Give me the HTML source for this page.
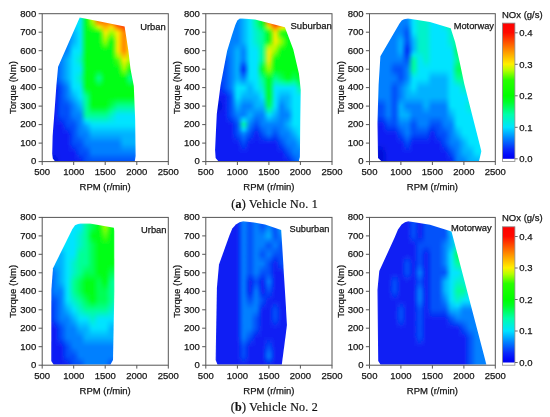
<!DOCTYPE html>
<html><head><meta charset="utf-8"><style>
html,body{margin:0;padding:0;background:#fff;}
svg{display:block}
.t{font-family:"Liberation Sans",Arial,sans-serif;font-size:9.5px;fill:#151515;stroke:#151515;stroke-width:0.25px;}
.cap{font-family:"Liberation Serif","Times New Roman",serif;font-size:12px;letter-spacing:0.25px;fill:#111;stroke:#111;stroke-width:0.2px;}
</style></head><body>
<svg width="550" height="417" viewBox="0 0 550 417">
<defs>
<filter id="bl" x="-5%" y="-5%" width="110%" height="110%"><feGaussianBlur stdDeviation="1.0"/></filter>
<clipPath id="c0"><polygon points="79.7,17.5 100.0,21.4 124.6,26.6 128.4,50.8 130.5,69.0 133.8,86.0 135.2,120.0 135.7,156.0 134.8,161.2 55.0,161.2 52.8,158.5 52.1,153.7 52.6,136.0 54.6,110.6 56.4,85.3 58.1,66.7"/></clipPath>
<clipPath id="c1"><polygon points="242.4,18.5 255.0,19.5 284.9,27.3 293.3,49.4 298.9,73.6 300.8,90.0 300.3,120.0 299.9,157.0 298.8,161.2 218.4,161.2 215.6,158.0 215.0,150.0 216.8,114.0 220.6,85.0 227.1,51.0 232.0,35.0 235.3,25.0 237.3,20.6 239.8,18.6"/></clipPath>
<clipPath id="c2"><polygon points="408.0,18.6 430.0,22.0 450.7,28.3 455.1,42.0 459.6,61.7 464.3,84.0 481.4,151.2 479.0,161.2 381.5,161.2 378.0,158.0 377.4,123.0 378.6,85.0 380.4,56.3 399.5,23.5 401.7,20.6 404.0,19.2"/></clipPath>
<clipPath id="c3"><polygon points="80.5,223.6 90.0,223.6 113.9,227.8 114.3,231.0 114.4,290.0 113.0,360.0 110.5,364.6 53.6,364.6 51.2,361.0 51.3,290.0 53.0,268.2 72.3,229.2 75.0,225.3 78.0,224.0"/></clipPath>
<clipPath id="c4"><polygon points="243.2,221.3 254.1,222.6 265.0,224.4 281.2,229.9 285.0,292.0 287.0,325.0 281.8,364.6 217.5,364.6 215.6,360.0 216.9,288.0 219.0,264.6 229.4,235.4 232.3,228.5 235.9,224.5 239.5,222.2"/></clipPath>
<clipPath id="c5"><polygon points="408.2,221.2 419.1,223.0 430.0,224.8 451.5,231.4 486.4,364.6 380.5,364.6 378.2,361.0 377.4,290.0 379.3,271.0 394.3,238.3 398.0,229.5 401.6,224.5 405.0,222.2"/></clipPath>
<linearGradient id="g0_0" gradientUnits="userSpaceOnUse" x1="42.2" x2="143.1" y1="0" y2="0"><stop offset="0.000" stop-color="#00e4ff"/><stop offset="0.062" stop-color="#00e4ff"/><stop offset="0.125" stop-color="#00e4ff"/><stop offset="0.188" stop-color="#00e4ff"/><stop offset="0.250" stop-color="#00e4ff"/><stop offset="0.312" stop-color="#00e4ff"/><stop offset="0.375" stop-color="#00e4ff"/><stop offset="0.438" stop-color="#00ff14"/><stop offset="0.500" stop-color="#d3f400"/><stop offset="0.562" stop-color="#ff4700"/><stop offset="0.625" stop-color="#ff4700"/><stop offset="0.688" stop-color="#ff4700"/><stop offset="0.750" stop-color="#ff1400"/><stop offset="0.812" stop-color="#ff1400"/><stop offset="0.875" stop-color="#ff1400"/><stop offset="0.938" stop-color="#ff1400"/><stop offset="1.000" stop-color="#ff1400"/></linearGradient>
<linearGradient id="g0_1" gradientUnits="userSpaceOnUse" x1="42.2" x2="143.1" y1="0" y2="0"><stop offset="0.000" stop-color="#00e4ff"/><stop offset="0.062" stop-color="#00e4ff"/><stop offset="0.125" stop-color="#00e4ff"/><stop offset="0.188" stop-color="#00e4ff"/><stop offset="0.250" stop-color="#00e4ff"/><stop offset="0.312" stop-color="#00e4ff"/><stop offset="0.375" stop-color="#00e4ff"/><stop offset="0.438" stop-color="#00ff14"/><stop offset="0.500" stop-color="#b4fb00"/><stop offset="0.562" stop-color="#ff6b00"/><stop offset="0.625" stop-color="#ff6b00"/><stop offset="0.688" stop-color="#ff6b00"/><stop offset="0.750" stop-color="#ff1400"/><stop offset="0.812" stop-color="#ff1400"/><stop offset="0.875" stop-color="#ff1400"/><stop offset="0.938" stop-color="#ff1400"/><stop offset="1.000" stop-color="#ff1400"/></linearGradient>
<linearGradient id="g0_2" gradientUnits="userSpaceOnUse" x1="42.2" x2="143.1" y1="0" y2="0"><stop offset="0.000" stop-color="#00d9ff"/><stop offset="0.062" stop-color="#00d9ff"/><stop offset="0.125" stop-color="#00d9ff"/><stop offset="0.188" stop-color="#00d9ff"/><stop offset="0.250" stop-color="#00d9ff"/><stop offset="0.312" stop-color="#00deff"/><stop offset="0.375" stop-color="#00e4ff"/><stop offset="0.438" stop-color="#00ff14"/><stop offset="0.500" stop-color="#8eff02"/><stop offset="0.562" stop-color="#ffa600"/><stop offset="0.625" stop-color="#ff8e00"/><stop offset="0.688" stop-color="#ff9a00"/><stop offset="0.750" stop-color="#ff2d00"/><stop offset="0.812" stop-color="#ff2100"/><stop offset="0.875" stop-color="#ff2100"/><stop offset="0.938" stop-color="#ff2100"/><stop offset="1.000" stop-color="#ff2100"/></linearGradient>
<linearGradient id="g0_3" gradientUnits="userSpaceOnUse" x1="42.2" x2="143.1" y1="0" y2="0"><stop offset="0.000" stop-color="#00b8ff"/><stop offset="0.062" stop-color="#00b8ff"/><stop offset="0.125" stop-color="#00b8ff"/><stop offset="0.188" stop-color="#00b8ff"/><stop offset="0.250" stop-color="#00b8ff"/><stop offset="0.312" stop-color="#00ceff"/><stop offset="0.375" stop-color="#00e4ff"/><stop offset="0.438" stop-color="#00ff14"/><stop offset="0.500" stop-color="#5aff09"/><stop offset="0.562" stop-color="#e1f100"/><stop offset="0.625" stop-color="#ffb000"/><stop offset="0.688" stop-color="#ffde00"/><stop offset="0.750" stop-color="#ff7500"/><stop offset="0.812" stop-color="#ff4400"/><stop offset="0.875" stop-color="#ff4400"/><stop offset="0.938" stop-color="#ff4400"/><stop offset="1.000" stop-color="#ff4400"/></linearGradient>
<linearGradient id="g0_4" gradientUnits="userSpaceOnUse" x1="42.2" x2="143.1" y1="0" y2="0"><stop offset="0.000" stop-color="#0098ff"/><stop offset="0.062" stop-color="#0098ff"/><stop offset="0.125" stop-color="#0098ff"/><stop offset="0.188" stop-color="#0098ff"/><stop offset="0.250" stop-color="#0098ff"/><stop offset="0.312" stop-color="#00beff"/><stop offset="0.375" stop-color="#00e4ff"/><stop offset="0.438" stop-color="#00ff14"/><stop offset="0.500" stop-color="#26ff0f"/><stop offset="0.562" stop-color="#72ff06"/><stop offset="0.625" stop-color="#ffd200"/><stop offset="0.688" stop-color="#cdf600"/><stop offset="0.750" stop-color="#ffb900"/><stop offset="0.812" stop-color="#ff6800"/><stop offset="0.875" stop-color="#ff6800"/><stop offset="0.938" stop-color="#ff6800"/><stop offset="1.000" stop-color="#ff6800"/></linearGradient>
<linearGradient id="g0_5" gradientUnits="userSpaceOnUse" x1="42.2" x2="143.1" y1="0" y2="0"><stop offset="0.000" stop-color="#0080ff"/><stop offset="0.062" stop-color="#0080ff"/><stop offset="0.125" stop-color="#0080ff"/><stop offset="0.188" stop-color="#0080ff"/><stop offset="0.250" stop-color="#0080ff"/><stop offset="0.312" stop-color="#00b2ff"/><stop offset="0.375" stop-color="#00e4ff"/><stop offset="0.438" stop-color="#00ff14"/><stop offset="0.500" stop-color="#00ff14"/><stop offset="0.562" stop-color="#00ff14"/><stop offset="0.625" stop-color="#f7ed00"/><stop offset="0.688" stop-color="#92ff02"/><stop offset="0.750" stop-color="#ffeb00"/><stop offset="0.812" stop-color="#ff8200"/><stop offset="0.875" stop-color="#ff8b00"/><stop offset="0.938" stop-color="#ff8b00"/><stop offset="1.000" stop-color="#ff8b00"/></linearGradient>
<linearGradient id="g0_6" gradientUnits="userSpaceOnUse" x1="42.2" x2="143.1" y1="0" y2="0"><stop offset="0.000" stop-color="#0080ff"/><stop offset="0.062" stop-color="#0080ff"/><stop offset="0.125" stop-color="#0080ff"/><stop offset="0.188" stop-color="#0080ff"/><stop offset="0.250" stop-color="#0080ff"/><stop offset="0.312" stop-color="#00b2ff"/><stop offset="0.375" stop-color="#00e4ff"/><stop offset="0.438" stop-color="#00ff14"/><stop offset="0.500" stop-color="#00ff14"/><stop offset="0.562" stop-color="#00ff14"/><stop offset="0.625" stop-color="#d8f300"/><stop offset="0.688" stop-color="#5eff08"/><stop offset="0.750" stop-color="#ffeb00"/><stop offset="0.812" stop-color="#ff8200"/><stop offset="0.875" stop-color="#ffad00"/><stop offset="0.938" stop-color="#ffad00"/><stop offset="1.000" stop-color="#ffad00"/></linearGradient>
<linearGradient id="g0_7" gradientUnits="userSpaceOnUse" x1="42.2" x2="143.1" y1="0" y2="0"><stop offset="0.000" stop-color="#0080ff"/><stop offset="0.062" stop-color="#0080ff"/><stop offset="0.125" stop-color="#0080ff"/><stop offset="0.188" stop-color="#0080ff"/><stop offset="0.250" stop-color="#0080ff"/><stop offset="0.312" stop-color="#00b2ff"/><stop offset="0.375" stop-color="#00e4ff"/><stop offset="0.438" stop-color="#00ff14"/><stop offset="0.500" stop-color="#00ff14"/><stop offset="0.562" stop-color="#00ff14"/><stop offset="0.625" stop-color="#b9fa00"/><stop offset="0.688" stop-color="#2aff0f"/><stop offset="0.750" stop-color="#ffeb00"/><stop offset="0.812" stop-color="#ff8200"/><stop offset="0.875" stop-color="#ffcf00"/><stop offset="0.938" stop-color="#ffcf00"/><stop offset="1.000" stop-color="#ffcf00"/></linearGradient>
<linearGradient id="g0_8" gradientUnits="userSpaceOnUse" x1="42.2" x2="143.1" y1="0" y2="0"><stop offset="0.000" stop-color="#0080ff"/><stop offset="0.062" stop-color="#0080ff"/><stop offset="0.125" stop-color="#0080ff"/><stop offset="0.188" stop-color="#0080ff"/><stop offset="0.250" stop-color="#0080ff"/><stop offset="0.312" stop-color="#00b5ff"/><stop offset="0.375" stop-color="#00e4ff"/><stop offset="0.438" stop-color="#00ff14"/><stop offset="0.500" stop-color="#00ff14"/><stop offset="0.562" stop-color="#00ff14"/><stop offset="0.625" stop-color="#96ff01"/><stop offset="0.688" stop-color="#00ff14"/><stop offset="0.750" stop-color="#ffeb00"/><stop offset="0.812" stop-color="#ff8200"/><stop offset="0.875" stop-color="#ffeb00"/><stop offset="0.938" stop-color="#ffeb00"/><stop offset="1.000" stop-color="#ffeb00"/></linearGradient>
<linearGradient id="g0_9" gradientUnits="userSpaceOnUse" x1="42.2" x2="143.1" y1="0" y2="0"><stop offset="0.000" stop-color="#0080ff"/><stop offset="0.062" stop-color="#0080ff"/><stop offset="0.125" stop-color="#0080ff"/><stop offset="0.188" stop-color="#0080ff"/><stop offset="0.250" stop-color="#0080ff"/><stop offset="0.312" stop-color="#00c5ff"/><stop offset="0.375" stop-color="#00e4ff"/><stop offset="0.438" stop-color="#00ff14"/><stop offset="0.500" stop-color="#00ff14"/><stop offset="0.562" stop-color="#00ff14"/><stop offset="0.625" stop-color="#62ff08"/><stop offset="0.688" stop-color="#00ff14"/><stop offset="0.750" stop-color="#ffeb00"/><stop offset="0.812" stop-color="#ff8200"/><stop offset="0.875" stop-color="#ffeb00"/><stop offset="0.938" stop-color="#ffeb00"/><stop offset="1.000" stop-color="#ffeb00"/></linearGradient>
<linearGradient id="g0_10" gradientUnits="userSpaceOnUse" x1="42.2" x2="143.1" y1="0" y2="0"><stop offset="0.000" stop-color="#0080ff"/><stop offset="0.062" stop-color="#0080ff"/><stop offset="0.125" stop-color="#0080ff"/><stop offset="0.188" stop-color="#0080ff"/><stop offset="0.250" stop-color="#0080ff"/><stop offset="0.312" stop-color="#00d6ff"/><stop offset="0.375" stop-color="#00e4ff"/><stop offset="0.438" stop-color="#00ff14"/><stop offset="0.500" stop-color="#00ff14"/><stop offset="0.562" stop-color="#00ff14"/><stop offset="0.625" stop-color="#2eff0e"/><stop offset="0.688" stop-color="#00ff14"/><stop offset="0.750" stop-color="#ffeb00"/><stop offset="0.812" stop-color="#ff8200"/><stop offset="0.875" stop-color="#ffeb00"/><stop offset="0.938" stop-color="#ffeb00"/><stop offset="1.000" stop-color="#ffeb00"/></linearGradient>
<linearGradient id="g0_11" gradientUnits="userSpaceOnUse" x1="42.2" x2="143.1" y1="0" y2="0"><stop offset="0.000" stop-color="#0080ff"/><stop offset="0.062" stop-color="#0080ff"/><stop offset="0.125" stop-color="#0080ff"/><stop offset="0.188" stop-color="#0080ff"/><stop offset="0.250" stop-color="#0082ff"/><stop offset="0.312" stop-color="#00e4ff"/><stop offset="0.375" stop-color="#00e4fd"/><stop offset="0.438" stop-color="#00ff14"/><stop offset="0.500" stop-color="#00ff14"/><stop offset="0.562" stop-color="#00ff14"/><stop offset="0.625" stop-color="#00ff14"/><stop offset="0.688" stop-color="#00ff14"/><stop offset="0.750" stop-color="#faec00"/><stop offset="0.812" stop-color="#ff8600"/><stop offset="0.875" stop-color="#fcec00"/><stop offset="0.938" stop-color="#fcec00"/><stop offset="1.000" stop-color="#fcec00"/></linearGradient>
<linearGradient id="g0_12" gradientUnits="userSpaceOnUse" x1="42.2" x2="143.1" y1="0" y2="0"><stop offset="0.000" stop-color="#0080ff"/><stop offset="0.062" stop-color="#0080ff"/><stop offset="0.125" stop-color="#0080ff"/><stop offset="0.188" stop-color="#0080ff"/><stop offset="0.250" stop-color="#0092ff"/><stop offset="0.312" stop-color="#00e4ff"/><stop offset="0.375" stop-color="#00e9ec"/><stop offset="0.438" stop-color="#00ff14"/><stop offset="0.500" stop-color="#00ff14"/><stop offset="0.562" stop-color="#00ff14"/><stop offset="0.625" stop-color="#00ff14"/><stop offset="0.688" stop-color="#00ff14"/><stop offset="0.750" stop-color="#ccf600"/><stop offset="0.812" stop-color="#ffa800"/><stop offset="0.875" stop-color="#ddf200"/><stop offset="0.938" stop-color="#ddf200"/><stop offset="1.000" stop-color="#ddf200"/></linearGradient>
<linearGradient id="g0_13" gradientUnits="userSpaceOnUse" x1="42.2" x2="143.1" y1="0" y2="0"><stop offset="0.000" stop-color="#0080ff"/><stop offset="0.062" stop-color="#0080ff"/><stop offset="0.125" stop-color="#0080ff"/><stop offset="0.188" stop-color="#0080ff"/><stop offset="0.250" stop-color="#00a2ff"/><stop offset="0.312" stop-color="#00e4ff"/><stop offset="0.375" stop-color="#00eddb"/><stop offset="0.438" stop-color="#00ff14"/><stop offset="0.500" stop-color="#00ff14"/><stop offset="0.562" stop-color="#00ff14"/><stop offset="0.625" stop-color="#00ff14"/><stop offset="0.688" stop-color="#00ff14"/><stop offset="0.750" stop-color="#9cff01"/><stop offset="0.812" stop-color="#ffca00"/><stop offset="0.875" stop-color="#bef900"/><stop offset="0.938" stop-color="#bef900"/><stop offset="1.000" stop-color="#bef900"/></linearGradient>
<linearGradient id="g0_14" gradientUnits="userSpaceOnUse" x1="42.2" x2="143.1" y1="0" y2="0"><stop offset="0.000" stop-color="#0080ff"/><stop offset="0.062" stop-color="#0080ff"/><stop offset="0.125" stop-color="#0080ff"/><stop offset="0.188" stop-color="#0080ff"/><stop offset="0.250" stop-color="#00b2ff"/><stop offset="0.312" stop-color="#00e4ff"/><stop offset="0.375" stop-color="#00f1cb"/><stop offset="0.438" stop-color="#00ff14"/><stop offset="0.500" stop-color="#00ff14"/><stop offset="0.562" stop-color="#00ff14"/><stop offset="0.625" stop-color="#00ff14"/><stop offset="0.688" stop-color="#00ff14"/><stop offset="0.750" stop-color="#4fff0a"/><stop offset="0.812" stop-color="#feeb00"/><stop offset="0.875" stop-color="#9fff00"/><stop offset="0.938" stop-color="#9fff00"/><stop offset="1.000" stop-color="#9fff00"/></linearGradient>
<linearGradient id="g0_15" gradientUnits="userSpaceOnUse" x1="42.2" x2="143.1" y1="0" y2="0"><stop offset="0.000" stop-color="#0170fd"/><stop offset="0.062" stop-color="#0170fd"/><stop offset="0.125" stop-color="#0170fd"/><stop offset="0.188" stop-color="#0080ff"/><stop offset="0.250" stop-color="#00b2ff"/><stop offset="0.312" stop-color="#00e4ff"/><stop offset="0.375" stop-color="#00eddc"/><stop offset="0.438" stop-color="#00ff14"/><stop offset="0.500" stop-color="#00ff14"/><stop offset="0.562" stop-color="#00ff14"/><stop offset="0.625" stop-color="#00ff14"/><stop offset="0.688" stop-color="#00ff14"/><stop offset="0.750" stop-color="#35ff0d"/><stop offset="0.812" stop-color="#dff200"/><stop offset="0.875" stop-color="#6bff07"/><stop offset="0.938" stop-color="#6bff07"/><stop offset="1.000" stop-color="#6bff07"/></linearGradient>
<linearGradient id="g0_16" gradientUnits="userSpaceOnUse" x1="42.2" x2="143.1" y1="0" y2="0"><stop offset="0.000" stop-color="#0360fb"/><stop offset="0.062" stop-color="#0360fb"/><stop offset="0.125" stop-color="#0360fb"/><stop offset="0.188" stop-color="#0080ff"/><stop offset="0.250" stop-color="#00b2ff"/><stop offset="0.312" stop-color="#00e4ff"/><stop offset="0.375" stop-color="#00e9ed"/><stop offset="0.438" stop-color="#00ff14"/><stop offset="0.500" stop-color="#00ff14"/><stop offset="0.562" stop-color="#00ff14"/><stop offset="0.625" stop-color="#00ff14"/><stop offset="0.688" stop-color="#00ff14"/><stop offset="0.750" stop-color="#1bff11"/><stop offset="0.812" stop-color="#c1f800"/><stop offset="0.875" stop-color="#37ff0d"/><stop offset="0.938" stop-color="#37ff0d"/><stop offset="1.000" stop-color="#37ff0d"/></linearGradient>
<linearGradient id="g0_17" gradientUnits="userSpaceOnUse" x1="42.2" x2="143.1" y1="0" y2="0"><stop offset="0.000" stop-color="#0450fa"/><stop offset="0.062" stop-color="#0450fa"/><stop offset="0.125" stop-color="#0450fa"/><stop offset="0.188" stop-color="#0080ff"/><stop offset="0.250" stop-color="#00b2ff"/><stop offset="0.312" stop-color="#00e4ff"/><stop offset="0.375" stop-color="#00e4fe"/><stop offset="0.438" stop-color="#00ff14"/><stop offset="0.500" stop-color="#00ff14"/><stop offset="0.562" stop-color="#00ff14"/><stop offset="0.625" stop-color="#00ff14"/><stop offset="0.688" stop-color="#00ff14"/><stop offset="0.750" stop-color="#01ff14"/><stop offset="0.812" stop-color="#a2ff00"/><stop offset="0.875" stop-color="#03ff14"/><stop offset="0.938" stop-color="#03ff14"/><stop offset="1.000" stop-color="#03ff14"/></linearGradient>
<linearGradient id="g0_18" gradientUnits="userSpaceOnUse" x1="42.2" x2="143.1" y1="0" y2="0"><stop offset="0.000" stop-color="#044ffa"/><stop offset="0.062" stop-color="#044ffa"/><stop offset="0.125" stop-color="#044ffa"/><stop offset="0.188" stop-color="#0080ff"/><stop offset="0.250" stop-color="#00b2ff"/><stop offset="0.312" stop-color="#00e4ff"/><stop offset="0.375" stop-color="#00e8ef"/><stop offset="0.438" stop-color="#00ff14"/><stop offset="0.500" stop-color="#00ff14"/><stop offset="0.562" stop-color="#00ff3c"/><stop offset="0.625" stop-color="#00ff14"/><stop offset="0.688" stop-color="#00ff14"/><stop offset="0.750" stop-color="#00ff14"/><stop offset="0.812" stop-color="#6fff06"/><stop offset="0.875" stop-color="#00ff3c"/><stop offset="0.938" stop-color="#00ff14"/><stop offset="1.000" stop-color="#00ff14"/></linearGradient>
<linearGradient id="g0_19" gradientUnits="userSpaceOnUse" x1="42.2" x2="143.1" y1="0" y2="0"><stop offset="0.000" stop-color="#044ffa"/><stop offset="0.062" stop-color="#044ffa"/><stop offset="0.125" stop-color="#044ffa"/><stop offset="0.188" stop-color="#0080ff"/><stop offset="0.250" stop-color="#00b2ff"/><stop offset="0.312" stop-color="#00e4ff"/><stop offset="0.375" stop-color="#00edde"/><stop offset="0.438" stop-color="#00ff14"/><stop offset="0.500" stop-color="#00ff14"/><stop offset="0.562" stop-color="#00ff66"/><stop offset="0.625" stop-color="#00ff14"/><stop offset="0.688" stop-color="#00ff14"/><stop offset="0.750" stop-color="#00ff14"/><stop offset="0.812" stop-color="#3bff0d"/><stop offset="0.875" stop-color="#00ff66"/><stop offset="0.938" stop-color="#00ff14"/><stop offset="1.000" stop-color="#00ff14"/></linearGradient>
<linearGradient id="g0_20" gradientUnits="userSpaceOnUse" x1="42.2" x2="143.1" y1="0" y2="0"><stop offset="0.000" stop-color="#044ffa"/><stop offset="0.062" stop-color="#044ffa"/><stop offset="0.125" stop-color="#044ffa"/><stop offset="0.188" stop-color="#0080ff"/><stop offset="0.250" stop-color="#00b2ff"/><stop offset="0.312" stop-color="#00e4ff"/><stop offset="0.375" stop-color="#00f1cd"/><stop offset="0.438" stop-color="#00ff14"/><stop offset="0.500" stop-color="#00ff14"/><stop offset="0.562" stop-color="#00ff90"/><stop offset="0.625" stop-color="#00ff14"/><stop offset="0.688" stop-color="#00ff14"/><stop offset="0.750" stop-color="#00ff14"/><stop offset="0.812" stop-color="#07ff13"/><stop offset="0.875" stop-color="#00ff90"/><stop offset="0.938" stop-color="#00ff14"/><stop offset="1.000" stop-color="#00ff14"/></linearGradient>
<linearGradient id="g0_21" gradientUnits="userSpaceOnUse" x1="42.2" x2="143.1" y1="0" y2="0"><stop offset="0.000" stop-color="#0541f8"/><stop offset="0.062" stop-color="#0541f8"/><stop offset="0.125" stop-color="#0541f8"/><stop offset="0.188" stop-color="#0172fd"/><stop offset="0.250" stop-color="#00a4ff"/><stop offset="0.312" stop-color="#00e4ff"/><stop offset="0.375" stop-color="#00eed9"/><stop offset="0.438" stop-color="#00ff14"/><stop offset="0.500" stop-color="#00ff14"/><stop offset="0.562" stop-color="#00ff72"/><stop offset="0.625" stop-color="#00ff14"/><stop offset="0.688" stop-color="#00ff14"/><stop offset="0.750" stop-color="#00ff14"/><stop offset="0.812" stop-color="#00ff14"/><stop offset="0.875" stop-color="#00ff72"/><stop offset="0.938" stop-color="#00ff14"/><stop offset="1.000" stop-color="#00ff14"/></linearGradient>
<linearGradient id="g0_22" gradientUnits="userSpaceOnUse" x1="42.2" x2="143.1" y1="0" y2="0"><stop offset="0.000" stop-color="#0631f6"/><stop offset="0.062" stop-color="#0631f6"/><stop offset="0.125" stop-color="#0631f6"/><stop offset="0.188" stop-color="#0262fc"/><stop offset="0.250" stop-color="#0094ff"/><stop offset="0.312" stop-color="#00e4ff"/><stop offset="0.375" stop-color="#00e9ea"/><stop offset="0.438" stop-color="#00ff14"/><stop offset="0.500" stop-color="#00ff14"/><stop offset="0.562" stop-color="#00ff47"/><stop offset="0.625" stop-color="#00ff14"/><stop offset="0.688" stop-color="#00ff14"/><stop offset="0.750" stop-color="#00ff14"/><stop offset="0.812" stop-color="#00ff14"/><stop offset="0.875" stop-color="#00ff47"/><stop offset="0.938" stop-color="#00ff14"/><stop offset="1.000" stop-color="#00ff14"/></linearGradient>
<linearGradient id="g0_23" gradientUnits="userSpaceOnUse" x1="42.2" x2="143.1" y1="0" y2="0"><stop offset="0.000" stop-color="#0821f4"/><stop offset="0.062" stop-color="#0821f4"/><stop offset="0.125" stop-color="#0821f4"/><stop offset="0.188" stop-color="#0452fa"/><stop offset="0.250" stop-color="#0084ff"/><stop offset="0.312" stop-color="#00e4ff"/><stop offset="0.375" stop-color="#00e5fb"/><stop offset="0.438" stop-color="#00ff14"/><stop offset="0.500" stop-color="#00ff14"/><stop offset="0.562" stop-color="#00ff1d"/><stop offset="0.625" stop-color="#00ff14"/><stop offset="0.688" stop-color="#00ff14"/><stop offset="0.750" stop-color="#00ff14"/><stop offset="0.812" stop-color="#00ff14"/><stop offset="0.875" stop-color="#00ff1d"/><stop offset="0.938" stop-color="#00ff14"/><stop offset="1.000" stop-color="#00ff14"/></linearGradient>
<linearGradient id="g0_24" gradientUnits="userSpaceOnUse" x1="42.2" x2="143.1" y1="0" y2="0"><stop offset="0.000" stop-color="#081ef4"/><stop offset="0.062" stop-color="#081ef4"/><stop offset="0.125" stop-color="#081ef4"/><stop offset="0.188" stop-color="#044ffa"/><stop offset="0.250" stop-color="#0080ff"/><stop offset="0.312" stop-color="#00d7ff"/><stop offset="0.375" stop-color="#00e4ff"/><stop offset="0.438" stop-color="#00ff35"/><stop offset="0.500" stop-color="#00ff14"/><stop offset="0.562" stop-color="#00ff14"/><stop offset="0.625" stop-color="#00ff14"/><stop offset="0.688" stop-color="#00ff14"/><stop offset="0.750" stop-color="#00ff14"/><stop offset="0.812" stop-color="#00ff14"/><stop offset="0.875" stop-color="#00ff14"/><stop offset="0.938" stop-color="#00ff14"/><stop offset="1.000" stop-color="#00ff14"/></linearGradient>
<linearGradient id="g0_25" gradientUnits="userSpaceOnUse" x1="42.2" x2="143.1" y1="0" y2="0"><stop offset="0.000" stop-color="#081ef4"/><stop offset="0.062" stop-color="#081ef4"/><stop offset="0.125" stop-color="#081ef4"/><stop offset="0.188" stop-color="#044ffa"/><stop offset="0.250" stop-color="#0080ff"/><stop offset="0.312" stop-color="#00c7ff"/><stop offset="0.375" stop-color="#00e4ff"/><stop offset="0.438" stop-color="#00ff5f"/><stop offset="0.500" stop-color="#00ff14"/><stop offset="0.562" stop-color="#00ff14"/><stop offset="0.625" stop-color="#00ff14"/><stop offset="0.688" stop-color="#00ff14"/><stop offset="0.750" stop-color="#00ff14"/><stop offset="0.812" stop-color="#00ff14"/><stop offset="0.875" stop-color="#00ff14"/><stop offset="0.938" stop-color="#00ff14"/><stop offset="1.000" stop-color="#00ff14"/></linearGradient>
<linearGradient id="g0_26" gradientUnits="userSpaceOnUse" x1="42.2" x2="143.1" y1="0" y2="0"><stop offset="0.000" stop-color="#081ef4"/><stop offset="0.062" stop-color="#081ef4"/><stop offset="0.125" stop-color="#081ef4"/><stop offset="0.188" stop-color="#044ffa"/><stop offset="0.250" stop-color="#0080ff"/><stop offset="0.312" stop-color="#00b7ff"/><stop offset="0.375" stop-color="#00e4ff"/><stop offset="0.438" stop-color="#00ff89"/><stop offset="0.500" stop-color="#00ff14"/><stop offset="0.562" stop-color="#00ff14"/><stop offset="0.625" stop-color="#00ff14"/><stop offset="0.688" stop-color="#00ff14"/><stop offset="0.750" stop-color="#00ff14"/><stop offset="0.812" stop-color="#00ff14"/><stop offset="0.875" stop-color="#00ff14"/><stop offset="0.938" stop-color="#00ff14"/><stop offset="1.000" stop-color="#00ff14"/></linearGradient>
<linearGradient id="g0_27" gradientUnits="userSpaceOnUse" x1="42.2" x2="143.1" y1="0" y2="0"><stop offset="0.000" stop-color="#081ef4"/><stop offset="0.062" stop-color="#081ef4"/><stop offset="0.125" stop-color="#081ef4"/><stop offset="0.188" stop-color="#044ffa"/><stop offset="0.250" stop-color="#0175fe"/><stop offset="0.312" stop-color="#00a7ff"/><stop offset="0.375" stop-color="#00d9ff"/><stop offset="0.438" stop-color="#00ff96"/><stop offset="0.500" stop-color="#00ff14"/><stop offset="0.562" stop-color="#00ff14"/><stop offset="0.625" stop-color="#00ff14"/><stop offset="0.688" stop-color="#00ff23"/><stop offset="0.750" stop-color="#00ff32"/><stop offset="0.812" stop-color="#00ff32"/><stop offset="0.875" stop-color="#00ff32"/><stop offset="0.938" stop-color="#00ff32"/><stop offset="1.000" stop-color="#00ff32"/></linearGradient>
<linearGradient id="g0_28" gradientUnits="userSpaceOnUse" x1="42.2" x2="143.1" y1="0" y2="0"><stop offset="0.000" stop-color="#081ef4"/><stop offset="0.062" stop-color="#081ef4"/><stop offset="0.125" stop-color="#081ef4"/><stop offset="0.188" stop-color="#044ffa"/><stop offset="0.250" stop-color="#0265fc"/><stop offset="0.312" stop-color="#0096ff"/><stop offset="0.375" stop-color="#00c8ff"/><stop offset="0.438" stop-color="#00ff96"/><stop offset="0.500" stop-color="#00ff14"/><stop offset="0.562" stop-color="#00ff14"/><stop offset="0.625" stop-color="#00ff14"/><stop offset="0.688" stop-color="#00ff38"/><stop offset="0.750" stop-color="#00ff5c"/><stop offset="0.812" stop-color="#00ff5c"/><stop offset="0.875" stop-color="#00ff5c"/><stop offset="0.938" stop-color="#00ff5c"/><stop offset="1.000" stop-color="#00ff5c"/></linearGradient>
<linearGradient id="g0_29" gradientUnits="userSpaceOnUse" x1="42.2" x2="143.1" y1="0" y2="0"><stop offset="0.000" stop-color="#081ef4"/><stop offset="0.062" stop-color="#081ef4"/><stop offset="0.125" stop-color="#081ef4"/><stop offset="0.188" stop-color="#044ffa"/><stop offset="0.250" stop-color="#0455fa"/><stop offset="0.312" stop-color="#0086ff"/><stop offset="0.375" stop-color="#00b8ff"/><stop offset="0.438" stop-color="#00ff96"/><stop offset="0.500" stop-color="#00ff14"/><stop offset="0.562" stop-color="#00ff14"/><stop offset="0.625" stop-color="#00ff14"/><stop offset="0.688" stop-color="#00ff4d"/><stop offset="0.750" stop-color="#00ff86"/><stop offset="0.812" stop-color="#00ff86"/><stop offset="0.875" stop-color="#00ff86"/><stop offset="0.938" stop-color="#00ff86"/><stop offset="1.000" stop-color="#00ff86"/></linearGradient>
<linearGradient id="g0_30" gradientUnits="userSpaceOnUse" x1="42.2" x2="143.1" y1="0" y2="0"><stop offset="0.000" stop-color="#081ef4"/><stop offset="0.062" stop-color="#081ef4"/><stop offset="0.125" stop-color="#081ef4"/><stop offset="0.188" stop-color="#044ffa"/><stop offset="0.250" stop-color="#044ffa"/><stop offset="0.312" stop-color="#0080ff"/><stop offset="0.375" stop-color="#00a8ff"/><stop offset="0.438" stop-color="#00ff96"/><stop offset="0.500" stop-color="#00ff2e"/><stop offset="0.562" stop-color="#00ff2e"/><stop offset="0.625" stop-color="#00ff2e"/><stop offset="0.688" stop-color="#00ff6f"/><stop offset="0.750" stop-color="#00faab"/><stop offset="0.812" stop-color="#00faab"/><stop offset="0.875" stop-color="#00faab"/><stop offset="0.938" stop-color="#00faab"/><stop offset="1.000" stop-color="#00faab"/></linearGradient>
<linearGradient id="g0_31" gradientUnits="userSpaceOnUse" x1="42.2" x2="143.1" y1="0" y2="0"><stop offset="0.000" stop-color="#081ef4"/><stop offset="0.062" stop-color="#081ef4"/><stop offset="0.125" stop-color="#081ef4"/><stop offset="0.188" stop-color="#044ffa"/><stop offset="0.250" stop-color="#044ffa"/><stop offset="0.312" stop-color="#0080ff"/><stop offset="0.375" stop-color="#0098ff"/><stop offset="0.438" stop-color="#00ff96"/><stop offset="0.500" stop-color="#00ff58"/><stop offset="0.562" stop-color="#00ff58"/><stop offset="0.625" stop-color="#00ff58"/><stop offset="0.688" stop-color="#00fe99"/><stop offset="0.750" stop-color="#00f1cd"/><stop offset="0.812" stop-color="#00f1cd"/><stop offset="0.875" stop-color="#00f1cd"/><stop offset="0.938" stop-color="#00f1cd"/><stop offset="1.000" stop-color="#00f1cd"/></linearGradient>
<linearGradient id="g0_32" gradientUnits="userSpaceOnUse" x1="42.2" x2="143.1" y1="0" y2="0"><stop offset="0.000" stop-color="#081ef4"/><stop offset="0.062" stop-color="#081ef4"/><stop offset="0.125" stop-color="#081ef4"/><stop offset="0.188" stop-color="#044ffa"/><stop offset="0.250" stop-color="#044ffa"/><stop offset="0.312" stop-color="#0080ff"/><stop offset="0.375" stop-color="#0087ff"/><stop offset="0.438" stop-color="#00ff96"/><stop offset="0.500" stop-color="#00ff83"/><stop offset="0.562" stop-color="#00ff83"/><stop offset="0.625" stop-color="#00ff83"/><stop offset="0.688" stop-color="#00f6bb"/><stop offset="0.750" stop-color="#00e8ef"/><stop offset="0.812" stop-color="#00e8ef"/><stop offset="0.875" stop-color="#00e8ef"/><stop offset="0.938" stop-color="#00e8ef"/><stop offset="1.000" stop-color="#00e8ef"/></linearGradient>
<linearGradient id="g0_33" gradientUnits="userSpaceOnUse" x1="42.2" x2="143.1" y1="0" y2="0"><stop offset="0.000" stop-color="#081ef4"/><stop offset="0.062" stop-color="#081ef4"/><stop offset="0.125" stop-color="#081ef4"/><stop offset="0.188" stop-color="#0546f9"/><stop offset="0.250" stop-color="#044ffa"/><stop offset="0.312" stop-color="#0177fe"/><stop offset="0.375" stop-color="#0080ff"/><stop offset="0.438" stop-color="#00f8b2"/><stop offset="0.500" stop-color="#00faa8"/><stop offset="0.562" stop-color="#00faa8"/><stop offset="0.625" stop-color="#00faa8"/><stop offset="0.688" stop-color="#00efd4"/><stop offset="0.750" stop-color="#00e4ff"/><stop offset="0.812" stop-color="#00e4ff"/><stop offset="0.875" stop-color="#00e4ff"/><stop offset="0.938" stop-color="#00e4ff"/><stop offset="1.000" stop-color="#00e4ff"/></linearGradient>
<linearGradient id="g0_34" gradientUnits="userSpaceOnUse" x1="42.2" x2="143.1" y1="0" y2="0"><stop offset="0.000" stop-color="#081ef4"/><stop offset="0.062" stop-color="#081ef4"/><stop offset="0.125" stop-color="#081ef4"/><stop offset="0.188" stop-color="#0637f7"/><stop offset="0.250" stop-color="#044ffa"/><stop offset="0.312" stop-color="#0268fc"/><stop offset="0.375" stop-color="#0080ff"/><stop offset="0.438" stop-color="#00ebe5"/><stop offset="0.500" stop-color="#00f2ca"/><stop offset="0.562" stop-color="#00f2ca"/><stop offset="0.625" stop-color="#00f2ca"/><stop offset="0.688" stop-color="#00ebe5"/><stop offset="0.750" stop-color="#00e4ff"/><stop offset="0.812" stop-color="#00e4ff"/><stop offset="0.875" stop-color="#00e4ff"/><stop offset="0.938" stop-color="#00e4ff"/><stop offset="1.000" stop-color="#00e4ff"/></linearGradient>
<linearGradient id="g0_35" gradientUnits="userSpaceOnUse" x1="42.2" x2="143.1" y1="0" y2="0"><stop offset="0.000" stop-color="#081ef4"/><stop offset="0.062" stop-color="#081ef4"/><stop offset="0.125" stop-color="#081ef4"/><stop offset="0.188" stop-color="#0727f5"/><stop offset="0.250" stop-color="#044ffa"/><stop offset="0.312" stop-color="#0358fa"/><stop offset="0.375" stop-color="#0080ff"/><stop offset="0.438" stop-color="#00ccff"/><stop offset="0.500" stop-color="#00e9ed"/><stop offset="0.562" stop-color="#00e9ed"/><stop offset="0.625" stop-color="#00e9ed"/><stop offset="0.688" stop-color="#00e6f6"/><stop offset="0.750" stop-color="#00e4ff"/><stop offset="0.812" stop-color="#00e4ff"/><stop offset="0.875" stop-color="#00e4ff"/><stop offset="0.938" stop-color="#00e4ff"/><stop offset="1.000" stop-color="#00e4ff"/></linearGradient>
<linearGradient id="g0_36" gradientUnits="userSpaceOnUse" x1="42.2" x2="143.1" y1="0" y2="0"><stop offset="0.000" stop-color="#081ef4"/><stop offset="0.062" stop-color="#081ef4"/><stop offset="0.125" stop-color="#081ef4"/><stop offset="0.188" stop-color="#081ef4"/><stop offset="0.250" stop-color="#0548f9"/><stop offset="0.312" stop-color="#044ffa"/><stop offset="0.375" stop-color="#0080ff"/><stop offset="0.438" stop-color="#00abff"/><stop offset="0.500" stop-color="#00ddff"/><stop offset="0.562" stop-color="#00ddff"/><stop offset="0.625" stop-color="#00ddff"/><stop offset="0.688" stop-color="#00ddff"/><stop offset="0.750" stop-color="#00ddff"/><stop offset="0.812" stop-color="#00ddff"/><stop offset="0.875" stop-color="#00ddff"/><stop offset="0.938" stop-color="#00ddff"/><stop offset="1.000" stop-color="#00ddff"/></linearGradient>
<linearGradient id="g0_37" gradientUnits="userSpaceOnUse" x1="42.2" x2="143.1" y1="0" y2="0"><stop offset="0.000" stop-color="#081ef4"/><stop offset="0.062" stop-color="#081ef4"/><stop offset="0.125" stop-color="#081ef4"/><stop offset="0.188" stop-color="#081ef4"/><stop offset="0.250" stop-color="#0638f7"/><stop offset="0.312" stop-color="#044ffa"/><stop offset="0.375" stop-color="#0080ff"/><stop offset="0.438" stop-color="#009aff"/><stop offset="0.500" stop-color="#00ccff"/><stop offset="0.562" stop-color="#00ccff"/><stop offset="0.625" stop-color="#00ccff"/><stop offset="0.688" stop-color="#00ccff"/><stop offset="0.750" stop-color="#00ccff"/><stop offset="0.812" stop-color="#00ccff"/><stop offset="0.875" stop-color="#00ccff"/><stop offset="0.938" stop-color="#00ccff"/><stop offset="1.000" stop-color="#00ccff"/></linearGradient>
<linearGradient id="g0_38" gradientUnits="userSpaceOnUse" x1="42.2" x2="143.1" y1="0" y2="0"><stop offset="0.000" stop-color="#081ef4"/><stop offset="0.062" stop-color="#081ef4"/><stop offset="0.125" stop-color="#081ef4"/><stop offset="0.188" stop-color="#081ef4"/><stop offset="0.250" stop-color="#0728f5"/><stop offset="0.312" stop-color="#044ffa"/><stop offset="0.375" stop-color="#0080ff"/><stop offset="0.438" stop-color="#008aff"/><stop offset="0.500" stop-color="#00bcff"/><stop offset="0.562" stop-color="#00bcff"/><stop offset="0.625" stop-color="#00bcff"/><stop offset="0.688" stop-color="#00bcff"/><stop offset="0.750" stop-color="#00bcff"/><stop offset="0.812" stop-color="#00bcff"/><stop offset="0.875" stop-color="#00bcff"/><stop offset="0.938" stop-color="#00bcff"/><stop offset="1.000" stop-color="#00bcff"/></linearGradient>
<linearGradient id="g0_39" gradientUnits="userSpaceOnUse" x1="42.2" x2="143.1" y1="0" y2="0"><stop offset="0.000" stop-color="#081ef4"/><stop offset="0.062" stop-color="#081ef4"/><stop offset="0.125" stop-color="#081ef4"/><stop offset="0.188" stop-color="#081ef4"/><stop offset="0.250" stop-color="#081ef4"/><stop offset="0.312" stop-color="#044ffa"/><stop offset="0.375" stop-color="#007afe"/><stop offset="0.438" stop-color="#0080ff"/><stop offset="0.500" stop-color="#00acff"/><stop offset="0.562" stop-color="#00acff"/><stop offset="0.625" stop-color="#00acff"/><stop offset="0.688" stop-color="#00acff"/><stop offset="0.750" stop-color="#00acff"/><stop offset="0.812" stop-color="#00b2ff"/><stop offset="0.875" stop-color="#00b2ff"/><stop offset="0.938" stop-color="#00b2ff"/><stop offset="1.000" stop-color="#00b2ff"/></linearGradient>
<linearGradient id="g0_40" gradientUnits="userSpaceOnUse" x1="42.2" x2="143.1" y1="0" y2="0"><stop offset="0.000" stop-color="#081ef4"/><stop offset="0.062" stop-color="#081ef4"/><stop offset="0.125" stop-color="#081ef4"/><stop offset="0.188" stop-color="#081ef4"/><stop offset="0.250" stop-color="#081ef4"/><stop offset="0.312" stop-color="#044ffa"/><stop offset="0.375" stop-color="#026afd"/><stop offset="0.438" stop-color="#0080ff"/><stop offset="0.500" stop-color="#009cff"/><stop offset="0.562" stop-color="#009cff"/><stop offset="0.625" stop-color="#009cff"/><stop offset="0.688" stop-color="#009cff"/><stop offset="0.750" stop-color="#009cff"/><stop offset="0.812" stop-color="#00b2ff"/><stop offset="0.875" stop-color="#00b2ff"/><stop offset="0.938" stop-color="#00b2ff"/><stop offset="1.000" stop-color="#00b2ff"/></linearGradient>
<linearGradient id="g0_41" gradientUnits="userSpaceOnUse" x1="42.2" x2="143.1" y1="0" y2="0"><stop offset="0.000" stop-color="#081ef4"/><stop offset="0.062" stop-color="#081ef4"/><stop offset="0.125" stop-color="#081ef4"/><stop offset="0.188" stop-color="#081ef4"/><stop offset="0.250" stop-color="#081ef4"/><stop offset="0.312" stop-color="#044ffa"/><stop offset="0.375" stop-color="#035afb"/><stop offset="0.438" stop-color="#0080ff"/><stop offset="0.500" stop-color="#008bff"/><stop offset="0.562" stop-color="#008bff"/><stop offset="0.625" stop-color="#008bff"/><stop offset="0.688" stop-color="#008bff"/><stop offset="0.750" stop-color="#008bff"/><stop offset="0.812" stop-color="#00b2ff"/><stop offset="0.875" stop-color="#00b2ff"/><stop offset="0.938" stop-color="#00b2ff"/><stop offset="1.000" stop-color="#00b2ff"/></linearGradient>
<linearGradient id="g0_42" gradientUnits="userSpaceOnUse" x1="42.2" x2="143.1" y1="0" y2="0"><stop offset="0.000" stop-color="#081ef4"/><stop offset="0.062" stop-color="#081ef4"/><stop offset="0.125" stop-color="#081ef4"/><stop offset="0.188" stop-color="#081ef4"/><stop offset="0.250" stop-color="#081ef4"/><stop offset="0.312" stop-color="#044af9"/><stop offset="0.375" stop-color="#044ffa"/><stop offset="0.438" stop-color="#007bfe"/><stop offset="0.500" stop-color="#0080ff"/><stop offset="0.562" stop-color="#0080ff"/><stop offset="0.625" stop-color="#0080ff"/><stop offset="0.688" stop-color="#0080ff"/><stop offset="0.750" stop-color="#0080ff"/><stop offset="0.812" stop-color="#00adff"/><stop offset="0.875" stop-color="#00adff"/><stop offset="0.938" stop-color="#00adff"/><stop offset="1.000" stop-color="#00adff"/></linearGradient>
<linearGradient id="g0_43" gradientUnits="userSpaceOnUse" x1="42.2" x2="143.1" y1="0" y2="0"><stop offset="0.000" stop-color="#081ef4"/><stop offset="0.062" stop-color="#081ef4"/><stop offset="0.125" stop-color="#081ef4"/><stop offset="0.188" stop-color="#081ef4"/><stop offset="0.250" stop-color="#081ef4"/><stop offset="0.312" stop-color="#063af7"/><stop offset="0.375" stop-color="#044ffa"/><stop offset="0.438" stop-color="#026bfd"/><stop offset="0.500" stop-color="#0080ff"/><stop offset="0.562" stop-color="#0080ff"/><stop offset="0.625" stop-color="#0080ff"/><stop offset="0.688" stop-color="#0080ff"/><stop offset="0.750" stop-color="#0080ff"/><stop offset="0.812" stop-color="#009dff"/><stop offset="0.875" stop-color="#009dff"/><stop offset="0.938" stop-color="#009dff"/><stop offset="1.000" stop-color="#009dff"/></linearGradient>
<linearGradient id="g0_44" gradientUnits="userSpaceOnUse" x1="42.2" x2="143.1" y1="0" y2="0"><stop offset="0.000" stop-color="#081ef4"/><stop offset="0.062" stop-color="#081ef4"/><stop offset="0.125" stop-color="#081ef4"/><stop offset="0.188" stop-color="#081ef4"/><stop offset="0.250" stop-color="#081ef4"/><stop offset="0.312" stop-color="#072af5"/><stop offset="0.375" stop-color="#044ffa"/><stop offset="0.438" stop-color="#035bfb"/><stop offset="0.500" stop-color="#0080ff"/><stop offset="0.562" stop-color="#0080ff"/><stop offset="0.625" stop-color="#0080ff"/><stop offset="0.688" stop-color="#0080ff"/><stop offset="0.750" stop-color="#0080ff"/><stop offset="0.812" stop-color="#008dff"/><stop offset="0.875" stop-color="#008dff"/><stop offset="0.938" stop-color="#008dff"/><stop offset="1.000" stop-color="#008dff"/></linearGradient>
<linearGradient id="g0_45" gradientUnits="userSpaceOnUse" x1="42.2" x2="143.1" y1="0" y2="0"><stop offset="0.000" stop-color="#081df2"/><stop offset="0.062" stop-color="#081df2"/><stop offset="0.125" stop-color="#081df2"/><stop offset="0.188" stop-color="#081ef4"/><stop offset="0.250" stop-color="#081ef4"/><stop offset="0.312" stop-color="#081ef4"/><stop offset="0.375" stop-color="#044cf9"/><stop offset="0.438" stop-color="#044ffa"/><stop offset="0.500" stop-color="#007dff"/><stop offset="0.562" stop-color="#007dff"/><stop offset="0.625" stop-color="#007dff"/><stop offset="0.688" stop-color="#007dff"/><stop offset="0.750" stop-color="#007dff"/><stop offset="0.812" stop-color="#007dff"/><stop offset="0.875" stop-color="#007dff"/><stop offset="0.938" stop-color="#007dff"/><stop offset="1.000" stop-color="#007dff"/></linearGradient>
<linearGradient id="g0_46" gradientUnits="userSpaceOnUse" x1="42.2" x2="143.1" y1="0" y2="0"><stop offset="0.000" stop-color="#0618e9"/><stop offset="0.062" stop-color="#0618e9"/><stop offset="0.125" stop-color="#0618e9"/><stop offset="0.188" stop-color="#081ef4"/><stop offset="0.250" stop-color="#081ef4"/><stop offset="0.312" stop-color="#081ef4"/><stop offset="0.375" stop-color="#063cf7"/><stop offset="0.438" stop-color="#044ffa"/><stop offset="0.500" stop-color="#026dfd"/><stop offset="0.562" stop-color="#026dfd"/><stop offset="0.625" stop-color="#026dfd"/><stop offset="0.688" stop-color="#026dfd"/><stop offset="0.750" stop-color="#026dfd"/><stop offset="0.812" stop-color="#026dfd"/><stop offset="0.875" stop-color="#026dfd"/><stop offset="0.938" stop-color="#026dfd"/><stop offset="1.000" stop-color="#026dfd"/></linearGradient>
<linearGradient id="g0_47" gradientUnits="userSpaceOnUse" x1="42.2" x2="143.1" y1="0" y2="0"><stop offset="0.000" stop-color="#0513e1"/><stop offset="0.062" stop-color="#0513e1"/><stop offset="0.125" stop-color="#0513e1"/><stop offset="0.188" stop-color="#081ef4"/><stop offset="0.250" stop-color="#081ef4"/><stop offset="0.312" stop-color="#081ef4"/><stop offset="0.375" stop-color="#072cf6"/><stop offset="0.438" stop-color="#044ffa"/><stop offset="0.500" stop-color="#035dfb"/><stop offset="0.562" stop-color="#035dfb"/><stop offset="0.625" stop-color="#035dfb"/><stop offset="0.688" stop-color="#035dfb"/><stop offset="0.750" stop-color="#035dfb"/><stop offset="0.812" stop-color="#035dfb"/><stop offset="0.875" stop-color="#035dfb"/><stop offset="0.938" stop-color="#035dfb"/><stop offset="1.000" stop-color="#035dfb"/></linearGradient>
<linearGradient id="g0_48" gradientUnits="userSpaceOnUse" x1="42.2" x2="143.1" y1="0" y2="0"><stop offset="0.000" stop-color="#040fd9"/><stop offset="0.062" stop-color="#040fd9"/><stop offset="0.125" stop-color="#040fd9"/><stop offset="0.188" stop-color="#081ef4"/><stop offset="0.250" stop-color="#081ef4"/><stop offset="0.312" stop-color="#081ef4"/><stop offset="0.375" stop-color="#081ef4"/><stop offset="0.438" stop-color="#044ffa"/><stop offset="0.500" stop-color="#044ffa"/><stop offset="0.562" stop-color="#044ffa"/><stop offset="0.625" stop-color="#044ffa"/><stop offset="0.688" stop-color="#044ffa"/><stop offset="0.750" stop-color="#044ffa"/><stop offset="0.812" stop-color="#044ffa"/><stop offset="0.875" stop-color="#044ffa"/><stop offset="0.938" stop-color="#044ffa"/><stop offset="1.000" stop-color="#044ffa"/></linearGradient>
<linearGradient id="g1_0" gradientUnits="userSpaceOnUse" x1="205.8" x2="313.1" y1="0" y2="0"><stop offset="0.000" stop-color="#0080ff"/><stop offset="0.059" stop-color="#0080ff"/><stop offset="0.118" stop-color="#0080ff"/><stop offset="0.176" stop-color="#0080ff"/><stop offset="0.235" stop-color="#0080ff"/><stop offset="0.294" stop-color="#0080ff"/><stop offset="0.353" stop-color="#00b2ff"/><stop offset="0.412" stop-color="#00e4ff"/><stop offset="0.471" stop-color="#00ff96"/><stop offset="0.529" stop-color="#00ff14"/><stop offset="0.588" stop-color="#ff5300"/><stop offset="0.647" stop-color="#ff1400"/><stop offset="0.706" stop-color="#ff1400"/><stop offset="0.765" stop-color="#ff5300"/><stop offset="0.824" stop-color="#ff5300"/><stop offset="0.882" stop-color="#ff5300"/><stop offset="0.941" stop-color="#ff5300"/><stop offset="1.000" stop-color="#ff5300"/></linearGradient>
<linearGradient id="g1_1" gradientUnits="userSpaceOnUse" x1="205.8" x2="313.1" y1="0" y2="0"><stop offset="0.000" stop-color="#0080ff"/><stop offset="0.059" stop-color="#0080ff"/><stop offset="0.118" stop-color="#0080ff"/><stop offset="0.176" stop-color="#0080ff"/><stop offset="0.235" stop-color="#0080ff"/><stop offset="0.294" stop-color="#0080ff"/><stop offset="0.353" stop-color="#00b2ff"/><stop offset="0.412" stop-color="#00e4ff"/><stop offset="0.471" stop-color="#00ff96"/><stop offset="0.529" stop-color="#00ff14"/><stop offset="0.588" stop-color="#ff7700"/><stop offset="0.647" stop-color="#ff1400"/><stop offset="0.706" stop-color="#ff1400"/><stop offset="0.765" stop-color="#ff7700"/><stop offset="0.824" stop-color="#ff7700"/><stop offset="0.882" stop-color="#ff7700"/><stop offset="0.941" stop-color="#ff7700"/><stop offset="1.000" stop-color="#ff7700"/></linearGradient>
<linearGradient id="g1_2" gradientUnits="userSpaceOnUse" x1="205.8" x2="313.1" y1="0" y2="0"><stop offset="0.000" stop-color="#0080ff"/><stop offset="0.059" stop-color="#0080ff"/><stop offset="0.118" stop-color="#0080ff"/><stop offset="0.176" stop-color="#0080ff"/><stop offset="0.235" stop-color="#0080ff"/><stop offset="0.294" stop-color="#0080ff"/><stop offset="0.353" stop-color="#00b2ff"/><stop offset="0.412" stop-color="#00e4ff"/><stop offset="0.471" stop-color="#00fca2"/><stop offset="0.529" stop-color="#00ff31"/><stop offset="0.588" stop-color="#ffc800"/><stop offset="0.647" stop-color="#ff4500"/><stop offset="0.706" stop-color="#ff7600"/><stop offset="0.765" stop-color="#ffc800"/><stop offset="0.824" stop-color="#ffc800"/><stop offset="0.882" stop-color="#ffc800"/><stop offset="0.941" stop-color="#ffc800"/><stop offset="1.000" stop-color="#ffc800"/></linearGradient>
<linearGradient id="g1_3" gradientUnits="userSpaceOnUse" x1="205.8" x2="313.1" y1="0" y2="0"><stop offset="0.000" stop-color="#0080ff"/><stop offset="0.059" stop-color="#0080ff"/><stop offset="0.118" stop-color="#0080ff"/><stop offset="0.176" stop-color="#0080ff"/><stop offset="0.235" stop-color="#0080ff"/><stop offset="0.294" stop-color="#0080ff"/><stop offset="0.353" stop-color="#00b2ff"/><stop offset="0.412" stop-color="#00e4ff"/><stop offset="0.471" stop-color="#00f8b3"/><stop offset="0.529" stop-color="#00ff5b"/><stop offset="0.588" stop-color="#c2f800"/><stop offset="0.647" stop-color="#ff8c00"/><stop offset="0.706" stop-color="#edef00"/><stop offset="0.765" stop-color="#c2f800"/><stop offset="0.824" stop-color="#c2f800"/><stop offset="0.882" stop-color="#c2f800"/><stop offset="0.941" stop-color="#c2f800"/><stop offset="1.000" stop-color="#c2f800"/></linearGradient>
<linearGradient id="g1_4" gradientUnits="userSpaceOnUse" x1="205.8" x2="313.1" y1="0" y2="0"><stop offset="0.000" stop-color="#0080ff"/><stop offset="0.059" stop-color="#0080ff"/><stop offset="0.118" stop-color="#0080ff"/><stop offset="0.176" stop-color="#0080ff"/><stop offset="0.235" stop-color="#0080ff"/><stop offset="0.294" stop-color="#0080ff"/><stop offset="0.353" stop-color="#00b2ff"/><stop offset="0.412" stop-color="#00e4ff"/><stop offset="0.471" stop-color="#00f3c4"/><stop offset="0.529" stop-color="#00ff85"/><stop offset="0.588" stop-color="#3eff0c"/><stop offset="0.647" stop-color="#ffd000"/><stop offset="0.706" stop-color="#52ff0a"/><stop offset="0.765" stop-color="#3eff0c"/><stop offset="0.824" stop-color="#3eff0c"/><stop offset="0.882" stop-color="#3eff0c"/><stop offset="0.941" stop-color="#3eff0c"/><stop offset="1.000" stop-color="#3eff0c"/></linearGradient>
<linearGradient id="g1_5" gradientUnits="userSpaceOnUse" x1="205.8" x2="313.1" y1="0" y2="0"><stop offset="0.000" stop-color="#0080ff"/><stop offset="0.059" stop-color="#0080ff"/><stop offset="0.118" stop-color="#0080ff"/><stop offset="0.176" stop-color="#0080ff"/><stop offset="0.235" stop-color="#0080ff"/><stop offset="0.294" stop-color="#0080ff"/><stop offset="0.353" stop-color="#00b2ff"/><stop offset="0.412" stop-color="#00e4ff"/><stop offset="0.471" stop-color="#00f2ca"/><stop offset="0.529" stop-color="#00ff96"/><stop offset="0.588" stop-color="#00ff14"/><stop offset="0.647" stop-color="#ffeb00"/><stop offset="0.706" stop-color="#1fff10"/><stop offset="0.765" stop-color="#00ff14"/><stop offset="0.824" stop-color="#00ff14"/><stop offset="0.882" stop-color="#00ff14"/><stop offset="0.941" stop-color="#00ff14"/><stop offset="1.000" stop-color="#00ff14"/></linearGradient>
<linearGradient id="g1_6" gradientUnits="userSpaceOnUse" x1="205.8" x2="313.1" y1="0" y2="0"><stop offset="0.000" stop-color="#0080ff"/><stop offset="0.059" stop-color="#0080ff"/><stop offset="0.118" stop-color="#0080ff"/><stop offset="0.176" stop-color="#0080ff"/><stop offset="0.235" stop-color="#0080ff"/><stop offset="0.294" stop-color="#0080ff"/><stop offset="0.353" stop-color="#00b2ff"/><stop offset="0.412" stop-color="#00e4ff"/><stop offset="0.471" stop-color="#00f2ca"/><stop offset="0.529" stop-color="#00ff96"/><stop offset="0.588" stop-color="#00ff14"/><stop offset="0.647" stop-color="#ffeb00"/><stop offset="0.706" stop-color="#53ff0a"/><stop offset="0.765" stop-color="#00ff14"/><stop offset="0.824" stop-color="#00ff14"/><stop offset="0.882" stop-color="#00ff14"/><stop offset="0.941" stop-color="#00ff14"/><stop offset="1.000" stop-color="#00ff14"/></linearGradient>
<linearGradient id="g1_7" gradientUnits="userSpaceOnUse" x1="205.8" x2="313.1" y1="0" y2="0"><stop offset="0.000" stop-color="#0080ff"/><stop offset="0.059" stop-color="#0080ff"/><stop offset="0.118" stop-color="#0080ff"/><stop offset="0.176" stop-color="#0080ff"/><stop offset="0.235" stop-color="#0080ff"/><stop offset="0.294" stop-color="#0080ff"/><stop offset="0.353" stop-color="#00b2ff"/><stop offset="0.412" stop-color="#00e4ff"/><stop offset="0.471" stop-color="#00f2ca"/><stop offset="0.529" stop-color="#00ff96"/><stop offset="0.588" stop-color="#00ff14"/><stop offset="0.647" stop-color="#ffeb00"/><stop offset="0.706" stop-color="#87ff03"/><stop offset="0.765" stop-color="#00ff14"/><stop offset="0.824" stop-color="#00ff14"/><stop offset="0.882" stop-color="#00ff14"/><stop offset="0.941" stop-color="#00ff14"/><stop offset="1.000" stop-color="#00ff14"/></linearGradient>
<linearGradient id="g1_8" gradientUnits="userSpaceOnUse" x1="205.8" x2="313.1" y1="0" y2="0"><stop offset="0.000" stop-color="#0080ff"/><stop offset="0.059" stop-color="#0080ff"/><stop offset="0.118" stop-color="#0080ff"/><stop offset="0.176" stop-color="#0080ff"/><stop offset="0.235" stop-color="#0080ff"/><stop offset="0.294" stop-color="#0088ff"/><stop offset="0.353" stop-color="#00aaff"/><stop offset="0.412" stop-color="#00e4ff"/><stop offset="0.471" stop-color="#00efd3"/><stop offset="0.529" stop-color="#00ff96"/><stop offset="0.588" stop-color="#36ff0d"/><stop offset="0.647" stop-color="#efee00"/><stop offset="0.706" stop-color="#85ff03"/><stop offset="0.765" stop-color="#00ff14"/><stop offset="0.824" stop-color="#00ff14"/><stop offset="0.882" stop-color="#00ff14"/><stop offset="0.941" stop-color="#00ff14"/><stop offset="1.000" stop-color="#00ff14"/></linearGradient>
<linearGradient id="g1_9" gradientUnits="userSpaceOnUse" x1="205.8" x2="313.1" y1="0" y2="0"><stop offset="0.000" stop-color="#0080ff"/><stop offset="0.059" stop-color="#0080ff"/><stop offset="0.118" stop-color="#0080ff"/><stop offset="0.176" stop-color="#0080ff"/><stop offset="0.235" stop-color="#0080ff"/><stop offset="0.294" stop-color="#0099ff"/><stop offset="0.353" stop-color="#0099ff"/><stop offset="0.412" stop-color="#00e4ff"/><stop offset="0.471" stop-color="#00ebe4"/><stop offset="0.529" stop-color="#00ff96"/><stop offset="0.588" stop-color="#9eff00"/><stop offset="0.647" stop-color="#d0f500"/><stop offset="0.706" stop-color="#51ff0a"/><stop offset="0.765" stop-color="#00ff14"/><stop offset="0.824" stop-color="#00ff14"/><stop offset="0.882" stop-color="#00ff14"/><stop offset="0.941" stop-color="#00ff14"/><stop offset="1.000" stop-color="#00ff14"/></linearGradient>
<linearGradient id="g1_10" gradientUnits="userSpaceOnUse" x1="205.8" x2="313.1" y1="0" y2="0"><stop offset="0.000" stop-color="#0080ff"/><stop offset="0.059" stop-color="#0080ff"/><stop offset="0.118" stop-color="#0080ff"/><stop offset="0.176" stop-color="#0080ff"/><stop offset="0.235" stop-color="#0080ff"/><stop offset="0.294" stop-color="#00a9ff"/><stop offset="0.353" stop-color="#0089ff"/><stop offset="0.412" stop-color="#00e4ff"/><stop offset="0.471" stop-color="#00e6f5"/><stop offset="0.529" stop-color="#00ff96"/><stop offset="0.588" stop-color="#ddf200"/><stop offset="0.647" stop-color="#b1fb00"/><stop offset="0.706" stop-color="#1dff10"/><stop offset="0.765" stop-color="#00ff14"/><stop offset="0.824" stop-color="#00ff14"/><stop offset="0.882" stop-color="#00ff14"/><stop offset="0.941" stop-color="#00ff14"/><stop offset="1.000" stop-color="#00ff14"/></linearGradient>
<linearGradient id="g1_11" gradientUnits="userSpaceOnUse" x1="205.8" x2="313.1" y1="0" y2="0"><stop offset="0.000" stop-color="#0179fe"/><stop offset="0.059" stop-color="#0179fe"/><stop offset="0.118" stop-color="#0179fe"/><stop offset="0.176" stop-color="#0179fe"/><stop offset="0.235" stop-color="#0080ff"/><stop offset="0.294" stop-color="#00b2ff"/><stop offset="0.353" stop-color="#0080ff"/><stop offset="0.412" stop-color="#00e4ff"/><stop offset="0.471" stop-color="#00e4ff"/><stop offset="0.529" stop-color="#00ff96"/><stop offset="0.588" stop-color="#ffeb00"/><stop offset="0.647" stop-color="#89ff03"/><stop offset="0.706" stop-color="#00ff14"/><stop offset="0.765" stop-color="#00ff14"/><stop offset="0.824" stop-color="#00ff14"/><stop offset="0.882" stop-color="#00ff14"/><stop offset="0.941" stop-color="#00ff14"/><stop offset="1.000" stop-color="#00ff14"/></linearGradient>
<linearGradient id="g1_12" gradientUnits="userSpaceOnUse" x1="205.8" x2="313.1" y1="0" y2="0"><stop offset="0.000" stop-color="#0269fc"/><stop offset="0.059" stop-color="#0269fc"/><stop offset="0.118" stop-color="#0269fc"/><stop offset="0.176" stop-color="#0269fc"/><stop offset="0.235" stop-color="#0080ff"/><stop offset="0.294" stop-color="#00b2ff"/><stop offset="0.353" stop-color="#0080ff"/><stop offset="0.412" stop-color="#00e4ff"/><stop offset="0.471" stop-color="#00e4ff"/><stop offset="0.529" stop-color="#00ff96"/><stop offset="0.588" stop-color="#ffeb00"/><stop offset="0.647" stop-color="#55ff09"/><stop offset="0.706" stop-color="#00ff14"/><stop offset="0.765" stop-color="#00ff14"/><stop offset="0.824" stop-color="#00ff14"/><stop offset="0.882" stop-color="#00ff14"/><stop offset="0.941" stop-color="#00ff14"/><stop offset="1.000" stop-color="#00ff14"/></linearGradient>
<linearGradient id="g1_13" gradientUnits="userSpaceOnUse" x1="205.8" x2="313.1" y1="0" y2="0"><stop offset="0.000" stop-color="#0359fb"/><stop offset="0.059" stop-color="#0359fb"/><stop offset="0.118" stop-color="#0359fb"/><stop offset="0.176" stop-color="#0359fb"/><stop offset="0.235" stop-color="#0080ff"/><stop offset="0.294" stop-color="#00b2ff"/><stop offset="0.353" stop-color="#0080ff"/><stop offset="0.412" stop-color="#00e4ff"/><stop offset="0.471" stop-color="#00e4ff"/><stop offset="0.529" stop-color="#00ff96"/><stop offset="0.588" stop-color="#ffeb00"/><stop offset="0.647" stop-color="#21ff10"/><stop offset="0.706" stop-color="#00ff14"/><stop offset="0.765" stop-color="#00ff14"/><stop offset="0.824" stop-color="#00ff14"/><stop offset="0.882" stop-color="#00ff14"/><stop offset="0.941" stop-color="#00ff14"/><stop offset="1.000" stop-color="#00ff14"/></linearGradient>
<linearGradient id="g1_14" gradientUnits="userSpaceOnUse" x1="205.8" x2="313.1" y1="0" y2="0"><stop offset="0.000" stop-color="#044ffa"/><stop offset="0.059" stop-color="#044ffa"/><stop offset="0.118" stop-color="#044ffa"/><stop offset="0.176" stop-color="#044ffa"/><stop offset="0.235" stop-color="#0080ff"/><stop offset="0.294" stop-color="#00b2ff"/><stop offset="0.353" stop-color="#0175fe"/><stop offset="0.412" stop-color="#00e4ff"/><stop offset="0.471" stop-color="#00e4ff"/><stop offset="0.529" stop-color="#00ff87"/><stop offset="0.588" stop-color="#f4ed00"/><stop offset="0.647" stop-color="#00ff14"/><stop offset="0.706" stop-color="#00ff14"/><stop offset="0.765" stop-color="#00ff14"/><stop offset="0.824" stop-color="#00ff14"/><stop offset="0.882" stop-color="#00ff14"/><stop offset="0.941" stop-color="#00ff14"/><stop offset="1.000" stop-color="#00ff14"/></linearGradient>
<linearGradient id="g1_15" gradientUnits="userSpaceOnUse" x1="205.8" x2="313.1" y1="0" y2="0"><stop offset="0.000" stop-color="#044ffa"/><stop offset="0.059" stop-color="#044ffa"/><stop offset="0.118" stop-color="#044ffa"/><stop offset="0.176" stop-color="#044ffa"/><stop offset="0.235" stop-color="#0080ff"/><stop offset="0.294" stop-color="#00b2ff"/><stop offset="0.353" stop-color="#0455fa"/><stop offset="0.412" stop-color="#00e4ff"/><stop offset="0.471" stop-color="#00e4ff"/><stop offset="0.529" stop-color="#00ff5d"/><stop offset="0.588" stop-color="#d5f400"/><stop offset="0.647" stop-color="#00ff14"/><stop offset="0.706" stop-color="#00ff14"/><stop offset="0.765" stop-color="#00ff14"/><stop offset="0.824" stop-color="#00ff14"/><stop offset="0.882" stop-color="#00ff14"/><stop offset="0.941" stop-color="#00ff14"/><stop offset="1.000" stop-color="#00ff14"/></linearGradient>
<linearGradient id="g1_16" gradientUnits="userSpaceOnUse" x1="205.8" x2="313.1" y1="0" y2="0"><stop offset="0.000" stop-color="#044ffa"/><stop offset="0.059" stop-color="#044ffa"/><stop offset="0.118" stop-color="#044ffa"/><stop offset="0.176" stop-color="#044ffa"/><stop offset="0.235" stop-color="#0080ff"/><stop offset="0.294" stop-color="#00b2ff"/><stop offset="0.353" stop-color="#0635f7"/><stop offset="0.412" stop-color="#00e4ff"/><stop offset="0.471" stop-color="#00e4ff"/><stop offset="0.529" stop-color="#00ff32"/><stop offset="0.588" stop-color="#b6fa00"/><stop offset="0.647" stop-color="#00ff14"/><stop offset="0.706" stop-color="#00ff14"/><stop offset="0.765" stop-color="#00ff14"/><stop offset="0.824" stop-color="#00ff14"/><stop offset="0.882" stop-color="#00ff14"/><stop offset="0.941" stop-color="#00ff14"/><stop offset="1.000" stop-color="#00ff14"/></linearGradient>
<linearGradient id="g1_17" gradientUnits="userSpaceOnUse" x1="205.8" x2="313.1" y1="0" y2="0"><stop offset="0.000" stop-color="#044ffa"/><stop offset="0.059" stop-color="#044ffa"/><stop offset="0.118" stop-color="#044ffa"/><stop offset="0.176" stop-color="#044ffa"/><stop offset="0.235" stop-color="#0080ff"/><stop offset="0.294" stop-color="#00b2ff"/><stop offset="0.353" stop-color="#0727f5"/><stop offset="0.412" stop-color="#00e4ff"/><stop offset="0.471" stop-color="#00e4ff"/><stop offset="0.529" stop-color="#00ff20"/><stop offset="0.588" stop-color="#92ff02"/><stop offset="0.647" stop-color="#00ff20"/><stop offset="0.706" stop-color="#00ff1a"/><stop offset="0.765" stop-color="#00ff14"/><stop offset="0.824" stop-color="#00ff1a"/><stop offset="0.882" stop-color="#00ff14"/><stop offset="0.941" stop-color="#00ff14"/><stop offset="1.000" stop-color="#00ff14"/></linearGradient>
<linearGradient id="g1_18" gradientUnits="userSpaceOnUse" x1="205.8" x2="313.1" y1="0" y2="0"><stop offset="0.000" stop-color="#044ffa"/><stop offset="0.059" stop-color="#044ffa"/><stop offset="0.118" stop-color="#044ffa"/><stop offset="0.176" stop-color="#044ffa"/><stop offset="0.235" stop-color="#0080ff"/><stop offset="0.294" stop-color="#00b2ff"/><stop offset="0.353" stop-color="#0547f9"/><stop offset="0.412" stop-color="#00e4ff"/><stop offset="0.471" stop-color="#00e4ff"/><stop offset="0.529" stop-color="#00ff4a"/><stop offset="0.588" stop-color="#5eff08"/><stop offset="0.647" stop-color="#00ff4a"/><stop offset="0.706" stop-color="#00ff2f"/><stop offset="0.765" stop-color="#00ff14"/><stop offset="0.824" stop-color="#00ff2f"/><stop offset="0.882" stop-color="#00ff14"/><stop offset="0.941" stop-color="#00ff14"/><stop offset="1.000" stop-color="#00ff14"/></linearGradient>
<linearGradient id="g1_19" gradientUnits="userSpaceOnUse" x1="205.8" x2="313.1" y1="0" y2="0"><stop offset="0.000" stop-color="#044ffa"/><stop offset="0.059" stop-color="#044ffa"/><stop offset="0.118" stop-color="#044ffa"/><stop offset="0.176" stop-color="#044ffa"/><stop offset="0.235" stop-color="#0080ff"/><stop offset="0.294" stop-color="#00b2ff"/><stop offset="0.353" stop-color="#0266fc"/><stop offset="0.412" stop-color="#00e4ff"/><stop offset="0.471" stop-color="#00e4ff"/><stop offset="0.529" stop-color="#00ff74"/><stop offset="0.588" stop-color="#2aff0f"/><stop offset="0.647" stop-color="#00ff74"/><stop offset="0.706" stop-color="#00ff44"/><stop offset="0.765" stop-color="#00ff14"/><stop offset="0.824" stop-color="#00ff44"/><stop offset="0.882" stop-color="#00ff14"/><stop offset="0.941" stop-color="#00ff14"/><stop offset="1.000" stop-color="#00ff14"/></linearGradient>
<linearGradient id="g1_20" gradientUnits="userSpaceOnUse" x1="205.8" x2="313.1" y1="0" y2="0"><stop offset="0.000" stop-color="#044cf9"/><stop offset="0.059" stop-color="#044cf9"/><stop offset="0.118" stop-color="#044cf9"/><stop offset="0.176" stop-color="#044ffa"/><stop offset="0.235" stop-color="#0080ff"/><stop offset="0.294" stop-color="#00b5ff"/><stop offset="0.353" stop-color="#0086ff"/><stop offset="0.412" stop-color="#00e1ff"/><stop offset="0.471" stop-color="#00e4ff"/><stop offset="0.529" stop-color="#00fe99"/><stop offset="0.588" stop-color="#00ff14"/><stop offset="0.647" stop-color="#00fd9d"/><stop offset="0.706" stop-color="#00ff62"/><stop offset="0.765" stop-color="#00ff25"/><stop offset="0.824" stop-color="#00ff62"/><stop offset="0.882" stop-color="#00ff1c"/><stop offset="0.941" stop-color="#00ff1c"/><stop offset="1.000" stop-color="#00ff1c"/></linearGradient>
<linearGradient id="g1_21" gradientUnits="userSpaceOnUse" x1="205.8" x2="313.1" y1="0" y2="0"><stop offset="0.000" stop-color="#063cf7"/><stop offset="0.059" stop-color="#063cf7"/><stop offset="0.118" stop-color="#063cf7"/><stop offset="0.176" stop-color="#044ffa"/><stop offset="0.235" stop-color="#0080ff"/><stop offset="0.294" stop-color="#00c5ff"/><stop offset="0.353" stop-color="#00a7ff"/><stop offset="0.412" stop-color="#00d1ff"/><stop offset="0.471" stop-color="#00e4ff"/><stop offset="0.529" stop-color="#00faaa"/><stop offset="0.588" stop-color="#00ff14"/><stop offset="0.647" stop-color="#00f5bf"/><stop offset="0.706" stop-color="#00fd9f"/><stop offset="0.765" stop-color="#00ff79"/><stop offset="0.824" stop-color="#00fd9f"/><stop offset="0.882" stop-color="#00ff47"/><stop offset="0.941" stop-color="#00ff47"/><stop offset="1.000" stop-color="#00ff47"/></linearGradient>
<linearGradient id="g1_22" gradientUnits="userSpaceOnUse" x1="205.8" x2="313.1" y1="0" y2="0"><stop offset="0.000" stop-color="#072cf6"/><stop offset="0.059" stop-color="#072cf6"/><stop offset="0.118" stop-color="#072cf6"/><stop offset="0.176" stop-color="#044ffa"/><stop offset="0.235" stop-color="#0080ff"/><stop offset="0.294" stop-color="#00d6ff"/><stop offset="0.353" stop-color="#00c7ff"/><stop offset="0.412" stop-color="#00c0ff"/><stop offset="0.471" stop-color="#00e4ff"/><stop offset="0.529" stop-color="#00f5bb"/><stop offset="0.588" stop-color="#00ff14"/><stop offset="0.647" stop-color="#00ece1"/><stop offset="0.706" stop-color="#00f0d2"/><stop offset="0.765" stop-color="#00f3c3"/><stop offset="0.824" stop-color="#00f0d2"/><stop offset="0.882" stop-color="#00ff71"/><stop offset="0.941" stop-color="#00ff71"/><stop offset="1.000" stop-color="#00ff71"/></linearGradient>
<linearGradient id="g1_23" gradientUnits="userSpaceOnUse" x1="205.8" x2="313.1" y1="0" y2="0"><stop offset="0.000" stop-color="#081ef4"/><stop offset="0.059" stop-color="#081ef4"/><stop offset="0.118" stop-color="#081ef4"/><stop offset="0.176" stop-color="#044df9"/><stop offset="0.235" stop-color="#007eff"/><stop offset="0.294" stop-color="#00e4ff"/><stop offset="0.353" stop-color="#00e2ff"/><stop offset="0.412" stop-color="#00b2ff"/><stop offset="0.471" stop-color="#00e2ff"/><stop offset="0.529" stop-color="#00f1cc"/><stop offset="0.588" stop-color="#00ff14"/><stop offset="0.647" stop-color="#00e4ff"/><stop offset="0.706" stop-color="#00e2ff"/><stop offset="0.765" stop-color="#00e2ff"/><stop offset="0.824" stop-color="#00e4ff"/><stop offset="0.882" stop-color="#00fe9a"/><stop offset="0.941" stop-color="#00fe9a"/><stop offset="1.000" stop-color="#00fe9a"/></linearGradient>
<linearGradient id="g1_24" gradientUnits="userSpaceOnUse" x1="205.8" x2="313.1" y1="0" y2="0"><stop offset="0.000" stop-color="#081ef4"/><stop offset="0.059" stop-color="#081ef4"/><stop offset="0.118" stop-color="#081ef4"/><stop offset="0.176" stop-color="#053df8"/><stop offset="0.235" stop-color="#016efd"/><stop offset="0.294" stop-color="#00e4ff"/><stop offset="0.353" stop-color="#00d2ff"/><stop offset="0.412" stop-color="#00b2ff"/><stop offset="0.471" stop-color="#00d2ff"/><stop offset="0.529" stop-color="#00edde"/><stop offset="0.588" stop-color="#00ff14"/><stop offset="0.647" stop-color="#00e4ff"/><stop offset="0.706" stop-color="#00d2ff"/><stop offset="0.765" stop-color="#00d2ff"/><stop offset="0.824" stop-color="#00e4ff"/><stop offset="0.882" stop-color="#00f5bc"/><stop offset="0.941" stop-color="#00f5bc"/><stop offset="1.000" stop-color="#00f5bc"/></linearGradient>
<linearGradient id="g1_25" gradientUnits="userSpaceOnUse" x1="205.8" x2="313.1" y1="0" y2="0"><stop offset="0.000" stop-color="#081ef4"/><stop offset="0.059" stop-color="#081ef4"/><stop offset="0.118" stop-color="#081ef4"/><stop offset="0.176" stop-color="#072df6"/><stop offset="0.235" stop-color="#035efb"/><stop offset="0.294" stop-color="#00e4ff"/><stop offset="0.353" stop-color="#00c2ff"/><stop offset="0.412" stop-color="#00b2ff"/><stop offset="0.471" stop-color="#00c2ff"/><stop offset="0.529" stop-color="#00e8ef"/><stop offset="0.588" stop-color="#00ff14"/><stop offset="0.647" stop-color="#00e4ff"/><stop offset="0.706" stop-color="#00c2ff"/><stop offset="0.765" stop-color="#00c2ff"/><stop offset="0.824" stop-color="#00e4ff"/><stop offset="0.882" stop-color="#00ecde"/><stop offset="0.941" stop-color="#00ecde"/><stop offset="1.000" stop-color="#00ecde"/></linearGradient>
<linearGradient id="g1_26" gradientUnits="userSpaceOnUse" x1="205.8" x2="313.1" y1="0" y2="0"><stop offset="0.000" stop-color="#081ef4"/><stop offset="0.059" stop-color="#081ef4"/><stop offset="0.118" stop-color="#081ef4"/><stop offset="0.176" stop-color="#081ef4"/><stop offset="0.235" stop-color="#044ffa"/><stop offset="0.294" stop-color="#00e3ff"/><stop offset="0.353" stop-color="#00b1ff"/><stop offset="0.412" stop-color="#00b1ff"/><stop offset="0.471" stop-color="#00b2ff"/><stop offset="0.529" stop-color="#00e3ff"/><stop offset="0.588" stop-color="#00ff15"/><stop offset="0.647" stop-color="#00e4ff"/><stop offset="0.706" stop-color="#00b1ff"/><stop offset="0.765" stop-color="#00b2ff"/><stop offset="0.824" stop-color="#00e4ff"/><stop offset="0.882" stop-color="#00e4ff"/><stop offset="0.941" stop-color="#00e4ff"/><stop offset="1.000" stop-color="#00e4ff"/></linearGradient>
<linearGradient id="g1_27" gradientUnits="userSpaceOnUse" x1="205.8" x2="313.1" y1="0" y2="0"><stop offset="0.000" stop-color="#0719eb"/><stop offset="0.059" stop-color="#0719eb"/><stop offset="0.118" stop-color="#0719eb"/><stop offset="0.176" stop-color="#081ef4"/><stop offset="0.235" stop-color="#044ffa"/><stop offset="0.294" stop-color="#00d3ff"/><stop offset="0.353" stop-color="#00a1ff"/><stop offset="0.412" stop-color="#00a1ff"/><stop offset="0.471" stop-color="#00b2ff"/><stop offset="0.529" stop-color="#00d3ff"/><stop offset="0.588" stop-color="#00ff2a"/><stop offset="0.647" stop-color="#00e4ff"/><stop offset="0.706" stop-color="#00a1ff"/><stop offset="0.765" stop-color="#00b2ff"/><stop offset="0.824" stop-color="#00e4ff"/><stop offset="0.882" stop-color="#00e4ff"/><stop offset="0.941" stop-color="#00e4ff"/><stop offset="1.000" stop-color="#00e4ff"/></linearGradient>
<linearGradient id="g1_28" gradientUnits="userSpaceOnUse" x1="205.8" x2="313.1" y1="0" y2="0"><stop offset="0.000" stop-color="#0514e2"/><stop offset="0.059" stop-color="#0514e2"/><stop offset="0.118" stop-color="#0514e2"/><stop offset="0.176" stop-color="#081ef4"/><stop offset="0.235" stop-color="#044ffa"/><stop offset="0.294" stop-color="#00c3ff"/><stop offset="0.353" stop-color="#0091ff"/><stop offset="0.412" stop-color="#0091ff"/><stop offset="0.471" stop-color="#00b2ff"/><stop offset="0.529" stop-color="#00c3ff"/><stop offset="0.588" stop-color="#00ff3f"/><stop offset="0.647" stop-color="#00e4ff"/><stop offset="0.706" stop-color="#0091ff"/><stop offset="0.765" stop-color="#00b2ff"/><stop offset="0.824" stop-color="#00e4ff"/><stop offset="0.882" stop-color="#00e4ff"/><stop offset="0.941" stop-color="#00e4ff"/><stop offset="1.000" stop-color="#00e4ff"/></linearGradient>
<linearGradient id="g1_29" gradientUnits="userSpaceOnUse" x1="205.8" x2="313.1" y1="0" y2="0"><stop offset="0.000" stop-color="#040fd9"/><stop offset="0.059" stop-color="#040fd9"/><stop offset="0.118" stop-color="#040fd9"/><stop offset="0.176" stop-color="#081ef4"/><stop offset="0.235" stop-color="#044ffa"/><stop offset="0.294" stop-color="#00b3ff"/><stop offset="0.353" stop-color="#0081ff"/><stop offset="0.412" stop-color="#0081ff"/><stop offset="0.471" stop-color="#00b2ff"/><stop offset="0.529" stop-color="#00b3ff"/><stop offset="0.588" stop-color="#00ff54"/><stop offset="0.647" stop-color="#00e4ff"/><stop offset="0.706" stop-color="#0081ff"/><stop offset="0.765" stop-color="#00b2ff"/><stop offset="0.824" stop-color="#00e4ff"/><stop offset="0.882" stop-color="#00e4ff"/><stop offset="0.941" stop-color="#00e4ff"/><stop offset="1.000" stop-color="#00e4ff"/></linearGradient>
<linearGradient id="g1_30" gradientUnits="userSpaceOnUse" x1="205.8" x2="313.1" y1="0" y2="0"><stop offset="0.000" stop-color="#0514e1"/><stop offset="0.059" stop-color="#0514e1"/><stop offset="0.118" stop-color="#0514e1"/><stop offset="0.176" stop-color="#081ef4"/><stop offset="0.235" stop-color="#044ffa"/><stop offset="0.294" stop-color="#00a3ff"/><stop offset="0.353" stop-color="#0080ff"/><stop offset="0.412" stop-color="#008fff"/><stop offset="0.471" stop-color="#00a3ff"/><stop offset="0.529" stop-color="#00a3ff"/><stop offset="0.588" stop-color="#00ff91"/><stop offset="0.647" stop-color="#00d5ff"/><stop offset="0.706" stop-color="#0080ff"/><stop offset="0.765" stop-color="#00a3ff"/><stop offset="0.824" stop-color="#00e4ff"/><stop offset="0.882" stop-color="#00e4ff"/><stop offset="0.941" stop-color="#00e4ff"/><stop offset="1.000" stop-color="#00e4ff"/></linearGradient>
<linearGradient id="g1_31" gradientUnits="userSpaceOnUse" x1="205.8" x2="313.1" y1="0" y2="0"><stop offset="0.000" stop-color="#0719ea"/><stop offset="0.059" stop-color="#0719ea"/><stop offset="0.118" stop-color="#0719ea"/><stop offset="0.176" stop-color="#081ef4"/><stop offset="0.235" stop-color="#044ffa"/><stop offset="0.294" stop-color="#0092ff"/><stop offset="0.353" stop-color="#0080ff"/><stop offset="0.412" stop-color="#00a0ff"/><stop offset="0.471" stop-color="#0092ff"/><stop offset="0.529" stop-color="#0092ff"/><stop offset="0.588" stop-color="#00f3c5"/><stop offset="0.647" stop-color="#00c4ff"/><stop offset="0.706" stop-color="#0080ff"/><stop offset="0.765" stop-color="#0092ff"/><stop offset="0.824" stop-color="#00e4ff"/><stop offset="0.882" stop-color="#00e4ff"/><stop offset="0.941" stop-color="#00e4ff"/><stop offset="1.000" stop-color="#00e4ff"/></linearGradient>
<linearGradient id="g1_32" gradientUnits="userSpaceOnUse" x1="205.8" x2="313.1" y1="0" y2="0"><stop offset="0.000" stop-color="#081df3"/><stop offset="0.059" stop-color="#081df3"/><stop offset="0.118" stop-color="#081df3"/><stop offset="0.176" stop-color="#081ef4"/><stop offset="0.235" stop-color="#044ffa"/><stop offset="0.294" stop-color="#0082ff"/><stop offset="0.353" stop-color="#0080ff"/><stop offset="0.412" stop-color="#00b0ff"/><stop offset="0.471" stop-color="#0082ff"/><stop offset="0.529" stop-color="#0082ff"/><stop offset="0.588" stop-color="#00e6f9"/><stop offset="0.647" stop-color="#00b4ff"/><stop offset="0.706" stop-color="#0080ff"/><stop offset="0.765" stop-color="#0082ff"/><stop offset="0.824" stop-color="#00e4ff"/><stop offset="0.882" stop-color="#00e4ff"/><stop offset="0.941" stop-color="#00e4ff"/><stop offset="1.000" stop-color="#00e4ff"/></linearGradient>
<linearGradient id="g1_33" gradientUnits="userSpaceOnUse" x1="205.8" x2="313.1" y1="0" y2="0"><stop offset="0.000" stop-color="#081ef4"/><stop offset="0.059" stop-color="#081ef4"/><stop offset="0.118" stop-color="#081ef4"/><stop offset="0.176" stop-color="#081ef4"/><stop offset="0.235" stop-color="#0541f8"/><stop offset="0.294" stop-color="#0172fd"/><stop offset="0.353" stop-color="#00b9ff"/><stop offset="0.412" stop-color="#00a4ff"/><stop offset="0.471" stop-color="#0172fd"/><stop offset="0.529" stop-color="#0080ff"/><stop offset="0.588" stop-color="#00c8ff"/><stop offset="0.647" stop-color="#00a4ff"/><stop offset="0.706" stop-color="#0080ff"/><stop offset="0.765" stop-color="#008eff"/><stop offset="0.824" stop-color="#00e4ff"/><stop offset="0.882" stop-color="#00e4ff"/><stop offset="0.941" stop-color="#00e4ff"/><stop offset="1.000" stop-color="#00e4ff"/></linearGradient>
<linearGradient id="g1_34" gradientUnits="userSpaceOnUse" x1="205.8" x2="313.1" y1="0" y2="0"><stop offset="0.000" stop-color="#081ef4"/><stop offset="0.059" stop-color="#081ef4"/><stop offset="0.118" stop-color="#081ef4"/><stop offset="0.176" stop-color="#081ef4"/><stop offset="0.235" stop-color="#0631f6"/><stop offset="0.294" stop-color="#0262fc"/><stop offset="0.353" stop-color="#00eae8"/><stop offset="0.412" stop-color="#0094ff"/><stop offset="0.471" stop-color="#0262fc"/><stop offset="0.529" stop-color="#0080ff"/><stop offset="0.588" stop-color="#00a7ff"/><stop offset="0.647" stop-color="#0094ff"/><stop offset="0.706" stop-color="#0080ff"/><stop offset="0.765" stop-color="#009eff"/><stop offset="0.824" stop-color="#00e4ff"/><stop offset="0.882" stop-color="#00e4ff"/><stop offset="0.941" stop-color="#00e4ff"/><stop offset="1.000" stop-color="#00e4ff"/></linearGradient>
<linearGradient id="g1_35" gradientUnits="userSpaceOnUse" x1="205.8" x2="313.1" y1="0" y2="0"><stop offset="0.000" stop-color="#081ef4"/><stop offset="0.059" stop-color="#081ef4"/><stop offset="0.118" stop-color="#081ef4"/><stop offset="0.176" stop-color="#081ef4"/><stop offset="0.235" stop-color="#0821f4"/><stop offset="0.294" stop-color="#0452fa"/><stop offset="0.353" stop-color="#00fba4"/><stop offset="0.412" stop-color="#0083ff"/><stop offset="0.471" stop-color="#0452fa"/><stop offset="0.529" stop-color="#0080ff"/><stop offset="0.588" stop-color="#0087ff"/><stop offset="0.647" stop-color="#0083ff"/><stop offset="0.706" stop-color="#0080ff"/><stop offset="0.765" stop-color="#00afff"/><stop offset="0.824" stop-color="#00e4ff"/><stop offset="0.882" stop-color="#00e4ff"/><stop offset="0.941" stop-color="#00e4ff"/><stop offset="1.000" stop-color="#00e4ff"/></linearGradient>
<linearGradient id="g1_36" gradientUnits="userSpaceOnUse" x1="205.8" x2="313.1" y1="0" y2="0"><stop offset="0.000" stop-color="#081ef4"/><stop offset="0.059" stop-color="#081ef4"/><stop offset="0.118" stop-color="#081ef4"/><stop offset="0.176" stop-color="#081ef4"/><stop offset="0.235" stop-color="#081ef4"/><stop offset="0.294" stop-color="#044ffa"/><stop offset="0.353" stop-color="#00f1cc"/><stop offset="0.412" stop-color="#0173fe"/><stop offset="0.471" stop-color="#0542f8"/><stop offset="0.529" stop-color="#0173fe"/><stop offset="0.588" stop-color="#0080ff"/><stop offset="0.647" stop-color="#0173fe"/><stop offset="0.706" stop-color="#0080ff"/><stop offset="0.765" stop-color="#00a5ff"/><stop offset="0.824" stop-color="#00d7ff"/><stop offset="0.882" stop-color="#00e4ff"/><stop offset="0.941" stop-color="#00e4ff"/><stop offset="1.000" stop-color="#00e4ff"/></linearGradient>
<linearGradient id="g1_37" gradientUnits="userSpaceOnUse" x1="205.8" x2="313.1" y1="0" y2="0"><stop offset="0.000" stop-color="#081ef4"/><stop offset="0.059" stop-color="#081ef4"/><stop offset="0.118" stop-color="#081ef4"/><stop offset="0.176" stop-color="#081ef4"/><stop offset="0.235" stop-color="#081ef4"/><stop offset="0.294" stop-color="#044ffa"/><stop offset="0.353" stop-color="#00d4ff"/><stop offset="0.412" stop-color="#0264fc"/><stop offset="0.471" stop-color="#0633f6"/><stop offset="0.529" stop-color="#0264fc"/><stop offset="0.588" stop-color="#0080ff"/><stop offset="0.647" stop-color="#0264fc"/><stop offset="0.706" stop-color="#0080ff"/><stop offset="0.765" stop-color="#0095ff"/><stop offset="0.824" stop-color="#00c7ff"/><stop offset="0.882" stop-color="#00e4ff"/><stop offset="0.941" stop-color="#00e4ff"/><stop offset="1.000" stop-color="#00e4ff"/></linearGradient>
<linearGradient id="g1_38" gradientUnits="userSpaceOnUse" x1="205.8" x2="313.1" y1="0" y2="0"><stop offset="0.000" stop-color="#081ef4"/><stop offset="0.059" stop-color="#081ef4"/><stop offset="0.118" stop-color="#081ef4"/><stop offset="0.176" stop-color="#081ef4"/><stop offset="0.235" stop-color="#081ef4"/><stop offset="0.294" stop-color="#044ffa"/><stop offset="0.353" stop-color="#0093ff"/><stop offset="0.412" stop-color="#0454fa"/><stop offset="0.471" stop-color="#0823f5"/><stop offset="0.529" stop-color="#0454fa"/><stop offset="0.588" stop-color="#0080ff"/><stop offset="0.647" stop-color="#0454fa"/><stop offset="0.706" stop-color="#0080ff"/><stop offset="0.765" stop-color="#0085ff"/><stop offset="0.824" stop-color="#00b7ff"/><stop offset="0.882" stop-color="#00e4ff"/><stop offset="0.941" stop-color="#00e4ff"/><stop offset="1.000" stop-color="#00e4ff"/></linearGradient>
<linearGradient id="g1_39" gradientUnits="userSpaceOnUse" x1="205.8" x2="313.1" y1="0" y2="0"><stop offset="0.000" stop-color="#081ef4"/><stop offset="0.059" stop-color="#081ef4"/><stop offset="0.118" stop-color="#081ef4"/><stop offset="0.176" stop-color="#081ef4"/><stop offset="0.235" stop-color="#081ef4"/><stop offset="0.294" stop-color="#0544f8"/><stop offset="0.353" stop-color="#0175fe"/><stop offset="0.412" stop-color="#0544f8"/><stop offset="0.471" stop-color="#081ef4"/><stop offset="0.529" stop-color="#0544f8"/><stop offset="0.588" stop-color="#0269fc"/><stop offset="0.647" stop-color="#0544f8"/><stop offset="0.706" stop-color="#0175fe"/><stop offset="0.765" stop-color="#0080ff"/><stop offset="0.824" stop-color="#00a6ff"/><stop offset="0.882" stop-color="#00d8ff"/><stop offset="0.941" stop-color="#00d8ff"/><stop offset="1.000" stop-color="#00d8ff"/></linearGradient>
<linearGradient id="g1_40" gradientUnits="userSpaceOnUse" x1="205.8" x2="313.1" y1="0" y2="0"><stop offset="0.000" stop-color="#081ef4"/><stop offset="0.059" stop-color="#081ef4"/><stop offset="0.118" stop-color="#081ef4"/><stop offset="0.176" stop-color="#081ef4"/><stop offset="0.235" stop-color="#081ef4"/><stop offset="0.294" stop-color="#0634f6"/><stop offset="0.353" stop-color="#0265fc"/><stop offset="0.412" stop-color="#0634f6"/><stop offset="0.471" stop-color="#081ef4"/><stop offset="0.529" stop-color="#0634f6"/><stop offset="0.588" stop-color="#044af9"/><stop offset="0.647" stop-color="#0634f6"/><stop offset="0.706" stop-color="#0265fc"/><stop offset="0.765" stop-color="#0080ff"/><stop offset="0.824" stop-color="#0096ff"/><stop offset="0.882" stop-color="#00c8ff"/><stop offset="0.941" stop-color="#00c8ff"/><stop offset="1.000" stop-color="#00c8ff"/></linearGradient>
<linearGradient id="g1_41" gradientUnits="userSpaceOnUse" x1="205.8" x2="313.1" y1="0" y2="0"><stop offset="0.000" stop-color="#081ef4"/><stop offset="0.059" stop-color="#081ef4"/><stop offset="0.118" stop-color="#081ef4"/><stop offset="0.176" stop-color="#081ef4"/><stop offset="0.235" stop-color="#081ef4"/><stop offset="0.294" stop-color="#0824f5"/><stop offset="0.353" stop-color="#0455fa"/><stop offset="0.412" stop-color="#0824f5"/><stop offset="0.471" stop-color="#081ef4"/><stop offset="0.529" stop-color="#0824f5"/><stop offset="0.588" stop-color="#072af5"/><stop offset="0.647" stop-color="#0824f5"/><stop offset="0.706" stop-color="#0455fa"/><stop offset="0.765" stop-color="#0080ff"/><stop offset="0.824" stop-color="#0086ff"/><stop offset="0.882" stop-color="#00b8ff"/><stop offset="0.941" stop-color="#00b8ff"/><stop offset="1.000" stop-color="#00b8ff"/></linearGradient>
<linearGradient id="g1_42" gradientUnits="userSpaceOnUse" x1="205.8" x2="313.1" y1="0" y2="0"><stop offset="0.000" stop-color="#081ef4"/><stop offset="0.059" stop-color="#081ef4"/><stop offset="0.118" stop-color="#081ef4"/><stop offset="0.176" stop-color="#081ef4"/><stop offset="0.235" stop-color="#081ef4"/><stop offset="0.294" stop-color="#081ef4"/><stop offset="0.353" stop-color="#0545f8"/><stop offset="0.412" stop-color="#081ef4"/><stop offset="0.471" stop-color="#081ef4"/><stop offset="0.529" stop-color="#081ef4"/><stop offset="0.588" stop-color="#081ef4"/><stop offset="0.647" stop-color="#081ef4"/><stop offset="0.706" stop-color="#0545f8"/><stop offset="0.765" stop-color="#0176fe"/><stop offset="0.824" stop-color="#0080ff"/><stop offset="0.882" stop-color="#00a8ff"/><stop offset="0.941" stop-color="#00a8ff"/><stop offset="1.000" stop-color="#00a8ff"/></linearGradient>
<linearGradient id="g1_43" gradientUnits="userSpaceOnUse" x1="205.8" x2="313.1" y1="0" y2="0"><stop offset="0.000" stop-color="#081ef4"/><stop offset="0.059" stop-color="#081ef4"/><stop offset="0.118" stop-color="#081ef4"/><stop offset="0.176" stop-color="#081ef4"/><stop offset="0.235" stop-color="#081ef4"/><stop offset="0.294" stop-color="#081ef4"/><stop offset="0.353" stop-color="#0635f7"/><stop offset="0.412" stop-color="#081ef4"/><stop offset="0.471" stop-color="#081ef4"/><stop offset="0.529" stop-color="#081ef4"/><stop offset="0.588" stop-color="#081ef4"/><stop offset="0.647" stop-color="#081ef4"/><stop offset="0.706" stop-color="#0635f7"/><stop offset="0.765" stop-color="#0266fc"/><stop offset="0.824" stop-color="#0080ff"/><stop offset="0.882" stop-color="#0098ff"/><stop offset="0.941" stop-color="#0098ff"/><stop offset="1.000" stop-color="#0098ff"/></linearGradient>
<linearGradient id="g1_44" gradientUnits="userSpaceOnUse" x1="205.8" x2="313.1" y1="0" y2="0"><stop offset="0.000" stop-color="#081ef4"/><stop offset="0.059" stop-color="#081ef4"/><stop offset="0.118" stop-color="#081ef4"/><stop offset="0.176" stop-color="#081ef4"/><stop offset="0.235" stop-color="#081ef4"/><stop offset="0.294" stop-color="#081ef4"/><stop offset="0.353" stop-color="#0725f5"/><stop offset="0.412" stop-color="#081ef4"/><stop offset="0.471" stop-color="#081ef4"/><stop offset="0.529" stop-color="#081ef4"/><stop offset="0.588" stop-color="#081ef4"/><stop offset="0.647" stop-color="#081ef4"/><stop offset="0.706" stop-color="#0725f5"/><stop offset="0.765" stop-color="#0356fa"/><stop offset="0.824" stop-color="#0080ff"/><stop offset="0.882" stop-color="#0087ff"/><stop offset="0.941" stop-color="#0087ff"/><stop offset="1.000" stop-color="#0087ff"/></linearGradient>
<linearGradient id="g1_45" gradientUnits="userSpaceOnUse" x1="205.8" x2="313.1" y1="0" y2="0"><stop offset="0.000" stop-color="#081ef4"/><stop offset="0.059" stop-color="#081ef4"/><stop offset="0.118" stop-color="#081ef4"/><stop offset="0.176" stop-color="#081ef4"/><stop offset="0.235" stop-color="#081ef4"/><stop offset="0.294" stop-color="#081ef4"/><stop offset="0.353" stop-color="#081ef4"/><stop offset="0.412" stop-color="#081ef4"/><stop offset="0.471" stop-color="#081ef4"/><stop offset="0.529" stop-color="#081ef4"/><stop offset="0.588" stop-color="#081ef4"/><stop offset="0.647" stop-color="#081ef4"/><stop offset="0.706" stop-color="#081ef4"/><stop offset="0.765" stop-color="#0546f9"/><stop offset="0.824" stop-color="#0177fe"/><stop offset="0.882" stop-color="#0080ff"/><stop offset="0.941" stop-color="#0080ff"/><stop offset="1.000" stop-color="#0080ff"/></linearGradient>
<linearGradient id="g1_46" gradientUnits="userSpaceOnUse" x1="205.8" x2="313.1" y1="0" y2="0"><stop offset="0.000" stop-color="#081ef4"/><stop offset="0.059" stop-color="#081ef4"/><stop offset="0.118" stop-color="#081ef4"/><stop offset="0.176" stop-color="#081ef4"/><stop offset="0.235" stop-color="#081ef4"/><stop offset="0.294" stop-color="#081ef4"/><stop offset="0.353" stop-color="#081ef4"/><stop offset="0.412" stop-color="#081ef4"/><stop offset="0.471" stop-color="#081ef4"/><stop offset="0.529" stop-color="#081ef4"/><stop offset="0.588" stop-color="#081ef4"/><stop offset="0.647" stop-color="#081ef4"/><stop offset="0.706" stop-color="#081ef4"/><stop offset="0.765" stop-color="#0636f7"/><stop offset="0.824" stop-color="#0267fc"/><stop offset="0.882" stop-color="#0080ff"/><stop offset="0.941" stop-color="#0080ff"/><stop offset="1.000" stop-color="#0080ff"/></linearGradient>
<linearGradient id="g1_47" gradientUnits="userSpaceOnUse" x1="205.8" x2="313.1" y1="0" y2="0"><stop offset="0.000" stop-color="#081ef4"/><stop offset="0.059" stop-color="#081ef4"/><stop offset="0.118" stop-color="#081ef4"/><stop offset="0.176" stop-color="#081ef4"/><stop offset="0.235" stop-color="#081ef4"/><stop offset="0.294" stop-color="#081ef4"/><stop offset="0.353" stop-color="#081ef4"/><stop offset="0.412" stop-color="#081ef4"/><stop offset="0.471" stop-color="#081ef4"/><stop offset="0.529" stop-color="#081ef4"/><stop offset="0.588" stop-color="#081ef4"/><stop offset="0.647" stop-color="#081ef4"/><stop offset="0.706" stop-color="#081ef4"/><stop offset="0.765" stop-color="#0726f5"/><stop offset="0.824" stop-color="#0357fa"/><stop offset="0.882" stop-color="#0080ff"/><stop offset="0.941" stop-color="#0080ff"/><stop offset="1.000" stop-color="#0080ff"/></linearGradient>
<linearGradient id="g1_48" gradientUnits="userSpaceOnUse" x1="205.8" x2="313.1" y1="0" y2="0"><stop offset="0.000" stop-color="#081ef4"/><stop offset="0.059" stop-color="#081ef4"/><stop offset="0.118" stop-color="#081ef4"/><stop offset="0.176" stop-color="#081ef4"/><stop offset="0.235" stop-color="#081ef4"/><stop offset="0.294" stop-color="#081ef4"/><stop offset="0.353" stop-color="#081ef4"/><stop offset="0.412" stop-color="#081ef4"/><stop offset="0.471" stop-color="#081ef4"/><stop offset="0.529" stop-color="#081ef4"/><stop offset="0.588" stop-color="#081ef4"/><stop offset="0.647" stop-color="#081ef4"/><stop offset="0.706" stop-color="#081ef4"/><stop offset="0.765" stop-color="#081ef4"/><stop offset="0.824" stop-color="#044ffa"/><stop offset="0.882" stop-color="#0080ff"/><stop offset="0.941" stop-color="#0080ff"/><stop offset="1.000" stop-color="#0080ff"/></linearGradient>
<linearGradient id="g2_0" gradientUnits="userSpaceOnUse" x1="369.5" x2="489.0" y1="0" y2="0"><stop offset="0.000" stop-color="#0080ff"/><stop offset="0.053" stop-color="#0080ff"/><stop offset="0.105" stop-color="#0080ff"/><stop offset="0.158" stop-color="#0080ff"/><stop offset="0.211" stop-color="#0080ff"/><stop offset="0.263" stop-color="#0080ff"/><stop offset="0.316" stop-color="#0080ff"/><stop offset="0.368" stop-color="#00e4ff"/><stop offset="0.421" stop-color="#00f2ca"/><stop offset="0.474" stop-color="#00f2ca"/><stop offset="0.526" stop-color="#00e4ff"/><stop offset="0.579" stop-color="#00e4ff"/><stop offset="0.632" stop-color="#00f2ca"/><stop offset="0.684" stop-color="#00ff96"/><stop offset="0.737" stop-color="#00ff96"/><stop offset="0.789" stop-color="#00ff96"/><stop offset="0.842" stop-color="#00ff96"/><stop offset="0.895" stop-color="#00ff96"/><stop offset="0.947" stop-color="#00ff96"/><stop offset="1.000" stop-color="#00ff96"/></linearGradient>
<linearGradient id="g2_1" gradientUnits="userSpaceOnUse" x1="369.5" x2="489.0" y1="0" y2="0"><stop offset="0.000" stop-color="#0080ff"/><stop offset="0.053" stop-color="#0080ff"/><stop offset="0.105" stop-color="#0080ff"/><stop offset="0.158" stop-color="#0080ff"/><stop offset="0.211" stop-color="#0080ff"/><stop offset="0.263" stop-color="#0080ff"/><stop offset="0.316" stop-color="#0080ff"/><stop offset="0.368" stop-color="#00e4ff"/><stop offset="0.421" stop-color="#00f2ca"/><stop offset="0.474" stop-color="#00f2ca"/><stop offset="0.526" stop-color="#00e4ff"/><stop offset="0.579" stop-color="#00e4ff"/><stop offset="0.632" stop-color="#00f2ca"/><stop offset="0.684" stop-color="#00ff96"/><stop offset="0.737" stop-color="#00ff96"/><stop offset="0.789" stop-color="#00ff96"/><stop offset="0.842" stop-color="#00ff96"/><stop offset="0.895" stop-color="#00ff96"/><stop offset="0.947" stop-color="#00ff96"/><stop offset="1.000" stop-color="#00ff96"/></linearGradient>
<linearGradient id="g2_2" gradientUnits="userSpaceOnUse" x1="369.5" x2="489.0" y1="0" y2="0"><stop offset="0.000" stop-color="#0080ff"/><stop offset="0.053" stop-color="#0080ff"/><stop offset="0.105" stop-color="#0080ff"/><stop offset="0.158" stop-color="#0080ff"/><stop offset="0.211" stop-color="#0080ff"/><stop offset="0.263" stop-color="#0080ff"/><stop offset="0.316" stop-color="#0175fe"/><stop offset="0.368" stop-color="#00e4ff"/><stop offset="0.421" stop-color="#00f2ca"/><stop offset="0.474" stop-color="#00f2ca"/><stop offset="0.526" stop-color="#00e4ff"/><stop offset="0.579" stop-color="#00e4ff"/><stop offset="0.632" stop-color="#00eed7"/><stop offset="0.684" stop-color="#00fca2"/><stop offset="0.737" stop-color="#00ff96"/><stop offset="0.789" stop-color="#00ff96"/><stop offset="0.842" stop-color="#00ff96"/><stop offset="0.895" stop-color="#00ff96"/><stop offset="0.947" stop-color="#00ff96"/><stop offset="1.000" stop-color="#00ff96"/></linearGradient>
<linearGradient id="g2_3" gradientUnits="userSpaceOnUse" x1="369.5" x2="489.0" y1="0" y2="0"><stop offset="0.000" stop-color="#0080ff"/><stop offset="0.053" stop-color="#0080ff"/><stop offset="0.105" stop-color="#0080ff"/><stop offset="0.158" stop-color="#0080ff"/><stop offset="0.211" stop-color="#0080ff"/><stop offset="0.263" stop-color="#0080ff"/><stop offset="0.316" stop-color="#0265fc"/><stop offset="0.368" stop-color="#00e4ff"/><stop offset="0.421" stop-color="#00f2ca"/><stop offset="0.474" stop-color="#00f2ca"/><stop offset="0.526" stop-color="#00e4ff"/><stop offset="0.579" stop-color="#00e4ff"/><stop offset="0.632" stop-color="#00eae8"/><stop offset="0.684" stop-color="#00f7b3"/><stop offset="0.737" stop-color="#00ff96"/><stop offset="0.789" stop-color="#00ff96"/><stop offset="0.842" stop-color="#00ff96"/><stop offset="0.895" stop-color="#00ff96"/><stop offset="0.947" stop-color="#00ff96"/><stop offset="1.000" stop-color="#00ff96"/></linearGradient>
<linearGradient id="g2_4" gradientUnits="userSpaceOnUse" x1="369.5" x2="489.0" y1="0" y2="0"><stop offset="0.000" stop-color="#0080ff"/><stop offset="0.053" stop-color="#0080ff"/><stop offset="0.105" stop-color="#0080ff"/><stop offset="0.158" stop-color="#0080ff"/><stop offset="0.211" stop-color="#0080ff"/><stop offset="0.263" stop-color="#0080ff"/><stop offset="0.316" stop-color="#0455fa"/><stop offset="0.368" stop-color="#00e4ff"/><stop offset="0.421" stop-color="#00f2ca"/><stop offset="0.474" stop-color="#00f2ca"/><stop offset="0.526" stop-color="#00e4ff"/><stop offset="0.579" stop-color="#00e4ff"/><stop offset="0.632" stop-color="#00e6f9"/><stop offset="0.684" stop-color="#00f3c4"/><stop offset="0.737" stop-color="#00ff96"/><stop offset="0.789" stop-color="#00ff96"/><stop offset="0.842" stop-color="#00ff96"/><stop offset="0.895" stop-color="#00ff96"/><stop offset="0.947" stop-color="#00ff96"/><stop offset="1.000" stop-color="#00ff96"/></linearGradient>
<linearGradient id="g2_5" gradientUnits="userSpaceOnUse" x1="369.5" x2="489.0" y1="0" y2="0"><stop offset="0.000" stop-color="#0080ff"/><stop offset="0.053" stop-color="#0080ff"/><stop offset="0.105" stop-color="#0080ff"/><stop offset="0.158" stop-color="#0080ff"/><stop offset="0.211" stop-color="#0080ff"/><stop offset="0.263" stop-color="#008aff"/><stop offset="0.316" stop-color="#044ffa"/><stop offset="0.368" stop-color="#00daff"/><stop offset="0.421" stop-color="#00f2ca"/><stop offset="0.474" stop-color="#00f2ca"/><stop offset="0.526" stop-color="#00e4ff"/><stop offset="0.579" stop-color="#00e4ff"/><stop offset="0.632" stop-color="#00e4ff"/><stop offset="0.684" stop-color="#00f2ca"/><stop offset="0.737" stop-color="#00ff96"/><stop offset="0.789" stop-color="#00ff96"/><stop offset="0.842" stop-color="#00ff96"/><stop offset="0.895" stop-color="#00ff96"/><stop offset="0.947" stop-color="#00ff96"/><stop offset="1.000" stop-color="#00ff96"/></linearGradient>
<linearGradient id="g2_6" gradientUnits="userSpaceOnUse" x1="369.5" x2="489.0" y1="0" y2="0"><stop offset="0.000" stop-color="#0080ff"/><stop offset="0.053" stop-color="#0080ff"/><stop offset="0.105" stop-color="#0080ff"/><stop offset="0.158" stop-color="#0080ff"/><stop offset="0.211" stop-color="#0080ff"/><stop offset="0.263" stop-color="#009bff"/><stop offset="0.316" stop-color="#044ffa"/><stop offset="0.368" stop-color="#00c9ff"/><stop offset="0.421" stop-color="#00f2ca"/><stop offset="0.474" stop-color="#00f2ca"/><stop offset="0.526" stop-color="#00e4ff"/><stop offset="0.579" stop-color="#00e4ff"/><stop offset="0.632" stop-color="#00e4ff"/><stop offset="0.684" stop-color="#00f2ca"/><stop offset="0.737" stop-color="#00ff96"/><stop offset="0.789" stop-color="#00ff96"/><stop offset="0.842" stop-color="#00ff96"/><stop offset="0.895" stop-color="#00ff96"/><stop offset="0.947" stop-color="#00ff96"/><stop offset="1.000" stop-color="#00ff96"/></linearGradient>
<linearGradient id="g2_7" gradientUnits="userSpaceOnUse" x1="369.5" x2="489.0" y1="0" y2="0"><stop offset="0.000" stop-color="#0080ff"/><stop offset="0.053" stop-color="#0080ff"/><stop offset="0.105" stop-color="#0080ff"/><stop offset="0.158" stop-color="#0080ff"/><stop offset="0.211" stop-color="#0080ff"/><stop offset="0.263" stop-color="#00abff"/><stop offset="0.316" stop-color="#044ffa"/><stop offset="0.368" stop-color="#00b9ff"/><stop offset="0.421" stop-color="#00f2ca"/><stop offset="0.474" stop-color="#00f2ca"/><stop offset="0.526" stop-color="#00e4ff"/><stop offset="0.579" stop-color="#00e4ff"/><stop offset="0.632" stop-color="#00e4ff"/><stop offset="0.684" stop-color="#00f2ca"/><stop offset="0.737" stop-color="#00ff96"/><stop offset="0.789" stop-color="#00ff96"/><stop offset="0.842" stop-color="#00ff96"/><stop offset="0.895" stop-color="#00ff96"/><stop offset="0.947" stop-color="#00ff96"/><stop offset="1.000" stop-color="#00ff96"/></linearGradient>
<linearGradient id="g2_8" gradientUnits="userSpaceOnUse" x1="369.5" x2="489.0" y1="0" y2="0"><stop offset="0.000" stop-color="#0080ff"/><stop offset="0.053" stop-color="#0080ff"/><stop offset="0.105" stop-color="#0080ff"/><stop offset="0.158" stop-color="#0080ff"/><stop offset="0.211" stop-color="#0080ff"/><stop offset="0.263" stop-color="#00b2ff"/><stop offset="0.316" stop-color="#0546f9"/><stop offset="0.368" stop-color="#00b2ff"/><stop offset="0.421" stop-color="#00f2ca"/><stop offset="0.474" stop-color="#00f2ca"/><stop offset="0.526" stop-color="#00e4ff"/><stop offset="0.579" stop-color="#00e4ff"/><stop offset="0.632" stop-color="#00e4ff"/><stop offset="0.684" stop-color="#00efd4"/><stop offset="0.737" stop-color="#00ff8a"/><stop offset="0.789" stop-color="#00ff96"/><stop offset="0.842" stop-color="#00ff96"/><stop offset="0.895" stop-color="#00ff96"/><stop offset="0.947" stop-color="#00ff96"/><stop offset="1.000" stop-color="#00ff96"/></linearGradient>
<linearGradient id="g2_9" gradientUnits="userSpaceOnUse" x1="369.5" x2="489.0" y1="0" y2="0"><stop offset="0.000" stop-color="#0080ff"/><stop offset="0.053" stop-color="#0080ff"/><stop offset="0.105" stop-color="#0080ff"/><stop offset="0.158" stop-color="#0080ff"/><stop offset="0.211" stop-color="#0080ff"/><stop offset="0.263" stop-color="#00b2ff"/><stop offset="0.316" stop-color="#0636f7"/><stop offset="0.368" stop-color="#00b2ff"/><stop offset="0.421" stop-color="#00f2ca"/><stop offset="0.474" stop-color="#00f2ca"/><stop offset="0.526" stop-color="#00e4ff"/><stop offset="0.579" stop-color="#00e4ff"/><stop offset="0.632" stop-color="#00e4ff"/><stop offset="0.684" stop-color="#00ebe5"/><stop offset="0.737" stop-color="#00ff75"/><stop offset="0.789" stop-color="#00ff96"/><stop offset="0.842" stop-color="#00ff96"/><stop offset="0.895" stop-color="#00ff96"/><stop offset="0.947" stop-color="#00ff96"/><stop offset="1.000" stop-color="#00ff96"/></linearGradient>
<linearGradient id="g2_10" gradientUnits="userSpaceOnUse" x1="369.5" x2="489.0" y1="0" y2="0"><stop offset="0.000" stop-color="#0080ff"/><stop offset="0.053" stop-color="#0080ff"/><stop offset="0.105" stop-color="#0080ff"/><stop offset="0.158" stop-color="#0080ff"/><stop offset="0.211" stop-color="#0080ff"/><stop offset="0.263" stop-color="#00b2ff"/><stop offset="0.316" stop-color="#0726f5"/><stop offset="0.368" stop-color="#00b2ff"/><stop offset="0.421" stop-color="#00f2ca"/><stop offset="0.474" stop-color="#00f2ca"/><stop offset="0.526" stop-color="#00e4ff"/><stop offset="0.579" stop-color="#00e4ff"/><stop offset="0.632" stop-color="#00e4ff"/><stop offset="0.684" stop-color="#00e6f6"/><stop offset="0.737" stop-color="#00ff60"/><stop offset="0.789" stop-color="#00ff96"/><stop offset="0.842" stop-color="#00ff96"/><stop offset="0.895" stop-color="#00ff96"/><stop offset="0.947" stop-color="#00ff96"/><stop offset="1.000" stop-color="#00ff96"/></linearGradient>
<linearGradient id="g2_11" gradientUnits="userSpaceOnUse" x1="369.5" x2="489.0" y1="0" y2="0"><stop offset="0.000" stop-color="#0080ff"/><stop offset="0.053" stop-color="#0080ff"/><stop offset="0.105" stop-color="#0080ff"/><stop offset="0.158" stop-color="#0080ff"/><stop offset="0.211" stop-color="#0080ff"/><stop offset="0.263" stop-color="#00aaff"/><stop offset="0.316" stop-color="#0726f5"/><stop offset="0.368" stop-color="#00c9ff"/><stop offset="0.421" stop-color="#00efd3"/><stop offset="0.474" stop-color="#00f2ca"/><stop offset="0.526" stop-color="#00e4ff"/><stop offset="0.579" stop-color="#00e4ff"/><stop offset="0.632" stop-color="#00e4ff"/><stop offset="0.684" stop-color="#00e4ff"/><stop offset="0.737" stop-color="#00ff5f"/><stop offset="0.789" stop-color="#00ff8c"/><stop offset="0.842" stop-color="#00ff8c"/><stop offset="0.895" stop-color="#00ff8c"/><stop offset="0.947" stop-color="#00ff8c"/><stop offset="1.000" stop-color="#00ff8c"/></linearGradient>
<linearGradient id="g2_12" gradientUnits="userSpaceOnUse" x1="369.5" x2="489.0" y1="0" y2="0"><stop offset="0.000" stop-color="#0080ff"/><stop offset="0.053" stop-color="#0080ff"/><stop offset="0.105" stop-color="#0080ff"/><stop offset="0.158" stop-color="#0080ff"/><stop offset="0.211" stop-color="#0080ff"/><stop offset="0.263" stop-color="#009aff"/><stop offset="0.316" stop-color="#0635f7"/><stop offset="0.368" stop-color="#00eae8"/><stop offset="0.421" stop-color="#00ebe4"/><stop offset="0.474" stop-color="#00f2ca"/><stop offset="0.526" stop-color="#00e4ff"/><stop offset="0.579" stop-color="#00e4ff"/><stop offset="0.632" stop-color="#00e4ff"/><stop offset="0.684" stop-color="#00e4ff"/><stop offset="0.737" stop-color="#00ff74"/><stop offset="0.789" stop-color="#00ff77"/><stop offset="0.842" stop-color="#00ff77"/><stop offset="0.895" stop-color="#00ff77"/><stop offset="0.947" stop-color="#00ff77"/><stop offset="1.000" stop-color="#00ff77"/></linearGradient>
<linearGradient id="g2_13" gradientUnits="userSpaceOnUse" x1="369.5" x2="489.0" y1="0" y2="0"><stop offset="0.000" stop-color="#0080ff"/><stop offset="0.053" stop-color="#0080ff"/><stop offset="0.105" stop-color="#0080ff"/><stop offset="0.158" stop-color="#0080ff"/><stop offset="0.211" stop-color="#0080ff"/><stop offset="0.263" stop-color="#008aff"/><stop offset="0.316" stop-color="#0545f8"/><stop offset="0.368" stop-color="#00f7b5"/><stop offset="0.421" stop-color="#00e7f5"/><stop offset="0.474" stop-color="#00f2ca"/><stop offset="0.526" stop-color="#00e4ff"/><stop offset="0.579" stop-color="#00e4ff"/><stop offset="0.632" stop-color="#00e4ff"/><stop offset="0.684" stop-color="#00e4ff"/><stop offset="0.737" stop-color="#00ff89"/><stop offset="0.789" stop-color="#00ff62"/><stop offset="0.842" stop-color="#00ff62"/><stop offset="0.895" stop-color="#00ff62"/><stop offset="0.947" stop-color="#00ff62"/><stop offset="1.000" stop-color="#00ff62"/></linearGradient>
<linearGradient id="g2_14" gradientUnits="userSpaceOnUse" x1="369.5" x2="489.0" y1="0" y2="0"><stop offset="0.000" stop-color="#0080ff"/><stop offset="0.053" stop-color="#0080ff"/><stop offset="0.105" stop-color="#0080ff"/><stop offset="0.158" stop-color="#0080ff"/><stop offset="0.211" stop-color="#017afe"/><stop offset="0.263" stop-color="#017afe"/><stop offset="0.316" stop-color="#0355fa"/><stop offset="0.368" stop-color="#00ff96"/><stop offset="0.421" stop-color="#00e4ff"/><stop offset="0.474" stop-color="#00f0d1"/><stop offset="0.526" stop-color="#00e4ff"/><stop offset="0.579" stop-color="#00e4ff"/><stop offset="0.632" stop-color="#00e4ff"/><stop offset="0.684" stop-color="#00e4ff"/><stop offset="0.737" stop-color="#00ff8e"/><stop offset="0.789" stop-color="#00ff55"/><stop offset="0.842" stop-color="#00ff55"/><stop offset="0.895" stop-color="#00ff55"/><stop offset="0.947" stop-color="#00ff55"/><stop offset="1.000" stop-color="#00ff55"/></linearGradient>
<linearGradient id="g2_15" gradientUnits="userSpaceOnUse" x1="369.5" x2="489.0" y1="0" y2="0"><stop offset="0.000" stop-color="#0080ff"/><stop offset="0.053" stop-color="#0080ff"/><stop offset="0.105" stop-color="#0080ff"/><stop offset="0.158" stop-color="#0080ff"/><stop offset="0.211" stop-color="#026afd"/><stop offset="0.263" stop-color="#026afd"/><stop offset="0.316" stop-color="#0265fc"/><stop offset="0.368" stop-color="#00ff96"/><stop offset="0.421" stop-color="#00e4ff"/><stop offset="0.474" stop-color="#00ebe2"/><stop offset="0.526" stop-color="#00e4ff"/><stop offset="0.579" stop-color="#00e4ff"/><stop offset="0.632" stop-color="#00e4ff"/><stop offset="0.684" stop-color="#00e4ff"/><stop offset="0.737" stop-color="#00ff79"/><stop offset="0.789" stop-color="#00ff55"/><stop offset="0.842" stop-color="#00ff55"/><stop offset="0.895" stop-color="#00ff55"/><stop offset="0.947" stop-color="#00ff55"/><stop offset="1.000" stop-color="#00ff55"/></linearGradient>
<linearGradient id="g2_16" gradientUnits="userSpaceOnUse" x1="369.5" x2="489.0" y1="0" y2="0"><stop offset="0.000" stop-color="#0080ff"/><stop offset="0.053" stop-color="#0080ff"/><stop offset="0.105" stop-color="#0080ff"/><stop offset="0.158" stop-color="#0080ff"/><stop offset="0.211" stop-color="#035afb"/><stop offset="0.263" stop-color="#035afb"/><stop offset="0.316" stop-color="#0175fe"/><stop offset="0.368" stop-color="#00ff96"/><stop offset="0.421" stop-color="#00e4ff"/><stop offset="0.474" stop-color="#00e7f3"/><stop offset="0.526" stop-color="#00e4ff"/><stop offset="0.579" stop-color="#00e4ff"/><stop offset="0.632" stop-color="#00e4ff"/><stop offset="0.684" stop-color="#00e4ff"/><stop offset="0.737" stop-color="#00ff64"/><stop offset="0.789" stop-color="#00ff55"/><stop offset="0.842" stop-color="#00ff55"/><stop offset="0.895" stop-color="#00ff55"/><stop offset="0.947" stop-color="#00ff55"/><stop offset="1.000" stop-color="#00ff55"/></linearGradient>
<linearGradient id="g2_17" gradientUnits="userSpaceOnUse" x1="369.5" x2="489.0" y1="0" y2="0"><stop offset="0.000" stop-color="#0080ff"/><stop offset="0.053" stop-color="#0080ff"/><stop offset="0.105" stop-color="#0080ff"/><stop offset="0.158" stop-color="#0080ff"/><stop offset="0.211" stop-color="#0454fa"/><stop offset="0.263" stop-color="#044ffa"/><stop offset="0.316" stop-color="#0080ff"/><stop offset="0.368" stop-color="#00fca1"/><stop offset="0.421" stop-color="#00e4ff"/><stop offset="0.474" stop-color="#00e4ff"/><stop offset="0.526" stop-color="#00dfff"/><stop offset="0.579" stop-color="#00dfff"/><stop offset="0.632" stop-color="#00dfff"/><stop offset="0.684" stop-color="#00e4ff"/><stop offset="0.737" stop-color="#00ff5c"/><stop offset="0.789" stop-color="#00ff5c"/><stop offset="0.842" stop-color="#00ff5c"/><stop offset="0.895" stop-color="#00ff5c"/><stop offset="0.947" stop-color="#00ff5c"/><stop offset="1.000" stop-color="#00ff5c"/></linearGradient>
<linearGradient id="g2_18" gradientUnits="userSpaceOnUse" x1="369.5" x2="489.0" y1="0" y2="0"><stop offset="0.000" stop-color="#0080ff"/><stop offset="0.053" stop-color="#0080ff"/><stop offset="0.105" stop-color="#0080ff"/><stop offset="0.158" stop-color="#0080ff"/><stop offset="0.211" stop-color="#0264fc"/><stop offset="0.263" stop-color="#044ffa"/><stop offset="0.316" stop-color="#0080ff"/><stop offset="0.368" stop-color="#00f3c3"/><stop offset="0.421" stop-color="#00e4ff"/><stop offset="0.474" stop-color="#00e4ff"/><stop offset="0.526" stop-color="#00cfff"/><stop offset="0.579" stop-color="#00cfff"/><stop offset="0.632" stop-color="#00cfff"/><stop offset="0.684" stop-color="#00e4ff"/><stop offset="0.737" stop-color="#00ff71"/><stop offset="0.789" stop-color="#00ff71"/><stop offset="0.842" stop-color="#00ff71"/><stop offset="0.895" stop-color="#00ff71"/><stop offset="0.947" stop-color="#00ff71"/><stop offset="1.000" stop-color="#00ff71"/></linearGradient>
<linearGradient id="g2_19" gradientUnits="userSpaceOnUse" x1="369.5" x2="489.0" y1="0" y2="0"><stop offset="0.000" stop-color="#0080ff"/><stop offset="0.053" stop-color="#0080ff"/><stop offset="0.105" stop-color="#0080ff"/><stop offset="0.158" stop-color="#0080ff"/><stop offset="0.211" stop-color="#0174fe"/><stop offset="0.263" stop-color="#044ffa"/><stop offset="0.316" stop-color="#0080ff"/><stop offset="0.368" stop-color="#00ebe5"/><stop offset="0.421" stop-color="#00e4ff"/><stop offset="0.474" stop-color="#00e4ff"/><stop offset="0.526" stop-color="#00beff"/><stop offset="0.579" stop-color="#00beff"/><stop offset="0.632" stop-color="#00beff"/><stop offset="0.684" stop-color="#00e4ff"/><stop offset="0.737" stop-color="#00ff86"/><stop offset="0.789" stop-color="#00ff86"/><stop offset="0.842" stop-color="#00ff86"/><stop offset="0.895" stop-color="#00ff86"/><stop offset="0.947" stop-color="#00ff86"/><stop offset="1.000" stop-color="#00ff86"/></linearGradient>
<linearGradient id="g2_20" gradientUnits="userSpaceOnUse" x1="369.5" x2="489.0" y1="0" y2="0"><stop offset="0.000" stop-color="#0080ff"/><stop offset="0.053" stop-color="#0080ff"/><stop offset="0.105" stop-color="#0080ff"/><stop offset="0.158" stop-color="#0080ff"/><stop offset="0.211" stop-color="#007cff"/><stop offset="0.263" stop-color="#0453fa"/><stop offset="0.316" stop-color="#0084ff"/><stop offset="0.368" stop-color="#00e4ff"/><stop offset="0.421" stop-color="#00e0ff"/><stop offset="0.474" stop-color="#00e0ff"/><stop offset="0.526" stop-color="#00b2ff"/><stop offset="0.579" stop-color="#00b2ff"/><stop offset="0.632" stop-color="#00b2ff"/><stop offset="0.684" stop-color="#00e4ff"/><stop offset="0.737" stop-color="#00fd9e"/><stop offset="0.789" stop-color="#00fe9a"/><stop offset="0.842" stop-color="#00fe9a"/><stop offset="0.895" stop-color="#00fe9a"/><stop offset="0.947" stop-color="#00fe9a"/><stop offset="1.000" stop-color="#00fe9a"/></linearGradient>
<linearGradient id="g2_21" gradientUnits="userSpaceOnUse" x1="369.5" x2="489.0" y1="0" y2="0"><stop offset="0.000" stop-color="#0080ff"/><stop offset="0.053" stop-color="#0080ff"/><stop offset="0.105" stop-color="#0080ff"/><stop offset="0.158" stop-color="#0080ff"/><stop offset="0.211" stop-color="#026cfd"/><stop offset="0.263" stop-color="#0263fc"/><stop offset="0.316" stop-color="#0094ff"/><stop offset="0.368" stop-color="#00e4ff"/><stop offset="0.421" stop-color="#00d0ff"/><stop offset="0.474" stop-color="#00d0ff"/><stop offset="0.526" stop-color="#00b2ff"/><stop offset="0.579" stop-color="#00b2ff"/><stop offset="0.632" stop-color="#00b2ff"/><stop offset="0.684" stop-color="#00e4ff"/><stop offset="0.737" stop-color="#00f4c0"/><stop offset="0.789" stop-color="#00faab"/><stop offset="0.842" stop-color="#00faab"/><stop offset="0.895" stop-color="#00faab"/><stop offset="0.947" stop-color="#00faab"/><stop offset="1.000" stop-color="#00faab"/></linearGradient>
<linearGradient id="g2_22" gradientUnits="userSpaceOnUse" x1="369.5" x2="489.0" y1="0" y2="0"><stop offset="0.000" stop-color="#0080ff"/><stop offset="0.053" stop-color="#0080ff"/><stop offset="0.105" stop-color="#0080ff"/><stop offset="0.158" stop-color="#0080ff"/><stop offset="0.211" stop-color="#035dfb"/><stop offset="0.263" stop-color="#0172fd"/><stop offset="0.316" stop-color="#00a4ff"/><stop offset="0.368" stop-color="#00e4ff"/><stop offset="0.421" stop-color="#00c0ff"/><stop offset="0.474" stop-color="#00c0ff"/><stop offset="0.526" stop-color="#00b2ff"/><stop offset="0.579" stop-color="#00b2ff"/><stop offset="0.632" stop-color="#00b2ff"/><stop offset="0.684" stop-color="#00e4ff"/><stop offset="0.737" stop-color="#00ebe2"/><stop offset="0.789" stop-color="#00f5bc"/><stop offset="0.842" stop-color="#00f5bc"/><stop offset="0.895" stop-color="#00f5bc"/><stop offset="0.947" stop-color="#00f5bc"/><stop offset="1.000" stop-color="#00f5bc"/></linearGradient>
<linearGradient id="g2_23" gradientUnits="userSpaceOnUse" x1="369.5" x2="489.0" y1="0" y2="0"><stop offset="0.000" stop-color="#0080ff"/><stop offset="0.053" stop-color="#0080ff"/><stop offset="0.105" stop-color="#0080ff"/><stop offset="0.158" stop-color="#0080ff"/><stop offset="0.211" stop-color="#044ffa"/><stop offset="0.263" stop-color="#0080ff"/><stop offset="0.316" stop-color="#00b2ff"/><stop offset="0.368" stop-color="#00e2ff"/><stop offset="0.421" stop-color="#00b2ff"/><stop offset="0.474" stop-color="#00b2ff"/><stop offset="0.526" stop-color="#00b2ff"/><stop offset="0.579" stop-color="#00b2ff"/><stop offset="0.632" stop-color="#00b2ff"/><stop offset="0.684" stop-color="#00e4ff"/><stop offset="0.737" stop-color="#00e4ff"/><stop offset="0.789" stop-color="#00f1cd"/><stop offset="0.842" stop-color="#00f1cd"/><stop offset="0.895" stop-color="#00f1cd"/><stop offset="0.947" stop-color="#00f1cd"/><stop offset="1.000" stop-color="#00f1cd"/></linearGradient>
<linearGradient id="g2_24" gradientUnits="userSpaceOnUse" x1="369.5" x2="489.0" y1="0" y2="0"><stop offset="0.000" stop-color="#0080ff"/><stop offset="0.053" stop-color="#0080ff"/><stop offset="0.105" stop-color="#0080ff"/><stop offset="0.158" stop-color="#0080ff"/><stop offset="0.211" stop-color="#044ffa"/><stop offset="0.263" stop-color="#0080ff"/><stop offset="0.316" stop-color="#00b2ff"/><stop offset="0.368" stop-color="#00d1ff"/><stop offset="0.421" stop-color="#00b2ff"/><stop offset="0.474" stop-color="#00b2ff"/><stop offset="0.526" stop-color="#00b2ff"/><stop offset="0.579" stop-color="#00b2ff"/><stop offset="0.632" stop-color="#00b2ff"/><stop offset="0.684" stop-color="#00e4ff"/><stop offset="0.737" stop-color="#00e4ff"/><stop offset="0.789" stop-color="#00ecde"/><stop offset="0.842" stop-color="#00ecde"/><stop offset="0.895" stop-color="#00ecde"/><stop offset="0.947" stop-color="#00ecde"/><stop offset="1.000" stop-color="#00ecde"/></linearGradient>
<linearGradient id="g2_25" gradientUnits="userSpaceOnUse" x1="369.5" x2="489.0" y1="0" y2="0"><stop offset="0.000" stop-color="#0080ff"/><stop offset="0.053" stop-color="#0080ff"/><stop offset="0.105" stop-color="#0080ff"/><stop offset="0.158" stop-color="#0080ff"/><stop offset="0.211" stop-color="#044ffa"/><stop offset="0.263" stop-color="#0080ff"/><stop offset="0.316" stop-color="#00b2ff"/><stop offset="0.368" stop-color="#00c1ff"/><stop offset="0.421" stop-color="#00b2ff"/><stop offset="0.474" stop-color="#00b2ff"/><stop offset="0.526" stop-color="#00b2ff"/><stop offset="0.579" stop-color="#00b2ff"/><stop offset="0.632" stop-color="#00b2ff"/><stop offset="0.684" stop-color="#00e4ff"/><stop offset="0.737" stop-color="#00e4ff"/><stop offset="0.789" stop-color="#00e8ef"/><stop offset="0.842" stop-color="#00e8ef"/><stop offset="0.895" stop-color="#00e8ef"/><stop offset="0.947" stop-color="#00e8ef"/><stop offset="1.000" stop-color="#00e8ef"/></linearGradient>
<linearGradient id="g2_26" gradientUnits="userSpaceOnUse" x1="369.5" x2="489.0" y1="0" y2="0"><stop offset="0.000" stop-color="#007fff"/><stop offset="0.053" stop-color="#007fff"/><stop offset="0.105" stop-color="#007fff"/><stop offset="0.158" stop-color="#0080ff"/><stop offset="0.211" stop-color="#044ffa"/><stop offset="0.263" stop-color="#0081ff"/><stop offset="0.316" stop-color="#00b1ff"/><stop offset="0.368" stop-color="#00b1ff"/><stop offset="0.421" stop-color="#00b1ff"/><stop offset="0.474" stop-color="#00b2ff"/><stop offset="0.526" stop-color="#00b1ff"/><stop offset="0.579" stop-color="#00b1ff"/><stop offset="0.632" stop-color="#00b1ff"/><stop offset="0.684" stop-color="#00e4ff"/><stop offset="0.737" stop-color="#00e4ff"/><stop offset="0.789" stop-color="#00e4ff"/><stop offset="0.842" stop-color="#00e4fe"/><stop offset="0.895" stop-color="#00e4fe"/><stop offset="0.947" stop-color="#00e4fe"/><stop offset="1.000" stop-color="#00e4fe"/></linearGradient>
<linearGradient id="g2_27" gradientUnits="userSpaceOnUse" x1="369.5" x2="489.0" y1="0" y2="0"><stop offset="0.000" stop-color="#016ffd"/><stop offset="0.053" stop-color="#016ffd"/><stop offset="0.105" stop-color="#016ffd"/><stop offset="0.158" stop-color="#0080ff"/><stop offset="0.211" stop-color="#044ffa"/><stop offset="0.263" stop-color="#0091ff"/><stop offset="0.316" stop-color="#00a1ff"/><stop offset="0.368" stop-color="#00a1ff"/><stop offset="0.421" stop-color="#00a1ff"/><stop offset="0.474" stop-color="#00b2ff"/><stop offset="0.526" stop-color="#00a1ff"/><stop offset="0.579" stop-color="#00a1ff"/><stop offset="0.632" stop-color="#00a1ff"/><stop offset="0.684" stop-color="#00e4ff"/><stop offset="0.737" stop-color="#00e4ff"/><stop offset="0.789" stop-color="#00e4ff"/><stop offset="0.842" stop-color="#00e9ed"/><stop offset="0.895" stop-color="#00e9ed"/><stop offset="0.947" stop-color="#00e9ed"/><stop offset="1.000" stop-color="#00e9ed"/></linearGradient>
<linearGradient id="g2_28" gradientUnits="userSpaceOnUse" x1="369.5" x2="489.0" y1="0" y2="0"><stop offset="0.000" stop-color="#035ffb"/><stop offset="0.053" stop-color="#035ffb"/><stop offset="0.105" stop-color="#035ffb"/><stop offset="0.158" stop-color="#0080ff"/><stop offset="0.211" stop-color="#044ffa"/><stop offset="0.263" stop-color="#00a2ff"/><stop offset="0.316" stop-color="#0090ff"/><stop offset="0.368" stop-color="#0090ff"/><stop offset="0.421" stop-color="#0090ff"/><stop offset="0.474" stop-color="#00b2ff"/><stop offset="0.526" stop-color="#0090ff"/><stop offset="0.579" stop-color="#0090ff"/><stop offset="0.632" stop-color="#0090ff"/><stop offset="0.684" stop-color="#00e4ff"/><stop offset="0.737" stop-color="#00e4ff"/><stop offset="0.789" stop-color="#00e4ff"/><stop offset="0.842" stop-color="#00eddc"/><stop offset="0.895" stop-color="#00eddc"/><stop offset="0.947" stop-color="#00eddc"/><stop offset="1.000" stop-color="#00eddc"/></linearGradient>
<linearGradient id="g2_29" gradientUnits="userSpaceOnUse" x1="369.5" x2="489.0" y1="0" y2="0"><stop offset="0.000" stop-color="#044ffa"/><stop offset="0.053" stop-color="#044ffa"/><stop offset="0.105" stop-color="#044ffa"/><stop offset="0.158" stop-color="#0080ff"/><stop offset="0.211" stop-color="#044ffa"/><stop offset="0.263" stop-color="#00b2ff"/><stop offset="0.316" stop-color="#0080ff"/><stop offset="0.368" stop-color="#0080ff"/><stop offset="0.421" stop-color="#0080ff"/><stop offset="0.474" stop-color="#00b2ff"/><stop offset="0.526" stop-color="#0080ff"/><stop offset="0.579" stop-color="#0080ff"/><stop offset="0.632" stop-color="#0080ff"/><stop offset="0.684" stop-color="#00e4ff"/><stop offset="0.737" stop-color="#00e4ff"/><stop offset="0.789" stop-color="#00e4ff"/><stop offset="0.842" stop-color="#00f1cb"/><stop offset="0.895" stop-color="#00f1cb"/><stop offset="0.947" stop-color="#00f1cb"/><stop offset="1.000" stop-color="#00f1cb"/></linearGradient>
<linearGradient id="g2_30" gradientUnits="userSpaceOnUse" x1="369.5" x2="489.0" y1="0" y2="0"><stop offset="0.000" stop-color="#044ffa"/><stop offset="0.053" stop-color="#044ffa"/><stop offset="0.105" stop-color="#044ffa"/><stop offset="0.158" stop-color="#0080ff"/><stop offset="0.211" stop-color="#044ffa"/><stop offset="0.263" stop-color="#00b2ff"/><stop offset="0.316" stop-color="#0090ff"/><stop offset="0.368" stop-color="#0080ff"/><stop offset="0.421" stop-color="#0080ff"/><stop offset="0.474" stop-color="#00a2ff"/><stop offset="0.526" stop-color="#0080ff"/><stop offset="0.579" stop-color="#0080ff"/><stop offset="0.632" stop-color="#0080ff"/><stop offset="0.684" stop-color="#00d4ff"/><stop offset="0.737" stop-color="#00e4ff"/><stop offset="0.789" stop-color="#00e4ff"/><stop offset="0.842" stop-color="#00eddb"/><stop offset="0.895" stop-color="#00eddb"/><stop offset="0.947" stop-color="#00eddb"/><stop offset="1.000" stop-color="#00eddb"/></linearGradient>
<linearGradient id="g2_31" gradientUnits="userSpaceOnUse" x1="369.5" x2="489.0" y1="0" y2="0"><stop offset="0.000" stop-color="#044ffa"/><stop offset="0.053" stop-color="#044ffa"/><stop offset="0.105" stop-color="#044ffa"/><stop offset="0.158" stop-color="#0080ff"/><stop offset="0.211" stop-color="#044ffa"/><stop offset="0.263" stop-color="#00b2ff"/><stop offset="0.316" stop-color="#00a0ff"/><stop offset="0.368" stop-color="#0080ff"/><stop offset="0.421" stop-color="#0080ff"/><stop offset="0.474" stop-color="#0092ff"/><stop offset="0.526" stop-color="#0080ff"/><stop offset="0.579" stop-color="#0080ff"/><stop offset="0.632" stop-color="#0080ff"/><stop offset="0.684" stop-color="#00c4ff"/><stop offset="0.737" stop-color="#00e4ff"/><stop offset="0.789" stop-color="#00e4ff"/><stop offset="0.842" stop-color="#00e9ec"/><stop offset="0.895" stop-color="#00e9ec"/><stop offset="0.947" stop-color="#00e9ec"/><stop offset="1.000" stop-color="#00e9ec"/></linearGradient>
<linearGradient id="g2_32" gradientUnits="userSpaceOnUse" x1="369.5" x2="489.0" y1="0" y2="0"><stop offset="0.000" stop-color="#044ffa"/><stop offset="0.053" stop-color="#044ffa"/><stop offset="0.105" stop-color="#044ffa"/><stop offset="0.158" stop-color="#0080ff"/><stop offset="0.211" stop-color="#044ffa"/><stop offset="0.263" stop-color="#00b2ff"/><stop offset="0.316" stop-color="#00b0ff"/><stop offset="0.368" stop-color="#0080ff"/><stop offset="0.421" stop-color="#0080ff"/><stop offset="0.474" stop-color="#0082ff"/><stop offset="0.526" stop-color="#0080ff"/><stop offset="0.579" stop-color="#0080ff"/><stop offset="0.632" stop-color="#0080ff"/><stop offset="0.684" stop-color="#00b4ff"/><stop offset="0.737" stop-color="#00e4ff"/><stop offset="0.789" stop-color="#00e4ff"/><stop offset="0.842" stop-color="#00e4fd"/><stop offset="0.895" stop-color="#00e4fd"/><stop offset="0.947" stop-color="#00e4fd"/><stop offset="1.000" stop-color="#00e4fd"/></linearGradient>
<linearGradient id="g2_33" gradientUnits="userSpaceOnUse" x1="369.5" x2="489.0" y1="0" y2="0"><stop offset="0.000" stop-color="#0541f8"/><stop offset="0.053" stop-color="#0541f8"/><stop offset="0.105" stop-color="#0541f8"/><stop offset="0.158" stop-color="#0172fd"/><stop offset="0.211" stop-color="#044ffa"/><stop offset="0.263" stop-color="#00a3ff"/><stop offset="0.316" stop-color="#00a3ff"/><stop offset="0.368" stop-color="#0172fd"/><stop offset="0.421" stop-color="#0080ff"/><stop offset="0.474" stop-color="#0080ff"/><stop offset="0.526" stop-color="#0172fd"/><stop offset="0.579" stop-color="#0172fd"/><stop offset="0.632" stop-color="#0080ff"/><stop offset="0.684" stop-color="#00a3ff"/><stop offset="0.737" stop-color="#00e4ff"/><stop offset="0.789" stop-color="#00e4ff"/><stop offset="0.842" stop-color="#00e4ff"/><stop offset="0.895" stop-color="#00e4ff"/><stop offset="0.947" stop-color="#00e4ff"/><stop offset="1.000" stop-color="#00e4ff"/></linearGradient>
<linearGradient id="g2_34" gradientUnits="userSpaceOnUse" x1="369.5" x2="489.0" y1="0" y2="0"><stop offset="0.000" stop-color="#0631f6"/><stop offset="0.053" stop-color="#0631f6"/><stop offset="0.105" stop-color="#0631f6"/><stop offset="0.158" stop-color="#0262fc"/><stop offset="0.211" stop-color="#044ffa"/><stop offset="0.263" stop-color="#0093ff"/><stop offset="0.316" stop-color="#0093ff"/><stop offset="0.368" stop-color="#0262fc"/><stop offset="0.421" stop-color="#0080ff"/><stop offset="0.474" stop-color="#0080ff"/><stop offset="0.526" stop-color="#0262fc"/><stop offset="0.579" stop-color="#0262fc"/><stop offset="0.632" stop-color="#0080ff"/><stop offset="0.684" stop-color="#0093ff"/><stop offset="0.737" stop-color="#00e4ff"/><stop offset="0.789" stop-color="#00e4ff"/><stop offset="0.842" stop-color="#00e4ff"/><stop offset="0.895" stop-color="#00e4ff"/><stop offset="0.947" stop-color="#00e4ff"/><stop offset="1.000" stop-color="#00e4ff"/></linearGradient>
<linearGradient id="g2_35" gradientUnits="userSpaceOnUse" x1="369.5" x2="489.0" y1="0" y2="0"><stop offset="0.000" stop-color="#0821f4"/><stop offset="0.053" stop-color="#0821f4"/><stop offset="0.105" stop-color="#0821f4"/><stop offset="0.158" stop-color="#0452fa"/><stop offset="0.211" stop-color="#044ffa"/><stop offset="0.263" stop-color="#0083ff"/><stop offset="0.316" stop-color="#0083ff"/><stop offset="0.368" stop-color="#0452fa"/><stop offset="0.421" stop-color="#0080ff"/><stop offset="0.474" stop-color="#0080ff"/><stop offset="0.526" stop-color="#0452fa"/><stop offset="0.579" stop-color="#0452fa"/><stop offset="0.632" stop-color="#0080ff"/><stop offset="0.684" stop-color="#0083ff"/><stop offset="0.737" stop-color="#00e4ff"/><stop offset="0.789" stop-color="#00e4ff"/><stop offset="0.842" stop-color="#00e4ff"/><stop offset="0.895" stop-color="#00e4ff"/><stop offset="0.947" stop-color="#00e4ff"/><stop offset="1.000" stop-color="#00e4ff"/></linearGradient>
<linearGradient id="g2_36" gradientUnits="userSpaceOnUse" x1="369.5" x2="489.0" y1="0" y2="0"><stop offset="0.000" stop-color="#081ef4"/><stop offset="0.053" stop-color="#081ef4"/><stop offset="0.105" stop-color="#081ef4"/><stop offset="0.158" stop-color="#0542f8"/><stop offset="0.211" stop-color="#0542f8"/><stop offset="0.263" stop-color="#0173fe"/><stop offset="0.316" stop-color="#0080ff"/><stop offset="0.368" stop-color="#044ffa"/><stop offset="0.421" stop-color="#0173fe"/><stop offset="0.474" stop-color="#0173fe"/><stop offset="0.526" stop-color="#0542f8"/><stop offset="0.579" stop-color="#044ffa"/><stop offset="0.632" stop-color="#0173fe"/><stop offset="0.684" stop-color="#0080ff"/><stop offset="0.737" stop-color="#00d7ff"/><stop offset="0.789" stop-color="#00e4ff"/><stop offset="0.842" stop-color="#00e4ff"/><stop offset="0.895" stop-color="#00e4ff"/><stop offset="0.947" stop-color="#00e4ff"/><stop offset="1.000" stop-color="#00e4ff"/></linearGradient>
<linearGradient id="g2_37" gradientUnits="userSpaceOnUse" x1="369.5" x2="489.0" y1="0" y2="0"><stop offset="0.000" stop-color="#081ef4"/><stop offset="0.053" stop-color="#081ef4"/><stop offset="0.105" stop-color="#081ef4"/><stop offset="0.158" stop-color="#0632f6"/><stop offset="0.211" stop-color="#0632f6"/><stop offset="0.263" stop-color="#0263fc"/><stop offset="0.316" stop-color="#0080ff"/><stop offset="0.368" stop-color="#044ffa"/><stop offset="0.421" stop-color="#0263fc"/><stop offset="0.474" stop-color="#0263fc"/><stop offset="0.526" stop-color="#0632f6"/><stop offset="0.579" stop-color="#044ffa"/><stop offset="0.632" stop-color="#0263fc"/><stop offset="0.684" stop-color="#0080ff"/><stop offset="0.737" stop-color="#00c6ff"/><stop offset="0.789" stop-color="#00e4ff"/><stop offset="0.842" stop-color="#00e4ff"/><stop offset="0.895" stop-color="#00e4ff"/><stop offset="0.947" stop-color="#00e4ff"/><stop offset="1.000" stop-color="#00e4ff"/></linearGradient>
<linearGradient id="g2_38" gradientUnits="userSpaceOnUse" x1="369.5" x2="489.0" y1="0" y2="0"><stop offset="0.000" stop-color="#081ef4"/><stop offset="0.053" stop-color="#081ef4"/><stop offset="0.105" stop-color="#081ef4"/><stop offset="0.158" stop-color="#0822f4"/><stop offset="0.211" stop-color="#0822f4"/><stop offset="0.263" stop-color="#0453fa"/><stop offset="0.316" stop-color="#0080ff"/><stop offset="0.368" stop-color="#044ffa"/><stop offset="0.421" stop-color="#0453fa"/><stop offset="0.474" stop-color="#0453fa"/><stop offset="0.526" stop-color="#0822f4"/><stop offset="0.579" stop-color="#044ffa"/><stop offset="0.632" stop-color="#0453fa"/><stop offset="0.684" stop-color="#0080ff"/><stop offset="0.737" stop-color="#00b6ff"/><stop offset="0.789" stop-color="#00e4ff"/><stop offset="0.842" stop-color="#00e4ff"/><stop offset="0.895" stop-color="#00e4ff"/><stop offset="0.947" stop-color="#00e4ff"/><stop offset="1.000" stop-color="#00e4ff"/></linearGradient>
<linearGradient id="g2_39" gradientUnits="userSpaceOnUse" x1="369.5" x2="489.0" y1="0" y2="0"><stop offset="0.000" stop-color="#081ef4"/><stop offset="0.053" stop-color="#081ef4"/><stop offset="0.105" stop-color="#081ef4"/><stop offset="0.158" stop-color="#081ef4"/><stop offset="0.211" stop-color="#081ef4"/><stop offset="0.263" stop-color="#0543f8"/><stop offset="0.316" stop-color="#0174fe"/><stop offset="0.368" stop-color="#0543f8"/><stop offset="0.421" stop-color="#0543f8"/><stop offset="0.474" stop-color="#0543f8"/><stop offset="0.526" stop-color="#081ef4"/><stop offset="0.579" stop-color="#0543f8"/><stop offset="0.632" stop-color="#044ffa"/><stop offset="0.684" stop-color="#0080ff"/><stop offset="0.737" stop-color="#00a6ff"/><stop offset="0.789" stop-color="#00d8ff"/><stop offset="0.842" stop-color="#00e4ff"/><stop offset="0.895" stop-color="#00e4ff"/><stop offset="0.947" stop-color="#00e4ff"/><stop offset="1.000" stop-color="#00e4ff"/></linearGradient>
<linearGradient id="g2_40" gradientUnits="userSpaceOnUse" x1="369.5" x2="489.0" y1="0" y2="0"><stop offset="0.000" stop-color="#081ef4"/><stop offset="0.053" stop-color="#081ef4"/><stop offset="0.105" stop-color="#081ef4"/><stop offset="0.158" stop-color="#081ef4"/><stop offset="0.211" stop-color="#081ef4"/><stop offset="0.263" stop-color="#0633f6"/><stop offset="0.316" stop-color="#0264fc"/><stop offset="0.368" stop-color="#0633f6"/><stop offset="0.421" stop-color="#0633f6"/><stop offset="0.474" stop-color="#0633f6"/><stop offset="0.526" stop-color="#081ef4"/><stop offset="0.579" stop-color="#0633f6"/><stop offset="0.632" stop-color="#044ffa"/><stop offset="0.684" stop-color="#0080ff"/><stop offset="0.737" stop-color="#0096ff"/><stop offset="0.789" stop-color="#00c8ff"/><stop offset="0.842" stop-color="#00e4ff"/><stop offset="0.895" stop-color="#00e4ff"/><stop offset="0.947" stop-color="#00e4ff"/><stop offset="1.000" stop-color="#00e4ff"/></linearGradient>
<linearGradient id="g2_41" gradientUnits="userSpaceOnUse" x1="369.5" x2="489.0" y1="0" y2="0"><stop offset="0.000" stop-color="#081ef4"/><stop offset="0.053" stop-color="#081ef4"/><stop offset="0.105" stop-color="#081ef4"/><stop offset="0.158" stop-color="#081ef4"/><stop offset="0.211" stop-color="#081ef4"/><stop offset="0.263" stop-color="#0823f5"/><stop offset="0.316" stop-color="#0454fa"/><stop offset="0.368" stop-color="#0823f5"/><stop offset="0.421" stop-color="#0823f5"/><stop offset="0.474" stop-color="#0823f5"/><stop offset="0.526" stop-color="#081ef4"/><stop offset="0.579" stop-color="#0823f5"/><stop offset="0.632" stop-color="#044ffa"/><stop offset="0.684" stop-color="#0080ff"/><stop offset="0.737" stop-color="#0085ff"/><stop offset="0.789" stop-color="#00b7ff"/><stop offset="0.842" stop-color="#00e4ff"/><stop offset="0.895" stop-color="#00e4ff"/><stop offset="0.947" stop-color="#00e4ff"/><stop offset="1.000" stop-color="#00e4ff"/></linearGradient>
<linearGradient id="g2_42" gradientUnits="userSpaceOnUse" x1="369.5" x2="489.0" y1="0" y2="0"><stop offset="0.000" stop-color="#071bee"/><stop offset="0.053" stop-color="#071bee"/><stop offset="0.105" stop-color="#071bee"/><stop offset="0.158" stop-color="#081ef4"/><stop offset="0.211" stop-color="#081ef4"/><stop offset="0.263" stop-color="#081ef4"/><stop offset="0.316" stop-color="#0544f8"/><stop offset="0.368" stop-color="#081ef4"/><stop offset="0.421" stop-color="#081ef4"/><stop offset="0.474" stop-color="#081ef4"/><stop offset="0.526" stop-color="#081ef4"/><stop offset="0.579" stop-color="#081ef4"/><stop offset="0.632" stop-color="#0544f8"/><stop offset="0.684" stop-color="#0175fe"/><stop offset="0.737" stop-color="#0080ff"/><stop offset="0.789" stop-color="#00b2ff"/><stop offset="0.842" stop-color="#00d9ff"/><stop offset="0.895" stop-color="#00e4ff"/><stop offset="0.947" stop-color="#00e4ff"/><stop offset="1.000" stop-color="#00e4ff"/></linearGradient>
<linearGradient id="g2_43" gradientUnits="userSpaceOnUse" x1="369.5" x2="489.0" y1="0" y2="0"><stop offset="0.000" stop-color="#0616e5"/><stop offset="0.053" stop-color="#0616e5"/><stop offset="0.105" stop-color="#0616e5"/><stop offset="0.158" stop-color="#081ef4"/><stop offset="0.211" stop-color="#081ef4"/><stop offset="0.263" stop-color="#081ef4"/><stop offset="0.316" stop-color="#0635f7"/><stop offset="0.368" stop-color="#081ef4"/><stop offset="0.421" stop-color="#081ef4"/><stop offset="0.474" stop-color="#081ef4"/><stop offset="0.526" stop-color="#081ef4"/><stop offset="0.579" stop-color="#081ef4"/><stop offset="0.632" stop-color="#0635f7"/><stop offset="0.684" stop-color="#0266fc"/><stop offset="0.737" stop-color="#0080ff"/><stop offset="0.789" stop-color="#00b2ff"/><stop offset="0.842" stop-color="#00c9ff"/><stop offset="0.895" stop-color="#00e4ff"/><stop offset="0.947" stop-color="#00e4ff"/><stop offset="1.000" stop-color="#00e4ff"/></linearGradient>
<linearGradient id="g2_44" gradientUnits="userSpaceOnUse" x1="369.5" x2="489.0" y1="0" y2="0"><stop offset="0.000" stop-color="#0511dd"/><stop offset="0.053" stop-color="#0511dd"/><stop offset="0.105" stop-color="#0511dd"/><stop offset="0.158" stop-color="#081ef4"/><stop offset="0.211" stop-color="#081ef4"/><stop offset="0.263" stop-color="#081ef4"/><stop offset="0.316" stop-color="#0725f5"/><stop offset="0.368" stop-color="#081ef4"/><stop offset="0.421" stop-color="#081ef4"/><stop offset="0.474" stop-color="#081ef4"/><stop offset="0.526" stop-color="#081ef4"/><stop offset="0.579" stop-color="#081ef4"/><stop offset="0.632" stop-color="#0725f5"/><stop offset="0.684" stop-color="#0356fa"/><stop offset="0.737" stop-color="#0080ff"/><stop offset="0.789" stop-color="#00b2ff"/><stop offset="0.842" stop-color="#00b9ff"/><stop offset="0.895" stop-color="#00e4ff"/><stop offset="0.947" stop-color="#00e4ff"/><stop offset="1.000" stop-color="#00e4ff"/></linearGradient>
<linearGradient id="g2_45" gradientUnits="userSpaceOnUse" x1="369.5" x2="489.0" y1="0" y2="0"><stop offset="0.000" stop-color="#040fd9"/><stop offset="0.053" stop-color="#040fd9"/><stop offset="0.105" stop-color="#040fd9"/><stop offset="0.158" stop-color="#081ef4"/><stop offset="0.211" stop-color="#081ef4"/><stop offset="0.263" stop-color="#081ef4"/><stop offset="0.316" stop-color="#081ef4"/><stop offset="0.368" stop-color="#081ef4"/><stop offset="0.421" stop-color="#081ef4"/><stop offset="0.474" stop-color="#081ef4"/><stop offset="0.526" stop-color="#081ef4"/><stop offset="0.579" stop-color="#081ef4"/><stop offset="0.632" stop-color="#081ef4"/><stop offset="0.684" stop-color="#0546f8"/><stop offset="0.737" stop-color="#0080ff"/><stop offset="0.789" stop-color="#00a9ff"/><stop offset="0.842" stop-color="#00b2ff"/><stop offset="0.895" stop-color="#00dbff"/><stop offset="0.947" stop-color="#00dbff"/><stop offset="1.000" stop-color="#00dbff"/></linearGradient>
<linearGradient id="g2_46" gradientUnits="userSpaceOnUse" x1="369.5" x2="489.0" y1="0" y2="0"><stop offset="0.000" stop-color="#040fd9"/><stop offset="0.053" stop-color="#040fd9"/><stop offset="0.105" stop-color="#040fd9"/><stop offset="0.158" stop-color="#081ef4"/><stop offset="0.211" stop-color="#081ef4"/><stop offset="0.263" stop-color="#081ef4"/><stop offset="0.316" stop-color="#081ef4"/><stop offset="0.368" stop-color="#081ef4"/><stop offset="0.421" stop-color="#081ef4"/><stop offset="0.474" stop-color="#081ef4"/><stop offset="0.526" stop-color="#081ef4"/><stop offset="0.579" stop-color="#081ef4"/><stop offset="0.632" stop-color="#081ef4"/><stop offset="0.684" stop-color="#0636f7"/><stop offset="0.737" stop-color="#0080ff"/><stop offset="0.789" stop-color="#0098ff"/><stop offset="0.842" stop-color="#00b2ff"/><stop offset="0.895" stop-color="#00caff"/><stop offset="0.947" stop-color="#00caff"/><stop offset="1.000" stop-color="#00caff"/></linearGradient>
<linearGradient id="g2_47" gradientUnits="userSpaceOnUse" x1="369.5" x2="489.0" y1="0" y2="0"><stop offset="0.000" stop-color="#040fd9"/><stop offset="0.053" stop-color="#040fd9"/><stop offset="0.105" stop-color="#040fd9"/><stop offset="0.158" stop-color="#081ef4"/><stop offset="0.211" stop-color="#081ef4"/><stop offset="0.263" stop-color="#081ef4"/><stop offset="0.316" stop-color="#081ef4"/><stop offset="0.368" stop-color="#081ef4"/><stop offset="0.421" stop-color="#081ef4"/><stop offset="0.474" stop-color="#081ef4"/><stop offset="0.526" stop-color="#081ef4"/><stop offset="0.579" stop-color="#081ef4"/><stop offset="0.632" stop-color="#081ef4"/><stop offset="0.684" stop-color="#0726f5"/><stop offset="0.737" stop-color="#0080ff"/><stop offset="0.789" stop-color="#0088ff"/><stop offset="0.842" stop-color="#00b2ff"/><stop offset="0.895" stop-color="#00baff"/><stop offset="0.947" stop-color="#00baff"/><stop offset="1.000" stop-color="#00baff"/></linearGradient>
<linearGradient id="g2_48" gradientUnits="userSpaceOnUse" x1="369.5" x2="489.0" y1="0" y2="0"><stop offset="0.000" stop-color="#040fd9"/><stop offset="0.053" stop-color="#040fd9"/><stop offset="0.105" stop-color="#040fd9"/><stop offset="0.158" stop-color="#081ef4"/><stop offset="0.211" stop-color="#081ef4"/><stop offset="0.263" stop-color="#081ef4"/><stop offset="0.316" stop-color="#081ef4"/><stop offset="0.368" stop-color="#081ef4"/><stop offset="0.421" stop-color="#081ef4"/><stop offset="0.474" stop-color="#081ef4"/><stop offset="0.526" stop-color="#081ef4"/><stop offset="0.579" stop-color="#081ef4"/><stop offset="0.632" stop-color="#081ef4"/><stop offset="0.684" stop-color="#081ef4"/><stop offset="0.737" stop-color="#0080ff"/><stop offset="0.789" stop-color="#0080ff"/><stop offset="0.842" stop-color="#00b2ff"/><stop offset="0.895" stop-color="#00b2ff"/><stop offset="0.947" stop-color="#00b2ff"/><stop offset="1.000" stop-color="#00b2ff"/></linearGradient>
<linearGradient id="g3_0" gradientUnits="userSpaceOnUse" x1="42.2" x2="124.2" y1="0" y2="0"><stop offset="0.000" stop-color="#00e4ff"/><stop offset="0.077" stop-color="#00e4ff"/><stop offset="0.154" stop-color="#00e4ff"/><stop offset="0.231" stop-color="#00e4ff"/><stop offset="0.308" stop-color="#00e4ff"/><stop offset="0.385" stop-color="#00e4ff"/><stop offset="0.462" stop-color="#00e4ff"/><stop offset="0.538" stop-color="#00ff96"/><stop offset="0.615" stop-color="#00ff55"/><stop offset="0.692" stop-color="#00ff14"/><stop offset="0.769" stop-color="#a0ff00"/><stop offset="0.846" stop-color="#00ff14"/><stop offset="0.923" stop-color="#00ff14"/><stop offset="1.000" stop-color="#00ff14"/></linearGradient>
<linearGradient id="g3_1" gradientUnits="userSpaceOnUse" x1="42.2" x2="124.2" y1="0" y2="0"><stop offset="0.000" stop-color="#00e4ff"/><stop offset="0.077" stop-color="#00e4ff"/><stop offset="0.154" stop-color="#00e4ff"/><stop offset="0.231" stop-color="#00e4ff"/><stop offset="0.308" stop-color="#00e4ff"/><stop offset="0.385" stop-color="#00e4ff"/><stop offset="0.462" stop-color="#00e5fc"/><stop offset="0.538" stop-color="#00ff96"/><stop offset="0.615" stop-color="#00ff52"/><stop offset="0.692" stop-color="#00ff14"/><stop offset="0.769" stop-color="#9cff01"/><stop offset="0.846" stop-color="#00ff14"/><stop offset="0.923" stop-color="#00ff14"/><stop offset="1.000" stop-color="#00ff14"/></linearGradient>
<linearGradient id="g3_2" gradientUnits="userSpaceOnUse" x1="42.2" x2="124.2" y1="0" y2="0"><stop offset="0.000" stop-color="#00e4ff"/><stop offset="0.077" stop-color="#00e4ff"/><stop offset="0.154" stop-color="#00e4ff"/><stop offset="0.231" stop-color="#00e4ff"/><stop offset="0.308" stop-color="#00e4ff"/><stop offset="0.385" stop-color="#00e4ff"/><stop offset="0.462" stop-color="#00e9eb"/><stop offset="0.538" stop-color="#00ff96"/><stop offset="0.615" stop-color="#00ff3d"/><stop offset="0.692" stop-color="#00ff14"/><stop offset="0.769" stop-color="#82ff04"/><stop offset="0.846" stop-color="#00ff14"/><stop offset="0.923" stop-color="#00ff14"/><stop offset="1.000" stop-color="#00ff14"/></linearGradient>
<linearGradient id="g3_3" gradientUnits="userSpaceOnUse" x1="42.2" x2="124.2" y1="0" y2="0"><stop offset="0.000" stop-color="#00e4ff"/><stop offset="0.077" stop-color="#00e4ff"/><stop offset="0.154" stop-color="#00e4ff"/><stop offset="0.231" stop-color="#00e4ff"/><stop offset="0.308" stop-color="#00e4ff"/><stop offset="0.385" stop-color="#00e4ff"/><stop offset="0.462" stop-color="#00edda"/><stop offset="0.538" stop-color="#00ff96"/><stop offset="0.615" stop-color="#00ff28"/><stop offset="0.692" stop-color="#00ff14"/><stop offset="0.769" stop-color="#68ff07"/><stop offset="0.846" stop-color="#00ff14"/><stop offset="0.923" stop-color="#00ff14"/><stop offset="1.000" stop-color="#00ff14"/></linearGradient>
<linearGradient id="g3_4" gradientUnits="userSpaceOnUse" x1="42.2" x2="124.2" y1="0" y2="0"><stop offset="0.000" stop-color="#00e4ff"/><stop offset="0.077" stop-color="#00e4ff"/><stop offset="0.154" stop-color="#00e4ff"/><stop offset="0.231" stop-color="#00e4ff"/><stop offset="0.308" stop-color="#00e4ff"/><stop offset="0.385" stop-color="#00e4ff"/><stop offset="0.462" stop-color="#00f2ca"/><stop offset="0.538" stop-color="#00ff96"/><stop offset="0.615" stop-color="#00ff16"/><stop offset="0.692" stop-color="#00ff14"/><stop offset="0.769" stop-color="#4eff0a"/><stop offset="0.846" stop-color="#00ff14"/><stop offset="0.923" stop-color="#00ff14"/><stop offset="1.000" stop-color="#00ff14"/></linearGradient>
<linearGradient id="g3_5" gradientUnits="userSpaceOnUse" x1="42.2" x2="124.2" y1="0" y2="0"><stop offset="0.000" stop-color="#00e4ff"/><stop offset="0.077" stop-color="#00e4ff"/><stop offset="0.154" stop-color="#00e4ff"/><stop offset="0.231" stop-color="#00e4ff"/><stop offset="0.308" stop-color="#00e4ff"/><stop offset="0.385" stop-color="#00e4ff"/><stop offset="0.462" stop-color="#00f2ca"/><stop offset="0.538" stop-color="#00ff96"/><stop offset="0.615" stop-color="#00ff2b"/><stop offset="0.692" stop-color="#00ff14"/><stop offset="0.769" stop-color="#34ff0d"/><stop offset="0.846" stop-color="#00ff14"/><stop offset="0.923" stop-color="#00ff14"/><stop offset="1.000" stop-color="#00ff14"/></linearGradient>
<linearGradient id="g3_6" gradientUnits="userSpaceOnUse" x1="42.2" x2="124.2" y1="0" y2="0"><stop offset="0.000" stop-color="#00e4ff"/><stop offset="0.077" stop-color="#00e4ff"/><stop offset="0.154" stop-color="#00e4ff"/><stop offset="0.231" stop-color="#00e4ff"/><stop offset="0.308" stop-color="#00e4ff"/><stop offset="0.385" stop-color="#00e4ff"/><stop offset="0.462" stop-color="#00f2ca"/><stop offset="0.538" stop-color="#00ff96"/><stop offset="0.615" stop-color="#00ff40"/><stop offset="0.692" stop-color="#00ff14"/><stop offset="0.769" stop-color="#1aff11"/><stop offset="0.846" stop-color="#00ff14"/><stop offset="0.923" stop-color="#00ff14"/><stop offset="1.000" stop-color="#00ff14"/></linearGradient>
<linearGradient id="g3_7" gradientUnits="userSpaceOnUse" x1="42.2" x2="124.2" y1="0" y2="0"><stop offset="0.000" stop-color="#00e4ff"/><stop offset="0.077" stop-color="#00e4ff"/><stop offset="0.154" stop-color="#00e4ff"/><stop offset="0.231" stop-color="#00e4ff"/><stop offset="0.308" stop-color="#00e4ff"/><stop offset="0.385" stop-color="#00e4ff"/><stop offset="0.462" stop-color="#00f2ca"/><stop offset="0.538" stop-color="#00ff96"/><stop offset="0.615" stop-color="#00ff55"/><stop offset="0.692" stop-color="#00ff14"/><stop offset="0.769" stop-color="#00ff14"/><stop offset="0.846" stop-color="#00ff14"/><stop offset="0.923" stop-color="#00ff14"/><stop offset="1.000" stop-color="#00ff14"/></linearGradient>
<linearGradient id="g3_8" gradientUnits="userSpaceOnUse" x1="42.2" x2="124.2" y1="0" y2="0"><stop offset="0.000" stop-color="#00d4ff"/><stop offset="0.077" stop-color="#00d4ff"/><stop offset="0.154" stop-color="#00d4ff"/><stop offset="0.231" stop-color="#00d4ff"/><stop offset="0.308" stop-color="#00e4ff"/><stop offset="0.385" stop-color="#00e4ff"/><stop offset="0.462" stop-color="#00f6ba"/><stop offset="0.538" stop-color="#00ff96"/><stop offset="0.615" stop-color="#00ff55"/><stop offset="0.692" stop-color="#00ff14"/><stop offset="0.769" stop-color="#00ff14"/><stop offset="0.846" stop-color="#00ff14"/><stop offset="0.923" stop-color="#00ff14"/><stop offset="1.000" stop-color="#00ff14"/></linearGradient>
<linearGradient id="g3_9" gradientUnits="userSpaceOnUse" x1="42.2" x2="124.2" y1="0" y2="0"><stop offset="0.000" stop-color="#00c4ff"/><stop offset="0.077" stop-color="#00c4ff"/><stop offset="0.154" stop-color="#00c4ff"/><stop offset="0.231" stop-color="#00c4ff"/><stop offset="0.308" stop-color="#00e4ff"/><stop offset="0.385" stop-color="#00e4ff"/><stop offset="0.462" stop-color="#00faa8"/><stop offset="0.538" stop-color="#00ff96"/><stop offset="0.615" stop-color="#00ff55"/><stop offset="0.692" stop-color="#00ff14"/><stop offset="0.769" stop-color="#00ff14"/><stop offset="0.846" stop-color="#00ff14"/><stop offset="0.923" stop-color="#00ff14"/><stop offset="1.000" stop-color="#00ff14"/></linearGradient>
<linearGradient id="g3_10" gradientUnits="userSpaceOnUse" x1="42.2" x2="124.2" y1="0" y2="0"><stop offset="0.000" stop-color="#00b3ff"/><stop offset="0.077" stop-color="#00b3ff"/><stop offset="0.154" stop-color="#00b3ff"/><stop offset="0.231" stop-color="#00b3ff"/><stop offset="0.308" stop-color="#00e4ff"/><stop offset="0.385" stop-color="#00e4ff"/><stop offset="0.462" stop-color="#00ff97"/><stop offset="0.538" stop-color="#00ff96"/><stop offset="0.615" stop-color="#00ff55"/><stop offset="0.692" stop-color="#00ff14"/><stop offset="0.769" stop-color="#00ff14"/><stop offset="0.846" stop-color="#00ff14"/><stop offset="0.923" stop-color="#00ff14"/><stop offset="1.000" stop-color="#00ff14"/></linearGradient>
<linearGradient id="g3_11" gradientUnits="userSpaceOnUse" x1="42.2" x2="124.2" y1="0" y2="0"><stop offset="0.000" stop-color="#00b2ff"/><stop offset="0.077" stop-color="#00b2ff"/><stop offset="0.154" stop-color="#00b2ff"/><stop offset="0.231" stop-color="#00b2ff"/><stop offset="0.308" stop-color="#00e4ff"/><stop offset="0.385" stop-color="#00e8ef"/><stop offset="0.462" stop-color="#00ff96"/><stop offset="0.538" stop-color="#00ff96"/><stop offset="0.615" stop-color="#00ff55"/><stop offset="0.692" stop-color="#00ff14"/><stop offset="0.769" stop-color="#00ff14"/><stop offset="0.846" stop-color="#00ff14"/><stop offset="0.923" stop-color="#00ff14"/><stop offset="1.000" stop-color="#00ff14"/></linearGradient>
<linearGradient id="g3_12" gradientUnits="userSpaceOnUse" x1="42.2" x2="124.2" y1="0" y2="0"><stop offset="0.000" stop-color="#00b2ff"/><stop offset="0.077" stop-color="#00b2ff"/><stop offset="0.154" stop-color="#00b2ff"/><stop offset="0.231" stop-color="#00b2ff"/><stop offset="0.308" stop-color="#00e4ff"/><stop offset="0.385" stop-color="#00ecde"/><stop offset="0.462" stop-color="#00ff96"/><stop offset="0.538" stop-color="#00ff96"/><stop offset="0.615" stop-color="#00ff55"/><stop offset="0.692" stop-color="#00ff14"/><stop offset="0.769" stop-color="#00ff14"/><stop offset="0.846" stop-color="#00ff14"/><stop offset="0.923" stop-color="#00ff14"/><stop offset="1.000" stop-color="#00ff14"/></linearGradient>
<linearGradient id="g3_13" gradientUnits="userSpaceOnUse" x1="42.2" x2="124.2" y1="0" y2="0"><stop offset="0.000" stop-color="#00b2ff"/><stop offset="0.077" stop-color="#00b2ff"/><stop offset="0.154" stop-color="#00b2ff"/><stop offset="0.231" stop-color="#00b2ff"/><stop offset="0.308" stop-color="#00e4ff"/><stop offset="0.385" stop-color="#00f1cd"/><stop offset="0.462" stop-color="#00ff96"/><stop offset="0.538" stop-color="#00ff96"/><stop offset="0.615" stop-color="#00ff55"/><stop offset="0.692" stop-color="#00ff14"/><stop offset="0.769" stop-color="#00ff14"/><stop offset="0.846" stop-color="#00ff14"/><stop offset="0.923" stop-color="#00ff14"/><stop offset="1.000" stop-color="#00ff14"/></linearGradient>
<linearGradient id="g3_14" gradientUnits="userSpaceOnUse" x1="42.2" x2="124.2" y1="0" y2="0"><stop offset="0.000" stop-color="#0097ff"/><stop offset="0.077" stop-color="#0097ff"/><stop offset="0.154" stop-color="#00a4ff"/><stop offset="0.231" stop-color="#00b2ff"/><stop offset="0.308" stop-color="#00e4ff"/><stop offset="0.385" stop-color="#00f2ca"/><stop offset="0.462" stop-color="#00ff96"/><stop offset="0.538" stop-color="#00ff84"/><stop offset="0.615" stop-color="#00ff55"/><stop offset="0.692" stop-color="#00ff14"/><stop offset="0.769" stop-color="#00ff14"/><stop offset="0.846" stop-color="#00ff26"/><stop offset="0.923" stop-color="#00ff26"/><stop offset="1.000" stop-color="#00ff26"/></linearGradient>
<linearGradient id="g3_15" gradientUnits="userSpaceOnUse" x1="42.2" x2="124.2" y1="0" y2="0"><stop offset="0.000" stop-color="#0177fe"/><stop offset="0.077" stop-color="#0177fe"/><stop offset="0.154" stop-color="#0094ff"/><stop offset="0.231" stop-color="#00b2ff"/><stop offset="0.308" stop-color="#00e4ff"/><stop offset="0.385" stop-color="#00f2ca"/><stop offset="0.462" stop-color="#00ff96"/><stop offset="0.538" stop-color="#00ff6f"/><stop offset="0.615" stop-color="#00ff55"/><stop offset="0.692" stop-color="#00ff14"/><stop offset="0.769" stop-color="#00ff14"/><stop offset="0.846" stop-color="#00ff3b"/><stop offset="0.923" stop-color="#00ff3b"/><stop offset="1.000" stop-color="#00ff3b"/></linearGradient>
<linearGradient id="g3_16" gradientUnits="userSpaceOnUse" x1="42.2" x2="124.2" y1="0" y2="0"><stop offset="0.000" stop-color="#0357fa"/><stop offset="0.077" stop-color="#0357fa"/><stop offset="0.154" stop-color="#0084ff"/><stop offset="0.231" stop-color="#00b2ff"/><stop offset="0.308" stop-color="#00e4ff"/><stop offset="0.385" stop-color="#00f2ca"/><stop offset="0.462" stop-color="#00ff96"/><stop offset="0.538" stop-color="#00ff5a"/><stop offset="0.615" stop-color="#00ff55"/><stop offset="0.692" stop-color="#00ff14"/><stop offset="0.769" stop-color="#00ff14"/><stop offset="0.846" stop-color="#00ff50"/><stop offset="0.923" stop-color="#00ff50"/><stop offset="1.000" stop-color="#00ff50"/></linearGradient>
<linearGradient id="g3_17" gradientUnits="userSpaceOnUse" x1="42.2" x2="124.2" y1="0" y2="0"><stop offset="0.000" stop-color="#044ffa"/><stop offset="0.077" stop-color="#044ffa"/><stop offset="0.154" stop-color="#0080ff"/><stop offset="0.231" stop-color="#00b2ff"/><stop offset="0.308" stop-color="#00e4ff"/><stop offset="0.385" stop-color="#00f5be"/><stop offset="0.462" stop-color="#00ff86"/><stop offset="0.538" stop-color="#00ff45"/><stop offset="0.615" stop-color="#00ff45"/><stop offset="0.692" stop-color="#00ff24"/><stop offset="0.769" stop-color="#00ff14"/><stop offset="0.846" stop-color="#00ff65"/><stop offset="0.923" stop-color="#00ff65"/><stop offset="1.000" stop-color="#00ff65"/></linearGradient>
<linearGradient id="g3_18" gradientUnits="userSpaceOnUse" x1="42.2" x2="124.2" y1="0" y2="0"><stop offset="0.000" stop-color="#044ffa"/><stop offset="0.077" stop-color="#044ffa"/><stop offset="0.154" stop-color="#0080ff"/><stop offset="0.231" stop-color="#00b2ff"/><stop offset="0.308" stop-color="#00e4ff"/><stop offset="0.385" stop-color="#00f9ad"/><stop offset="0.462" stop-color="#00ff71"/><stop offset="0.538" stop-color="#00ff30"/><stop offset="0.615" stop-color="#00ff30"/><stop offset="0.692" stop-color="#00ff39"/><stop offset="0.769" stop-color="#00ff14"/><stop offset="0.846" stop-color="#00ff7a"/><stop offset="0.923" stop-color="#00ff7a"/><stop offset="1.000" stop-color="#00ff7a"/></linearGradient>
<linearGradient id="g3_19" gradientUnits="userSpaceOnUse" x1="42.2" x2="124.2" y1="0" y2="0"><stop offset="0.000" stop-color="#044ffa"/><stop offset="0.077" stop-color="#044ffa"/><stop offset="0.154" stop-color="#0080ff"/><stop offset="0.231" stop-color="#00b2ff"/><stop offset="0.308" stop-color="#00e4ff"/><stop offset="0.385" stop-color="#00fe9b"/><stop offset="0.462" stop-color="#00ff5c"/><stop offset="0.538" stop-color="#00ff1b"/><stop offset="0.615" stop-color="#00ff1b"/><stop offset="0.692" stop-color="#00ff4e"/><stop offset="0.769" stop-color="#00ff14"/><stop offset="0.846" stop-color="#00ff8f"/><stop offset="0.923" stop-color="#00ff8f"/><stop offset="1.000" stop-color="#00ff8f"/></linearGradient>
<linearGradient id="g3_20" gradientUnits="userSpaceOnUse" x1="42.2" x2="124.2" y1="0" y2="0"><stop offset="0.000" stop-color="#044ffa"/><stop offset="0.077" stop-color="#044ffa"/><stop offset="0.154" stop-color="#0080ff"/><stop offset="0.231" stop-color="#00a7ff"/><stop offset="0.308" stop-color="#00e4ff"/><stop offset="0.385" stop-color="#00ff96"/><stop offset="0.462" stop-color="#00ff55"/><stop offset="0.538" stop-color="#00ff14"/><stop offset="0.615" stop-color="#00ff14"/><stop offset="0.692" stop-color="#00ff55"/><stop offset="0.769" stop-color="#00ff22"/><stop offset="0.846" stop-color="#00ff96"/><stop offset="0.923" stop-color="#00ff96"/><stop offset="1.000" stop-color="#00ff96"/></linearGradient>
<linearGradient id="g3_21" gradientUnits="userSpaceOnUse" x1="42.2" x2="124.2" y1="0" y2="0"><stop offset="0.000" stop-color="#044ffa"/><stop offset="0.077" stop-color="#044ffa"/><stop offset="0.154" stop-color="#0080ff"/><stop offset="0.231" stop-color="#0097ff"/><stop offset="0.308" stop-color="#00e4ff"/><stop offset="0.385" stop-color="#00ff96"/><stop offset="0.462" stop-color="#00ff55"/><stop offset="0.538" stop-color="#00ff14"/><stop offset="0.615" stop-color="#00ff14"/><stop offset="0.692" stop-color="#00ff55"/><stop offset="0.769" stop-color="#00ff37"/><stop offset="0.846" stop-color="#00ff96"/><stop offset="0.923" stop-color="#00ff96"/><stop offset="1.000" stop-color="#00ff96"/></linearGradient>
<linearGradient id="g3_22" gradientUnits="userSpaceOnUse" x1="42.2" x2="124.2" y1="0" y2="0"><stop offset="0.000" stop-color="#044ffa"/><stop offset="0.077" stop-color="#044ffa"/><stop offset="0.154" stop-color="#0080ff"/><stop offset="0.231" stop-color="#0086ff"/><stop offset="0.308" stop-color="#00e4ff"/><stop offset="0.385" stop-color="#00ff96"/><stop offset="0.462" stop-color="#00ff55"/><stop offset="0.538" stop-color="#00ff14"/><stop offset="0.615" stop-color="#00ff14"/><stop offset="0.692" stop-color="#00ff55"/><stop offset="0.769" stop-color="#00ff4d"/><stop offset="0.846" stop-color="#00ff96"/><stop offset="0.923" stop-color="#00ff96"/><stop offset="1.000" stop-color="#00ff96"/></linearGradient>
<linearGradient id="g3_23" gradientUnits="userSpaceOnUse" x1="42.2" x2="124.2" y1="0" y2="0"><stop offset="0.000" stop-color="#044ffa"/><stop offset="0.077" stop-color="#044ffa"/><stop offset="0.154" stop-color="#0176fe"/><stop offset="0.231" stop-color="#0080ff"/><stop offset="0.308" stop-color="#00e4ff"/><stop offset="0.385" stop-color="#00fca0"/><stop offset="0.462" stop-color="#00ff62"/><stop offset="0.538" stop-color="#00ff21"/><stop offset="0.615" stop-color="#00ff14"/><stop offset="0.692" stop-color="#00ff55"/><stop offset="0.769" stop-color="#00ff55"/><stop offset="0.846" stop-color="#00ff96"/><stop offset="0.923" stop-color="#00fca0"/><stop offset="1.000" stop-color="#00fca0"/></linearGradient>
<linearGradient id="g3_24" gradientUnits="userSpaceOnUse" x1="42.2" x2="124.2" y1="0" y2="0"><stop offset="0.000" stop-color="#044ffa"/><stop offset="0.077" stop-color="#044ffa"/><stop offset="0.154" stop-color="#0267fc"/><stop offset="0.231" stop-color="#0080ff"/><stop offset="0.308" stop-color="#00e4ff"/><stop offset="0.385" stop-color="#00f8b1"/><stop offset="0.462" stop-color="#00ff77"/><stop offset="0.538" stop-color="#00ff36"/><stop offset="0.615" stop-color="#00ff14"/><stop offset="0.692" stop-color="#00ff55"/><stop offset="0.769" stop-color="#00ff55"/><stop offset="0.846" stop-color="#00ff96"/><stop offset="0.923" stop-color="#00f8b1"/><stop offset="1.000" stop-color="#00f8b1"/></linearGradient>
<linearGradient id="g3_25" gradientUnits="userSpaceOnUse" x1="42.2" x2="124.2" y1="0" y2="0"><stop offset="0.000" stop-color="#044ffa"/><stop offset="0.077" stop-color="#044ffa"/><stop offset="0.154" stop-color="#0357fa"/><stop offset="0.231" stop-color="#0080ff"/><stop offset="0.308" stop-color="#00e4ff"/><stop offset="0.385" stop-color="#00f4c2"/><stop offset="0.462" stop-color="#00ff8c"/><stop offset="0.538" stop-color="#00ff4b"/><stop offset="0.615" stop-color="#00ff14"/><stop offset="0.692" stop-color="#00ff55"/><stop offset="0.769" stop-color="#00ff55"/><stop offset="0.846" stop-color="#00ff96"/><stop offset="0.923" stop-color="#00f4c2"/><stop offset="1.000" stop-color="#00f4c2"/></linearGradient>
<linearGradient id="g3_26" gradientUnits="userSpaceOnUse" x1="42.2" x2="124.2" y1="0" y2="0"><stop offset="0.000" stop-color="#0547f9"/><stop offset="0.077" stop-color="#0547f9"/><stop offset="0.154" stop-color="#044ffa"/><stop offset="0.231" stop-color="#0080ff"/><stop offset="0.308" stop-color="#00dcff"/><stop offset="0.385" stop-color="#00efd3"/><stop offset="0.462" stop-color="#00fd9f"/><stop offset="0.538" stop-color="#00ff60"/><stop offset="0.615" stop-color="#00ff2a"/><stop offset="0.692" stop-color="#00ff60"/><stop offset="0.769" stop-color="#00ff60"/><stop offset="0.846" stop-color="#00fd9f"/><stop offset="0.923" stop-color="#00efd3"/><stop offset="1.000" stop-color="#00efd3"/></linearGradient>
<linearGradient id="g3_27" gradientUnits="userSpaceOnUse" x1="42.2" x2="124.2" y1="0" y2="0"><stop offset="0.000" stop-color="#0637f7"/><stop offset="0.077" stop-color="#0637f7"/><stop offset="0.154" stop-color="#044ffa"/><stop offset="0.231" stop-color="#0080ff"/><stop offset="0.308" stop-color="#00cbff"/><stop offset="0.385" stop-color="#00ebe4"/><stop offset="0.462" stop-color="#00f8b0"/><stop offset="0.538" stop-color="#00ff75"/><stop offset="0.615" stop-color="#00ff54"/><stop offset="0.692" stop-color="#00ff75"/><stop offset="0.769" stop-color="#00ff75"/><stop offset="0.846" stop-color="#00f8b0"/><stop offset="0.923" stop-color="#00ebe4"/><stop offset="1.000" stop-color="#00ebe4"/></linearGradient>
<linearGradient id="g3_28" gradientUnits="userSpaceOnUse" x1="42.2" x2="124.2" y1="0" y2="0"><stop offset="0.000" stop-color="#0727f5"/><stop offset="0.077" stop-color="#0727f5"/><stop offset="0.154" stop-color="#044ffa"/><stop offset="0.231" stop-color="#0080ff"/><stop offset="0.308" stop-color="#00bbff"/><stop offset="0.385" stop-color="#00e6f5"/><stop offset="0.462" stop-color="#00f4c1"/><stop offset="0.538" stop-color="#00ff8a"/><stop offset="0.615" stop-color="#00ff7e"/><stop offset="0.692" stop-color="#00ff8a"/><stop offset="0.769" stop-color="#00ff8a"/><stop offset="0.846" stop-color="#00f4c1"/><stop offset="0.923" stop-color="#00e6f5"/><stop offset="1.000" stop-color="#00e6f5"/></linearGradient>
<linearGradient id="g3_29" gradientUnits="userSpaceOnUse" x1="42.2" x2="124.2" y1="0" y2="0"><stop offset="0.000" stop-color="#081ef4"/><stop offset="0.077" stop-color="#081ef4"/><stop offset="0.154" stop-color="#044ffa"/><stop offset="0.231" stop-color="#0080ff"/><stop offset="0.308" stop-color="#00abff"/><stop offset="0.385" stop-color="#00ddff"/><stop offset="0.462" stop-color="#00f0d2"/><stop offset="0.538" stop-color="#00fba5"/><stop offset="0.615" stop-color="#00fd9e"/><stop offset="0.692" stop-color="#00fba5"/><stop offset="0.769" stop-color="#00fba5"/><stop offset="0.846" stop-color="#00f0d2"/><stop offset="0.923" stop-color="#00e4ff"/><stop offset="1.000" stop-color="#00e4ff"/></linearGradient>
<linearGradient id="g3_30" gradientUnits="userSpaceOnUse" x1="42.2" x2="124.2" y1="0" y2="0"><stop offset="0.000" stop-color="#081ef4"/><stop offset="0.077" stop-color="#081ef4"/><stop offset="0.154" stop-color="#044ffa"/><stop offset="0.231" stop-color="#0080ff"/><stop offset="0.308" stop-color="#009bff"/><stop offset="0.385" stop-color="#00cdff"/><stop offset="0.462" stop-color="#00ebe3"/><stop offset="0.538" stop-color="#00f2c7"/><stop offset="0.615" stop-color="#00f9af"/><stop offset="0.692" stop-color="#00f2c7"/><stop offset="0.769" stop-color="#00f2c7"/><stop offset="0.846" stop-color="#00ebe3"/><stop offset="0.923" stop-color="#00e4ff"/><stop offset="1.000" stop-color="#00e4ff"/></linearGradient>
<linearGradient id="g3_31" gradientUnits="userSpaceOnUse" x1="42.2" x2="124.2" y1="0" y2="0"><stop offset="0.000" stop-color="#081ef4"/><stop offset="0.077" stop-color="#081ef4"/><stop offset="0.154" stop-color="#044ffa"/><stop offset="0.231" stop-color="#0080ff"/><stop offset="0.308" stop-color="#008aff"/><stop offset="0.385" stop-color="#00bcff"/><stop offset="0.462" stop-color="#00e7f4"/><stop offset="0.538" stop-color="#00eae9"/><stop offset="0.615" stop-color="#00f4c0"/><stop offset="0.692" stop-color="#00eae9"/><stop offset="0.769" stop-color="#00eae9"/><stop offset="0.846" stop-color="#00e7f4"/><stop offset="0.923" stop-color="#00e4ff"/><stop offset="1.000" stop-color="#00e4ff"/></linearGradient>
<linearGradient id="g3_32" gradientUnits="userSpaceOnUse" x1="42.2" x2="124.2" y1="0" y2="0"><stop offset="0.000" stop-color="#081ef4"/><stop offset="0.077" stop-color="#081ef4"/><stop offset="0.154" stop-color="#0449f9"/><stop offset="0.231" stop-color="#007afe"/><stop offset="0.308" stop-color="#0080ff"/><stop offset="0.385" stop-color="#00acff"/><stop offset="0.462" stop-color="#00deff"/><stop offset="0.538" stop-color="#00deff"/><stop offset="0.615" stop-color="#00f0d1"/><stop offset="0.692" stop-color="#00e4ff"/><stop offset="0.769" stop-color="#00e4ff"/><stop offset="0.846" stop-color="#00deff"/><stop offset="0.923" stop-color="#00deff"/><stop offset="1.000" stop-color="#00deff"/></linearGradient>
<linearGradient id="g3_33" gradientUnits="userSpaceOnUse" x1="42.2" x2="124.2" y1="0" y2="0"><stop offset="0.000" stop-color="#081ef4"/><stop offset="0.077" stop-color="#081ef4"/><stop offset="0.154" stop-color="#0639f7"/><stop offset="0.231" stop-color="#026afd"/><stop offset="0.308" stop-color="#0080ff"/><stop offset="0.385" stop-color="#009cff"/><stop offset="0.462" stop-color="#00ceff"/><stop offset="0.538" stop-color="#00ceff"/><stop offset="0.615" stop-color="#00ece2"/><stop offset="0.692" stop-color="#00e4ff"/><stop offset="0.769" stop-color="#00e4ff"/><stop offset="0.846" stop-color="#00ceff"/><stop offset="0.923" stop-color="#00ceff"/><stop offset="1.000" stop-color="#00ceff"/></linearGradient>
<linearGradient id="g3_34" gradientUnits="userSpaceOnUse" x1="42.2" x2="124.2" y1="0" y2="0"><stop offset="0.000" stop-color="#081ef4"/><stop offset="0.077" stop-color="#081ef4"/><stop offset="0.154" stop-color="#0729f5"/><stop offset="0.231" stop-color="#035afb"/><stop offset="0.308" stop-color="#0080ff"/><stop offset="0.385" stop-color="#008cff"/><stop offset="0.462" stop-color="#00beff"/><stop offset="0.538" stop-color="#00beff"/><stop offset="0.615" stop-color="#00e7f3"/><stop offset="0.692" stop-color="#00e4ff"/><stop offset="0.769" stop-color="#00e4ff"/><stop offset="0.846" stop-color="#00beff"/><stop offset="0.923" stop-color="#00beff"/><stop offset="1.000" stop-color="#00beff"/></linearGradient>
<linearGradient id="g3_35" gradientUnits="userSpaceOnUse" x1="42.2" x2="124.2" y1="0" y2="0"><stop offset="0.000" stop-color="#081ef4"/><stop offset="0.077" stop-color="#081ef4"/><stop offset="0.154" stop-color="#081ef4"/><stop offset="0.231" stop-color="#044ffa"/><stop offset="0.308" stop-color="#0080ff"/><stop offset="0.385" stop-color="#0080ff"/><stop offset="0.462" stop-color="#00adff"/><stop offset="0.538" stop-color="#00b2ff"/><stop offset="0.615" stop-color="#00dfff"/><stop offset="0.692" stop-color="#00dfff"/><stop offset="0.769" stop-color="#00dfff"/><stop offset="0.846" stop-color="#00b2ff"/><stop offset="0.923" stop-color="#00b2ff"/><stop offset="1.000" stop-color="#00b2ff"/></linearGradient>
<linearGradient id="g3_36" gradientUnits="userSpaceOnUse" x1="42.2" x2="124.2" y1="0" y2="0"><stop offset="0.000" stop-color="#081ef4"/><stop offset="0.077" stop-color="#081ef4"/><stop offset="0.154" stop-color="#081ef4"/><stop offset="0.231" stop-color="#044ffa"/><stop offset="0.308" stop-color="#0080ff"/><stop offset="0.385" stop-color="#0080ff"/><stop offset="0.462" stop-color="#009dff"/><stop offset="0.538" stop-color="#00b2ff"/><stop offset="0.615" stop-color="#00cfff"/><stop offset="0.692" stop-color="#00cfff"/><stop offset="0.769" stop-color="#00cfff"/><stop offset="0.846" stop-color="#00b2ff"/><stop offset="0.923" stop-color="#00b2ff"/><stop offset="1.000" stop-color="#00b2ff"/></linearGradient>
<linearGradient id="g3_37" gradientUnits="userSpaceOnUse" x1="42.2" x2="124.2" y1="0" y2="0"><stop offset="0.000" stop-color="#081ef4"/><stop offset="0.077" stop-color="#081ef4"/><stop offset="0.154" stop-color="#081ef4"/><stop offset="0.231" stop-color="#044ffa"/><stop offset="0.308" stop-color="#0080ff"/><stop offset="0.385" stop-color="#0080ff"/><stop offset="0.462" stop-color="#008dff"/><stop offset="0.538" stop-color="#00b2ff"/><stop offset="0.615" stop-color="#00bfff"/><stop offset="0.692" stop-color="#00bfff"/><stop offset="0.769" stop-color="#00bfff"/><stop offset="0.846" stop-color="#00b2ff"/><stop offset="0.923" stop-color="#00b2ff"/><stop offset="1.000" stop-color="#00b2ff"/></linearGradient>
<linearGradient id="g3_38" gradientUnits="userSpaceOnUse" x1="42.2" x2="124.2" y1="0" y2="0"><stop offset="0.000" stop-color="#081ef4"/><stop offset="0.077" stop-color="#081ef4"/><stop offset="0.154" stop-color="#081ef4"/><stop offset="0.231" stop-color="#044cf9"/><stop offset="0.308" stop-color="#007dff"/><stop offset="0.385" stop-color="#0080ff"/><stop offset="0.462" stop-color="#0080ff"/><stop offset="0.538" stop-color="#00afff"/><stop offset="0.615" stop-color="#00afff"/><stop offset="0.692" stop-color="#00afff"/><stop offset="0.769" stop-color="#00afff"/><stop offset="0.846" stop-color="#00afff"/><stop offset="0.923" stop-color="#00afff"/><stop offset="1.000" stop-color="#00afff"/></linearGradient>
<linearGradient id="g3_39" gradientUnits="userSpaceOnUse" x1="42.2" x2="124.2" y1="0" y2="0"><stop offset="0.000" stop-color="#081ef4"/><stop offset="0.077" stop-color="#081ef4"/><stop offset="0.154" stop-color="#081ef4"/><stop offset="0.231" stop-color="#063cf7"/><stop offset="0.308" stop-color="#026dfd"/><stop offset="0.385" stop-color="#0080ff"/><stop offset="0.462" stop-color="#0080ff"/><stop offset="0.538" stop-color="#009eff"/><stop offset="0.615" stop-color="#009eff"/><stop offset="0.692" stop-color="#009eff"/><stop offset="0.769" stop-color="#009eff"/><stop offset="0.846" stop-color="#009eff"/><stop offset="0.923" stop-color="#009eff"/><stop offset="1.000" stop-color="#009eff"/></linearGradient>
<linearGradient id="g3_40" gradientUnits="userSpaceOnUse" x1="42.2" x2="124.2" y1="0" y2="0"><stop offset="0.000" stop-color="#081ef4"/><stop offset="0.077" stop-color="#081ef4"/><stop offset="0.154" stop-color="#081ef4"/><stop offset="0.231" stop-color="#072cf6"/><stop offset="0.308" stop-color="#035dfb"/><stop offset="0.385" stop-color="#0080ff"/><stop offset="0.462" stop-color="#0080ff"/><stop offset="0.538" stop-color="#008eff"/><stop offset="0.615" stop-color="#008eff"/><stop offset="0.692" stop-color="#008eff"/><stop offset="0.769" stop-color="#008eff"/><stop offset="0.846" stop-color="#008eff"/><stop offset="0.923" stop-color="#008eff"/><stop offset="1.000" stop-color="#008eff"/></linearGradient>
<linearGradient id="g3_41" gradientUnits="userSpaceOnUse" x1="42.2" x2="124.2" y1="0" y2="0"><stop offset="0.000" stop-color="#081ef4"/><stop offset="0.077" stop-color="#081ef4"/><stop offset="0.154" stop-color="#081ef4"/><stop offset="0.231" stop-color="#081ef4"/><stop offset="0.308" stop-color="#044ffa"/><stop offset="0.385" stop-color="#007eff"/><stop offset="0.462" stop-color="#0080ff"/><stop offset="0.538" stop-color="#0080ff"/><stop offset="0.615" stop-color="#0080ff"/><stop offset="0.692" stop-color="#0080ff"/><stop offset="0.769" stop-color="#0080ff"/><stop offset="0.846" stop-color="#0080ff"/><stop offset="0.923" stop-color="#0080ff"/><stop offset="1.000" stop-color="#0080ff"/></linearGradient>
<linearGradient id="g3_42" gradientUnits="userSpaceOnUse" x1="42.2" x2="124.2" y1="0" y2="0"><stop offset="0.000" stop-color="#081ef4"/><stop offset="0.077" stop-color="#081ef4"/><stop offset="0.154" stop-color="#081ef4"/><stop offset="0.231" stop-color="#081ef4"/><stop offset="0.308" stop-color="#044ffa"/><stop offset="0.385" stop-color="#016efd"/><stop offset="0.462" stop-color="#0080ff"/><stop offset="0.538" stop-color="#0080ff"/><stop offset="0.615" stop-color="#0080ff"/><stop offset="0.692" stop-color="#0080ff"/><stop offset="0.769" stop-color="#0080ff"/><stop offset="0.846" stop-color="#0080ff"/><stop offset="0.923" stop-color="#0080ff"/><stop offset="1.000" stop-color="#0080ff"/></linearGradient>
<linearGradient id="g3_43" gradientUnits="userSpaceOnUse" x1="42.2" x2="124.2" y1="0" y2="0"><stop offset="0.000" stop-color="#081ef4"/><stop offset="0.077" stop-color="#081ef4"/><stop offset="0.154" stop-color="#081ef4"/><stop offset="0.231" stop-color="#081ef4"/><stop offset="0.308" stop-color="#044ffa"/><stop offset="0.385" stop-color="#035efb"/><stop offset="0.462" stop-color="#0080ff"/><stop offset="0.538" stop-color="#0080ff"/><stop offset="0.615" stop-color="#0080ff"/><stop offset="0.692" stop-color="#0080ff"/><stop offset="0.769" stop-color="#0080ff"/><stop offset="0.846" stop-color="#0080ff"/><stop offset="0.923" stop-color="#0080ff"/><stop offset="1.000" stop-color="#0080ff"/></linearGradient>
<linearGradient id="g3_44" gradientUnits="userSpaceOnUse" x1="42.2" x2="124.2" y1="0" y2="0"><stop offset="0.000" stop-color="#081ef4"/><stop offset="0.077" stop-color="#081ef4"/><stop offset="0.154" stop-color="#081ef4"/><stop offset="0.231" stop-color="#081ef4"/><stop offset="0.308" stop-color="#044ef9"/><stop offset="0.385" stop-color="#044ffa"/><stop offset="0.462" stop-color="#007fff"/><stop offset="0.538" stop-color="#0080ff"/><stop offset="0.615" stop-color="#0080ff"/><stop offset="0.692" stop-color="#0080ff"/><stop offset="0.769" stop-color="#0080ff"/><stop offset="0.846" stop-color="#007fff"/><stop offset="0.923" stop-color="#007fff"/><stop offset="1.000" stop-color="#007fff"/></linearGradient>
<linearGradient id="g3_45" gradientUnits="userSpaceOnUse" x1="42.2" x2="124.2" y1="0" y2="0"><stop offset="0.000" stop-color="#081ef4"/><stop offset="0.077" stop-color="#081ef4"/><stop offset="0.154" stop-color="#081ef4"/><stop offset="0.231" stop-color="#081ef4"/><stop offset="0.308" stop-color="#053ef8"/><stop offset="0.385" stop-color="#044ffa"/><stop offset="0.462" stop-color="#016ffd"/><stop offset="0.538" stop-color="#0080ff"/><stop offset="0.615" stop-color="#0080ff"/><stop offset="0.692" stop-color="#0080ff"/><stop offset="0.769" stop-color="#0080ff"/><stop offset="0.846" stop-color="#016ffd"/><stop offset="0.923" stop-color="#016ffd"/><stop offset="1.000" stop-color="#016ffd"/></linearGradient>
<linearGradient id="g3_46" gradientUnits="userSpaceOnUse" x1="42.2" x2="124.2" y1="0" y2="0"><stop offset="0.000" stop-color="#081ef4"/><stop offset="0.077" stop-color="#081ef4"/><stop offset="0.154" stop-color="#081ef4"/><stop offset="0.231" stop-color="#081ef4"/><stop offset="0.308" stop-color="#072ef6"/><stop offset="0.385" stop-color="#044ffa"/><stop offset="0.462" stop-color="#035ffb"/><stop offset="0.538" stop-color="#0080ff"/><stop offset="0.615" stop-color="#0080ff"/><stop offset="0.692" stop-color="#0080ff"/><stop offset="0.769" stop-color="#0080ff"/><stop offset="0.846" stop-color="#035ffb"/><stop offset="0.923" stop-color="#035ffb"/><stop offset="1.000" stop-color="#035ffb"/></linearGradient>
<linearGradient id="g3_47" gradientUnits="userSpaceOnUse" x1="42.2" x2="124.2" y1="0" y2="0"><stop offset="0.000" stop-color="#081ef4"/><stop offset="0.077" stop-color="#081ef4"/><stop offset="0.154" stop-color="#081ef4"/><stop offset="0.231" stop-color="#081ef4"/><stop offset="0.308" stop-color="#081ff4"/><stop offset="0.385" stop-color="#044ffa"/><stop offset="0.462" stop-color="#0450fa"/><stop offset="0.538" stop-color="#0080ff"/><stop offset="0.615" stop-color="#0080ff"/><stop offset="0.692" stop-color="#0080ff"/><stop offset="0.769" stop-color="#0080ff"/><stop offset="0.846" stop-color="#0450fa"/><stop offset="0.923" stop-color="#0450fa"/><stop offset="1.000" stop-color="#0450fa"/></linearGradient>
<linearGradient id="g4_0" gradientUnits="userSpaceOnUse" x1="205.8" x2="294.1" y1="0" y2="0"><stop offset="0.000" stop-color="#081ef4"/><stop offset="0.071" stop-color="#081ef4"/><stop offset="0.143" stop-color="#081ef4"/><stop offset="0.214" stop-color="#081ef4"/><stop offset="0.286" stop-color="#081ef4"/><stop offset="0.357" stop-color="#081ef4"/><stop offset="0.429" stop-color="#0080ff"/><stop offset="0.500" stop-color="#044ffa"/><stop offset="0.571" stop-color="#0080ff"/><stop offset="0.643" stop-color="#044ffa"/><stop offset="0.714" stop-color="#0080ff"/><stop offset="0.786" stop-color="#044ffa"/><stop offset="0.857" stop-color="#00ccff"/><stop offset="0.929" stop-color="#00f9af"/><stop offset="1.000" stop-color="#00f9af"/></linearGradient>
<linearGradient id="g4_1" gradientUnits="userSpaceOnUse" x1="205.8" x2="294.1" y1="0" y2="0"><stop offset="0.000" stop-color="#081ef4"/><stop offset="0.071" stop-color="#081ef4"/><stop offset="0.143" stop-color="#081ef4"/><stop offset="0.214" stop-color="#081ef4"/><stop offset="0.286" stop-color="#081ef4"/><stop offset="0.357" stop-color="#081ef4"/><stop offset="0.429" stop-color="#0080ff"/><stop offset="0.500" stop-color="#044ffa"/><stop offset="0.571" stop-color="#0080ff"/><stop offset="0.643" stop-color="#044ffa"/><stop offset="0.714" stop-color="#0080ff"/><stop offset="0.786" stop-color="#044ffa"/><stop offset="0.857" stop-color="#00bcff"/><stop offset="0.929" stop-color="#00f4c0"/><stop offset="1.000" stop-color="#00f4c0"/></linearGradient>
<linearGradient id="g4_2" gradientUnits="userSpaceOnUse" x1="205.8" x2="294.1" y1="0" y2="0"><stop offset="0.000" stop-color="#081ef4"/><stop offset="0.071" stop-color="#081ef4"/><stop offset="0.143" stop-color="#081ef4"/><stop offset="0.214" stop-color="#081ef4"/><stop offset="0.286" stop-color="#081ef4"/><stop offset="0.357" stop-color="#081ef4"/><stop offset="0.429" stop-color="#0080ff"/><stop offset="0.500" stop-color="#044ffa"/><stop offset="0.571" stop-color="#0080ff"/><stop offset="0.643" stop-color="#0355fa"/><stop offset="0.714" stop-color="#0086ff"/><stop offset="0.786" stop-color="#044ffa"/><stop offset="0.857" stop-color="#00acff"/><stop offset="0.929" stop-color="#00f0d1"/><stop offset="1.000" stop-color="#00f0d1"/></linearGradient>
<linearGradient id="g4_3" gradientUnits="userSpaceOnUse" x1="205.8" x2="294.1" y1="0" y2="0"><stop offset="0.000" stop-color="#081ef4"/><stop offset="0.071" stop-color="#081ef4"/><stop offset="0.143" stop-color="#081ef4"/><stop offset="0.214" stop-color="#081ef4"/><stop offset="0.286" stop-color="#081ef4"/><stop offset="0.357" stop-color="#081ef4"/><stop offset="0.429" stop-color="#0080ff"/><stop offset="0.500" stop-color="#044ffa"/><stop offset="0.571" stop-color="#0080ff"/><stop offset="0.643" stop-color="#0265fc"/><stop offset="0.714" stop-color="#0097ff"/><stop offset="0.786" stop-color="#044ffa"/><stop offset="0.857" stop-color="#009bff"/><stop offset="0.929" stop-color="#00ebe2"/><stop offset="1.000" stop-color="#00ebe2"/></linearGradient>
<linearGradient id="g4_4" gradientUnits="userSpaceOnUse" x1="205.8" x2="294.1" y1="0" y2="0"><stop offset="0.000" stop-color="#081ef4"/><stop offset="0.071" stop-color="#081ef4"/><stop offset="0.143" stop-color="#081ef4"/><stop offset="0.214" stop-color="#081ef4"/><stop offset="0.286" stop-color="#081ef4"/><stop offset="0.357" stop-color="#081ef4"/><stop offset="0.429" stop-color="#0080ff"/><stop offset="0.500" stop-color="#044ffa"/><stop offset="0.571" stop-color="#0080ff"/><stop offset="0.643" stop-color="#0175fe"/><stop offset="0.714" stop-color="#00a7ff"/><stop offset="0.786" stop-color="#044ffa"/><stop offset="0.857" stop-color="#008bff"/><stop offset="0.929" stop-color="#00e7f3"/><stop offset="1.000" stop-color="#00e7f3"/></linearGradient>
<linearGradient id="g4_5" gradientUnits="userSpaceOnUse" x1="205.8" x2="294.1" y1="0" y2="0"><stop offset="0.000" stop-color="#081ef4"/><stop offset="0.071" stop-color="#081ef4"/><stop offset="0.143" stop-color="#081ef4"/><stop offset="0.214" stop-color="#081ef4"/><stop offset="0.286" stop-color="#081ef4"/><stop offset="0.357" stop-color="#081ef4"/><stop offset="0.429" stop-color="#0080ff"/><stop offset="0.500" stop-color="#044ffa"/><stop offset="0.571" stop-color="#0080ff"/><stop offset="0.643" stop-color="#0080ff"/><stop offset="0.714" stop-color="#00a8ff"/><stop offset="0.786" stop-color="#0454fa"/><stop offset="0.857" stop-color="#007bfe"/><stop offset="0.929" stop-color="#00daff"/><stop offset="1.000" stop-color="#00daff"/></linearGradient>
<linearGradient id="g4_6" gradientUnits="userSpaceOnUse" x1="205.8" x2="294.1" y1="0" y2="0"><stop offset="0.000" stop-color="#081ef4"/><stop offset="0.071" stop-color="#081ef4"/><stop offset="0.143" stop-color="#081ef4"/><stop offset="0.214" stop-color="#081ef4"/><stop offset="0.286" stop-color="#081ef4"/><stop offset="0.357" stop-color="#081ef4"/><stop offset="0.429" stop-color="#0080ff"/><stop offset="0.500" stop-color="#044ffa"/><stop offset="0.571" stop-color="#0080ff"/><stop offset="0.643" stop-color="#0080ff"/><stop offset="0.714" stop-color="#0088ff"/><stop offset="0.786" stop-color="#0264fc"/><stop offset="0.857" stop-color="#026bfd"/><stop offset="0.929" stop-color="#00baff"/><stop offset="1.000" stop-color="#00baff"/></linearGradient>
<linearGradient id="g4_7" gradientUnits="userSpaceOnUse" x1="205.8" x2="294.1" y1="0" y2="0"><stop offset="0.000" stop-color="#081ef4"/><stop offset="0.071" stop-color="#081ef4"/><stop offset="0.143" stop-color="#081ef4"/><stop offset="0.214" stop-color="#081ef4"/><stop offset="0.286" stop-color="#081ef4"/><stop offset="0.357" stop-color="#081ef4"/><stop offset="0.429" stop-color="#0080ff"/><stop offset="0.500" stop-color="#044ffa"/><stop offset="0.571" stop-color="#0080ff"/><stop offset="0.643" stop-color="#0080ff"/><stop offset="0.714" stop-color="#0268fc"/><stop offset="0.786" stop-color="#0174fe"/><stop offset="0.857" stop-color="#035bfb"/><stop offset="0.929" stop-color="#0099ff"/><stop offset="1.000" stop-color="#0099ff"/></linearGradient>
<linearGradient id="g4_8" gradientUnits="userSpaceOnUse" x1="205.8" x2="294.1" y1="0" y2="0"><stop offset="0.000" stop-color="#081ef4"/><stop offset="0.071" stop-color="#081ef4"/><stop offset="0.143" stop-color="#081ef4"/><stop offset="0.214" stop-color="#081ef4"/><stop offset="0.286" stop-color="#081ef4"/><stop offset="0.357" stop-color="#081ef4"/><stop offset="0.429" stop-color="#0080ff"/><stop offset="0.500" stop-color="#044ffa"/><stop offset="0.571" stop-color="#0080ff"/><stop offset="0.643" stop-color="#007cff"/><stop offset="0.714" stop-color="#0453fa"/><stop offset="0.786" stop-color="#007cff"/><stop offset="0.857" stop-color="#044ffa"/><stop offset="0.929" stop-color="#007cff"/><stop offset="1.000" stop-color="#007cff"/></linearGradient>
<linearGradient id="g4_9" gradientUnits="userSpaceOnUse" x1="205.8" x2="294.1" y1="0" y2="0"><stop offset="0.000" stop-color="#081ef4"/><stop offset="0.071" stop-color="#081ef4"/><stop offset="0.143" stop-color="#081ef4"/><stop offset="0.214" stop-color="#081ef4"/><stop offset="0.286" stop-color="#081ef4"/><stop offset="0.357" stop-color="#081ef4"/><stop offset="0.429" stop-color="#0080ff"/><stop offset="0.500" stop-color="#044ffa"/><stop offset="0.571" stop-color="#0080ff"/><stop offset="0.643" stop-color="#026cfd"/><stop offset="0.714" stop-color="#0263fc"/><stop offset="0.786" stop-color="#026cfd"/><stop offset="0.857" stop-color="#044ffa"/><stop offset="0.929" stop-color="#026cfd"/><stop offset="1.000" stop-color="#026cfd"/></linearGradient>
<linearGradient id="g4_10" gradientUnits="userSpaceOnUse" x1="205.8" x2="294.1" y1="0" y2="0"><stop offset="0.000" stop-color="#081ef4"/><stop offset="0.071" stop-color="#081ef4"/><stop offset="0.143" stop-color="#081ef4"/><stop offset="0.214" stop-color="#081ef4"/><stop offset="0.286" stop-color="#081ef4"/><stop offset="0.357" stop-color="#081ef4"/><stop offset="0.429" stop-color="#0080ff"/><stop offset="0.500" stop-color="#044ffa"/><stop offset="0.571" stop-color="#0080ff"/><stop offset="0.643" stop-color="#035dfb"/><stop offset="0.714" stop-color="#0172fd"/><stop offset="0.786" stop-color="#035dfb"/><stop offset="0.857" stop-color="#044ffa"/><stop offset="0.929" stop-color="#035dfb"/><stop offset="1.000" stop-color="#035dfb"/></linearGradient>
<linearGradient id="g4_11" gradientUnits="userSpaceOnUse" x1="205.8" x2="294.1" y1="0" y2="0"><stop offset="0.000" stop-color="#081ef4"/><stop offset="0.071" stop-color="#081ef4"/><stop offset="0.143" stop-color="#081ef4"/><stop offset="0.214" stop-color="#081ef4"/><stop offset="0.286" stop-color="#081ef4"/><stop offset="0.357" stop-color="#081ef4"/><stop offset="0.429" stop-color="#0080ff"/><stop offset="0.500" stop-color="#044ffa"/><stop offset="0.571" stop-color="#0080ff"/><stop offset="0.643" stop-color="#0451fa"/><stop offset="0.714" stop-color="#007eff"/><stop offset="0.786" stop-color="#044df9"/><stop offset="0.857" stop-color="#044ffa"/><stop offset="0.929" stop-color="#044ffa"/><stop offset="1.000" stop-color="#044ffa"/></linearGradient>
<linearGradient id="g4_12" gradientUnits="userSpaceOnUse" x1="205.8" x2="294.1" y1="0" y2="0"><stop offset="0.000" stop-color="#081ef4"/><stop offset="0.071" stop-color="#081ef4"/><stop offset="0.143" stop-color="#081ef4"/><stop offset="0.214" stop-color="#081ef4"/><stop offset="0.286" stop-color="#081ef4"/><stop offset="0.357" stop-color="#081ef4"/><stop offset="0.429" stop-color="#0080ff"/><stop offset="0.500" stop-color="#044ffa"/><stop offset="0.571" stop-color="#0080ff"/><stop offset="0.643" stop-color="#0361fc"/><stop offset="0.714" stop-color="#016efd"/><stop offset="0.786" stop-color="#053df7"/><stop offset="0.857" stop-color="#044ffa"/><stop offset="0.929" stop-color="#044ffa"/><stop offset="1.000" stop-color="#044ffa"/></linearGradient>
<linearGradient id="g4_13" gradientUnits="userSpaceOnUse" x1="205.8" x2="294.1" y1="0" y2="0"><stop offset="0.000" stop-color="#081ef4"/><stop offset="0.071" stop-color="#081ef4"/><stop offset="0.143" stop-color="#081ef4"/><stop offset="0.214" stop-color="#081ef4"/><stop offset="0.286" stop-color="#081ef4"/><stop offset="0.357" stop-color="#081ef4"/><stop offset="0.429" stop-color="#0080ff"/><stop offset="0.500" stop-color="#044ffa"/><stop offset="0.571" stop-color="#0080ff"/><stop offset="0.643" stop-color="#0171fd"/><stop offset="0.714" stop-color="#035efb"/><stop offset="0.786" stop-color="#072df6"/><stop offset="0.857" stop-color="#044ffa"/><stop offset="0.929" stop-color="#044ffa"/><stop offset="1.000" stop-color="#044ffa"/></linearGradient>
<linearGradient id="g4_14" gradientUnits="userSpaceOnUse" x1="205.8" x2="294.1" y1="0" y2="0"><stop offset="0.000" stop-color="#081ef4"/><stop offset="0.071" stop-color="#081ef4"/><stop offset="0.143" stop-color="#081ef4"/><stop offset="0.214" stop-color="#081ef4"/><stop offset="0.286" stop-color="#081ef4"/><stop offset="0.357" stop-color="#081ef4"/><stop offset="0.429" stop-color="#0080ff"/><stop offset="0.500" stop-color="#044ffa"/><stop offset="0.571" stop-color="#0080ff"/><stop offset="0.643" stop-color="#007fff"/><stop offset="0.714" stop-color="#044ffa"/><stop offset="0.786" stop-color="#081ef4"/><stop offset="0.857" stop-color="#044ef9"/><stop offset="0.929" stop-color="#044ffa"/><stop offset="1.000" stop-color="#044ffa"/></linearGradient>
<linearGradient id="g4_15" gradientUnits="userSpaceOnUse" x1="205.8" x2="294.1" y1="0" y2="0"><stop offset="0.000" stop-color="#081ef4"/><stop offset="0.071" stop-color="#081ef4"/><stop offset="0.143" stop-color="#081ef4"/><stop offset="0.214" stop-color="#081ef4"/><stop offset="0.286" stop-color="#081ef4"/><stop offset="0.357" stop-color="#081ef4"/><stop offset="0.429" stop-color="#0080ff"/><stop offset="0.500" stop-color="#044ffa"/><stop offset="0.571" stop-color="#0080ff"/><stop offset="0.643" stop-color="#016ffd"/><stop offset="0.714" stop-color="#044ffa"/><stop offset="0.786" stop-color="#081ef4"/><stop offset="0.857" stop-color="#053ef8"/><stop offset="0.929" stop-color="#044ffa"/><stop offset="1.000" stop-color="#044ffa"/></linearGradient>
<linearGradient id="g4_16" gradientUnits="userSpaceOnUse" x1="205.8" x2="294.1" y1="0" y2="0"><stop offset="0.000" stop-color="#081ef4"/><stop offset="0.071" stop-color="#081ef4"/><stop offset="0.143" stop-color="#081ef4"/><stop offset="0.214" stop-color="#081ef4"/><stop offset="0.286" stop-color="#081ef4"/><stop offset="0.357" stop-color="#081ef4"/><stop offset="0.429" stop-color="#0080ff"/><stop offset="0.500" stop-color="#044ffa"/><stop offset="0.571" stop-color="#0080ff"/><stop offset="0.643" stop-color="#035ffb"/><stop offset="0.714" stop-color="#044ffa"/><stop offset="0.786" stop-color="#081ef4"/><stop offset="0.857" stop-color="#072ef6"/><stop offset="0.929" stop-color="#044ffa"/><stop offset="1.000" stop-color="#044ffa"/></linearGradient>
<linearGradient id="g4_17" gradientUnits="userSpaceOnUse" x1="205.8" x2="294.1" y1="0" y2="0"><stop offset="0.000" stop-color="#081ef4"/><stop offset="0.071" stop-color="#081ef4"/><stop offset="0.143" stop-color="#081ef4"/><stop offset="0.214" stop-color="#081ef4"/><stop offset="0.286" stop-color="#081ef4"/><stop offset="0.357" stop-color="#081ef4"/><stop offset="0.429" stop-color="#0080ff"/><stop offset="0.500" stop-color="#044ffa"/><stop offset="0.571" stop-color="#0080ff"/><stop offset="0.643" stop-color="#044ffa"/><stop offset="0.714" stop-color="#044ffa"/><stop offset="0.786" stop-color="#081ef4"/><stop offset="0.857" stop-color="#081ef4"/><stop offset="0.929" stop-color="#044ffa"/><stop offset="1.000" stop-color="#044ffa"/></linearGradient>
<linearGradient id="g4_18" gradientUnits="userSpaceOnUse" x1="205.8" x2="294.1" y1="0" y2="0"><stop offset="0.000" stop-color="#081ef4"/><stop offset="0.071" stop-color="#081ef4"/><stop offset="0.143" stop-color="#081ef4"/><stop offset="0.214" stop-color="#081ef4"/><stop offset="0.286" stop-color="#081ef4"/><stop offset="0.357" stop-color="#081ef4"/><stop offset="0.429" stop-color="#0080ff"/><stop offset="0.500" stop-color="#053ff8"/><stop offset="0.571" stop-color="#0170fd"/><stop offset="0.643" stop-color="#053ff8"/><stop offset="0.714" stop-color="#035ffb"/><stop offset="0.786" stop-color="#081ef4"/><stop offset="0.857" stop-color="#081ef4"/><stop offset="0.929" stop-color="#053ff8"/><stop offset="1.000" stop-color="#053ff8"/></linearGradient>
<linearGradient id="g4_19" gradientUnits="userSpaceOnUse" x1="205.8" x2="294.1" y1="0" y2="0"><stop offset="0.000" stop-color="#081ef4"/><stop offset="0.071" stop-color="#081ef4"/><stop offset="0.143" stop-color="#081ef4"/><stop offset="0.214" stop-color="#081ef4"/><stop offset="0.286" stop-color="#081ef4"/><stop offset="0.357" stop-color="#081ef4"/><stop offset="0.429" stop-color="#0080ff"/><stop offset="0.500" stop-color="#072ff6"/><stop offset="0.571" stop-color="#0360fb"/><stop offset="0.643" stop-color="#072ff6"/><stop offset="0.714" stop-color="#016ffd"/><stop offset="0.786" stop-color="#081ef4"/><stop offset="0.857" stop-color="#081ef4"/><stop offset="0.929" stop-color="#072ff6"/><stop offset="1.000" stop-color="#072ff6"/></linearGradient>
<linearGradient id="g4_20" gradientUnits="userSpaceOnUse" x1="205.8" x2="294.1" y1="0" y2="0"><stop offset="0.000" stop-color="#081ef4"/><stop offset="0.071" stop-color="#081ef4"/><stop offset="0.143" stop-color="#081ef4"/><stop offset="0.214" stop-color="#081ef4"/><stop offset="0.286" stop-color="#081ef4"/><stop offset="0.357" stop-color="#081ef4"/><stop offset="0.429" stop-color="#0080ff"/><stop offset="0.500" stop-color="#081ff4"/><stop offset="0.571" stop-color="#0450fa"/><stop offset="0.643" stop-color="#081ff4"/><stop offset="0.714" stop-color="#007fff"/><stop offset="0.786" stop-color="#081ef4"/><stop offset="0.857" stop-color="#081ef4"/><stop offset="0.929" stop-color="#081ff4"/><stop offset="1.000" stop-color="#081ff4"/></linearGradient>
<linearGradient id="g4_21" gradientUnits="userSpaceOnUse" x1="205.8" x2="294.1" y1="0" y2="0"><stop offset="0.000" stop-color="#081ef4"/><stop offset="0.071" stop-color="#081ef4"/><stop offset="0.143" stop-color="#081ef4"/><stop offset="0.214" stop-color="#081ef4"/><stop offset="0.286" stop-color="#081ef4"/><stop offset="0.357" stop-color="#081ef4"/><stop offset="0.429" stop-color="#0080ff"/><stop offset="0.500" stop-color="#081ef4"/><stop offset="0.571" stop-color="#035efb"/><stop offset="0.643" stop-color="#081ef4"/><stop offset="0.714" stop-color="#0171fd"/><stop offset="0.786" stop-color="#081ef4"/><stop offset="0.857" stop-color="#081ef4"/><stop offset="0.929" stop-color="#081ef4"/><stop offset="1.000" stop-color="#081ef4"/></linearGradient>
<linearGradient id="g4_22" gradientUnits="userSpaceOnUse" x1="205.8" x2="294.1" y1="0" y2="0"><stop offset="0.000" stop-color="#081ef4"/><stop offset="0.071" stop-color="#081ef4"/><stop offset="0.143" stop-color="#081ef4"/><stop offset="0.214" stop-color="#081ef4"/><stop offset="0.286" stop-color="#081ef4"/><stop offset="0.357" stop-color="#081ef4"/><stop offset="0.429" stop-color="#0080ff"/><stop offset="0.500" stop-color="#081ef4"/><stop offset="0.571" stop-color="#026dfd"/><stop offset="0.643" stop-color="#081ef4"/><stop offset="0.714" stop-color="#0262fc"/><stop offset="0.786" stop-color="#081ef4"/><stop offset="0.857" stop-color="#081ef4"/><stop offset="0.929" stop-color="#081ef4"/><stop offset="1.000" stop-color="#081ef4"/></linearGradient>
<linearGradient id="g4_23" gradientUnits="userSpaceOnUse" x1="205.8" x2="294.1" y1="0" y2="0"><stop offset="0.000" stop-color="#081ef4"/><stop offset="0.071" stop-color="#081ef4"/><stop offset="0.143" stop-color="#081ef4"/><stop offset="0.214" stop-color="#081ef4"/><stop offset="0.286" stop-color="#081ef4"/><stop offset="0.357" stop-color="#081ef4"/><stop offset="0.429" stop-color="#0080ff"/><stop offset="0.500" stop-color="#081ef4"/><stop offset="0.571" stop-color="#007dff"/><stop offset="0.643" stop-color="#081ef4"/><stop offset="0.714" stop-color="#0452fa"/><stop offset="0.786" stop-color="#081ef4"/><stop offset="0.857" stop-color="#081ef4"/><stop offset="0.929" stop-color="#081ef4"/><stop offset="1.000" stop-color="#081ef4"/></linearGradient>
<linearGradient id="g4_24" gradientUnits="userSpaceOnUse" x1="205.8" x2="294.1" y1="0" y2="0"><stop offset="0.000" stop-color="#081ef4"/><stop offset="0.071" stop-color="#081ef4"/><stop offset="0.143" stop-color="#081ef4"/><stop offset="0.214" stop-color="#081ef4"/><stop offset="0.286" stop-color="#081ef4"/><stop offset="0.357" stop-color="#081ef4"/><stop offset="0.429" stop-color="#0080ff"/><stop offset="0.500" stop-color="#072bf5"/><stop offset="0.571" stop-color="#0080ff"/><stop offset="0.643" stop-color="#072bf5"/><stop offset="0.714" stop-color="#0542f8"/><stop offset="0.786" stop-color="#081ef4"/><stop offset="0.857" stop-color="#081ef4"/><stop offset="0.929" stop-color="#081ef4"/><stop offset="1.000" stop-color="#081ef4"/></linearGradient>
<linearGradient id="g4_25" gradientUnits="userSpaceOnUse" x1="205.8" x2="294.1" y1="0" y2="0"><stop offset="0.000" stop-color="#081ef4"/><stop offset="0.071" stop-color="#081ef4"/><stop offset="0.143" stop-color="#081ef4"/><stop offset="0.214" stop-color="#081ef4"/><stop offset="0.286" stop-color="#081ef4"/><stop offset="0.357" stop-color="#081ef4"/><stop offset="0.429" stop-color="#0080ff"/><stop offset="0.500" stop-color="#063bf7"/><stop offset="0.571" stop-color="#0080ff"/><stop offset="0.643" stop-color="#063bf7"/><stop offset="0.714" stop-color="#0632f6"/><stop offset="0.786" stop-color="#081ef4"/><stop offset="0.857" stop-color="#081ef4"/><stop offset="0.929" stop-color="#081ef4"/><stop offset="1.000" stop-color="#081ef4"/></linearGradient>
<linearGradient id="g4_26" gradientUnits="userSpaceOnUse" x1="205.8" x2="294.1" y1="0" y2="0"><stop offset="0.000" stop-color="#081ef4"/><stop offset="0.071" stop-color="#081ef4"/><stop offset="0.143" stop-color="#081ef4"/><stop offset="0.214" stop-color="#081ef4"/><stop offset="0.286" stop-color="#081ef4"/><stop offset="0.357" stop-color="#081ef4"/><stop offset="0.429" stop-color="#0080ff"/><stop offset="0.500" stop-color="#044bf9"/><stop offset="0.571" stop-color="#0080ff"/><stop offset="0.643" stop-color="#044bf9"/><stop offset="0.714" stop-color="#0822f4"/><stop offset="0.786" stop-color="#081ef4"/><stop offset="0.857" stop-color="#081ef4"/><stop offset="0.929" stop-color="#081ef4"/><stop offset="1.000" stop-color="#081ef4"/></linearGradient>
<linearGradient id="g4_27" gradientUnits="userSpaceOnUse" x1="205.8" x2="294.1" y1="0" y2="0"><stop offset="0.000" stop-color="#081ef4"/><stop offset="0.071" stop-color="#081ef4"/><stop offset="0.143" stop-color="#081ef4"/><stop offset="0.214" stop-color="#081ef4"/><stop offset="0.286" stop-color="#081ef4"/><stop offset="0.357" stop-color="#081ef4"/><stop offset="0.429" stop-color="#0080ff"/><stop offset="0.500" stop-color="#035bfb"/><stop offset="0.571" stop-color="#0080ff"/><stop offset="0.643" stop-color="#0543f8"/><stop offset="0.714" stop-color="#081ef4"/><stop offset="0.786" stop-color="#072af5"/><stop offset="0.857" stop-color="#081ef4"/><stop offset="0.929" stop-color="#081ef4"/><stop offset="1.000" stop-color="#081ef4"/></linearGradient>
<linearGradient id="g4_28" gradientUnits="userSpaceOnUse" x1="205.8" x2="294.1" y1="0" y2="0"><stop offset="0.000" stop-color="#081ef4"/><stop offset="0.071" stop-color="#081ef4"/><stop offset="0.143" stop-color="#081ef4"/><stop offset="0.214" stop-color="#081ef4"/><stop offset="0.286" stop-color="#081ef4"/><stop offset="0.357" stop-color="#081ef4"/><stop offset="0.429" stop-color="#0080ff"/><stop offset="0.500" stop-color="#026bfd"/><stop offset="0.571" stop-color="#0080ff"/><stop offset="0.643" stop-color="#0633f6"/><stop offset="0.714" stop-color="#081ef4"/><stop offset="0.786" stop-color="#063af7"/><stop offset="0.857" stop-color="#081ef4"/><stop offset="0.929" stop-color="#081ef4"/><stop offset="1.000" stop-color="#081ef4"/></linearGradient>
<linearGradient id="g4_29" gradientUnits="userSpaceOnUse" x1="205.8" x2="294.1" y1="0" y2="0"><stop offset="0.000" stop-color="#081ef4"/><stop offset="0.071" stop-color="#081ef4"/><stop offset="0.143" stop-color="#081ef4"/><stop offset="0.214" stop-color="#081ef4"/><stop offset="0.286" stop-color="#081ef4"/><stop offset="0.357" stop-color="#081ef4"/><stop offset="0.429" stop-color="#0080ff"/><stop offset="0.500" stop-color="#007bfe"/><stop offset="0.571" stop-color="#0080ff"/><stop offset="0.643" stop-color="#0823f5"/><stop offset="0.714" stop-color="#081ef4"/><stop offset="0.786" stop-color="#044af9"/><stop offset="0.857" stop-color="#081ef4"/><stop offset="0.929" stop-color="#081ef4"/><stop offset="1.000" stop-color="#081ef4"/></linearGradient>
<linearGradient id="g4_30" gradientUnits="userSpaceOnUse" x1="205.8" x2="294.1" y1="0" y2="0"><stop offset="0.000" stop-color="#081ef4"/><stop offset="0.071" stop-color="#081ef4"/><stop offset="0.143" stop-color="#081ef4"/><stop offset="0.214" stop-color="#081ef4"/><stop offset="0.286" stop-color="#081ef4"/><stop offset="0.357" stop-color="#081ef4"/><stop offset="0.429" stop-color="#0080ff"/><stop offset="0.500" stop-color="#0080ff"/><stop offset="0.571" stop-color="#0175fe"/><stop offset="0.643" stop-color="#081ef4"/><stop offset="0.714" stop-color="#081ef4"/><stop offset="0.786" stop-color="#044ffa"/><stop offset="0.857" stop-color="#081ef4"/><stop offset="0.929" stop-color="#081ef4"/><stop offset="1.000" stop-color="#081ef4"/></linearGradient>
<linearGradient id="g4_31" gradientUnits="userSpaceOnUse" x1="205.8" x2="294.1" y1="0" y2="0"><stop offset="0.000" stop-color="#081ef4"/><stop offset="0.071" stop-color="#081ef4"/><stop offset="0.143" stop-color="#081ef4"/><stop offset="0.214" stop-color="#081ef4"/><stop offset="0.286" stop-color="#081ef4"/><stop offset="0.357" stop-color="#081ef4"/><stop offset="0.429" stop-color="#0080ff"/><stop offset="0.500" stop-color="#0080ff"/><stop offset="0.571" stop-color="#0265fc"/><stop offset="0.643" stop-color="#081ef4"/><stop offset="0.714" stop-color="#081ef4"/><stop offset="0.786" stop-color="#044ffa"/><stop offset="0.857" stop-color="#081ef4"/><stop offset="0.929" stop-color="#081ef4"/><stop offset="1.000" stop-color="#081ef4"/></linearGradient>
<linearGradient id="g4_32" gradientUnits="userSpaceOnUse" x1="205.8" x2="294.1" y1="0" y2="0"><stop offset="0.000" stop-color="#081ef4"/><stop offset="0.071" stop-color="#081ef4"/><stop offset="0.143" stop-color="#081ef4"/><stop offset="0.214" stop-color="#081ef4"/><stop offset="0.286" stop-color="#081ef4"/><stop offset="0.357" stop-color="#081ef4"/><stop offset="0.429" stop-color="#0080ff"/><stop offset="0.500" stop-color="#0080ff"/><stop offset="0.571" stop-color="#0355fa"/><stop offset="0.643" stop-color="#081ef4"/><stop offset="0.714" stop-color="#081ef4"/><stop offset="0.786" stop-color="#044ffa"/><stop offset="0.857" stop-color="#081ef4"/><stop offset="0.929" stop-color="#081ef4"/><stop offset="1.000" stop-color="#081ef4"/></linearGradient>
<linearGradient id="g4_33" gradientUnits="userSpaceOnUse" x1="205.8" x2="294.1" y1="0" y2="0"><stop offset="0.000" stop-color="#081ef4"/><stop offset="0.071" stop-color="#081ef4"/><stop offset="0.143" stop-color="#081ef4"/><stop offset="0.214" stop-color="#081ef4"/><stop offset="0.286" stop-color="#081ef4"/><stop offset="0.357" stop-color="#081ef4"/><stop offset="0.429" stop-color="#0080ff"/><stop offset="0.500" stop-color="#0080ff"/><stop offset="0.571" stop-color="#044ffa"/><stop offset="0.643" stop-color="#081ef4"/><stop offset="0.714" stop-color="#081ef4"/><stop offset="0.786" stop-color="#0546f8"/><stop offset="0.857" stop-color="#081ef4"/><stop offset="0.929" stop-color="#081ef4"/><stop offset="1.000" stop-color="#081ef4"/></linearGradient>
<linearGradient id="g4_34" gradientUnits="userSpaceOnUse" x1="205.8" x2="294.1" y1="0" y2="0"><stop offset="0.000" stop-color="#081ef4"/><stop offset="0.071" stop-color="#081ef4"/><stop offset="0.143" stop-color="#081ef4"/><stop offset="0.214" stop-color="#081ef4"/><stop offset="0.286" stop-color="#081ef4"/><stop offset="0.357" stop-color="#081ef4"/><stop offset="0.429" stop-color="#0080ff"/><stop offset="0.500" stop-color="#0080ff"/><stop offset="0.571" stop-color="#044ffa"/><stop offset="0.643" stop-color="#081ef4"/><stop offset="0.714" stop-color="#081ef4"/><stop offset="0.786" stop-color="#0636f7"/><stop offset="0.857" stop-color="#081ef4"/><stop offset="0.929" stop-color="#081ef4"/><stop offset="1.000" stop-color="#081ef4"/></linearGradient>
<linearGradient id="g4_35" gradientUnits="userSpaceOnUse" x1="205.8" x2="294.1" y1="0" y2="0"><stop offset="0.000" stop-color="#081ef4"/><stop offset="0.071" stop-color="#081ef4"/><stop offset="0.143" stop-color="#081ef4"/><stop offset="0.214" stop-color="#081ef4"/><stop offset="0.286" stop-color="#081ef4"/><stop offset="0.357" stop-color="#081ef4"/><stop offset="0.429" stop-color="#0080ff"/><stop offset="0.500" stop-color="#0080ff"/><stop offset="0.571" stop-color="#044ffa"/><stop offset="0.643" stop-color="#081ef4"/><stop offset="0.714" stop-color="#081ef4"/><stop offset="0.786" stop-color="#0726f5"/><stop offset="0.857" stop-color="#081ef4"/><stop offset="0.929" stop-color="#081ef4"/><stop offset="1.000" stop-color="#081ef4"/></linearGradient>
<linearGradient id="g4_36" gradientUnits="userSpaceOnUse" x1="205.8" x2="294.1" y1="0" y2="0"><stop offset="0.000" stop-color="#081ef4"/><stop offset="0.071" stop-color="#081ef4"/><stop offset="0.143" stop-color="#081ef4"/><stop offset="0.214" stop-color="#081ef4"/><stop offset="0.286" stop-color="#081ef4"/><stop offset="0.357" stop-color="#081ef4"/><stop offset="0.429" stop-color="#0080ff"/><stop offset="0.500" stop-color="#0178fe"/><stop offset="0.571" stop-color="#0547f9"/><stop offset="0.643" stop-color="#081ef4"/><stop offset="0.714" stop-color="#081ef4"/><stop offset="0.786" stop-color="#081ef4"/><stop offset="0.857" stop-color="#081ef4"/><stop offset="0.929" stop-color="#081ef4"/><stop offset="1.000" stop-color="#081ef4"/></linearGradient>
<linearGradient id="g4_37" gradientUnits="userSpaceOnUse" x1="205.8" x2="294.1" y1="0" y2="0"><stop offset="0.000" stop-color="#081ef4"/><stop offset="0.071" stop-color="#081ef4"/><stop offset="0.143" stop-color="#081ef4"/><stop offset="0.214" stop-color="#081ef4"/><stop offset="0.286" stop-color="#081ef4"/><stop offset="0.357" stop-color="#081ef4"/><stop offset="0.429" stop-color="#0080ff"/><stop offset="0.500" stop-color="#0268fc"/><stop offset="0.571" stop-color="#0637f7"/><stop offset="0.643" stop-color="#081ef4"/><stop offset="0.714" stop-color="#081ef4"/><stop offset="0.786" stop-color="#081ef4"/><stop offset="0.857" stop-color="#081ef4"/><stop offset="0.929" stop-color="#081ef4"/><stop offset="1.000" stop-color="#081ef4"/></linearGradient>
<linearGradient id="g4_38" gradientUnits="userSpaceOnUse" x1="205.8" x2="294.1" y1="0" y2="0"><stop offset="0.000" stop-color="#081ef4"/><stop offset="0.071" stop-color="#081ef4"/><stop offset="0.143" stop-color="#081ef4"/><stop offset="0.214" stop-color="#081ef4"/><stop offset="0.286" stop-color="#081ef4"/><stop offset="0.357" stop-color="#081ef4"/><stop offset="0.429" stop-color="#0080ff"/><stop offset="0.500" stop-color="#0358fb"/><stop offset="0.571" stop-color="#0727f5"/><stop offset="0.643" stop-color="#081ef4"/><stop offset="0.714" stop-color="#081ef4"/><stop offset="0.786" stop-color="#081ef4"/><stop offset="0.857" stop-color="#081ef4"/><stop offset="0.929" stop-color="#081ef4"/><stop offset="1.000" stop-color="#081ef4"/></linearGradient>
<linearGradient id="g4_39" gradientUnits="userSpaceOnUse" x1="205.8" x2="294.1" y1="0" y2="0"><stop offset="0.000" stop-color="#081ef4"/><stop offset="0.071" stop-color="#081ef4"/><stop offset="0.143" stop-color="#081ef4"/><stop offset="0.214" stop-color="#081ef4"/><stop offset="0.286" stop-color="#081ef4"/><stop offset="0.357" stop-color="#081ef4"/><stop offset="0.429" stop-color="#0179fe"/><stop offset="0.500" stop-color="#0548f9"/><stop offset="0.571" stop-color="#081ef4"/><stop offset="0.643" stop-color="#081ef4"/><stop offset="0.714" stop-color="#0725f5"/><stop offset="0.786" stop-color="#081ef4"/><stop offset="0.857" stop-color="#081ef4"/><stop offset="0.929" stop-color="#081ef4"/><stop offset="1.000" stop-color="#081ef4"/></linearGradient>
<linearGradient id="g4_40" gradientUnits="userSpaceOnUse" x1="205.8" x2="294.1" y1="0" y2="0"><stop offset="0.000" stop-color="#081ef4"/><stop offset="0.071" stop-color="#081ef4"/><stop offset="0.143" stop-color="#081ef4"/><stop offset="0.214" stop-color="#081ef4"/><stop offset="0.286" stop-color="#081ef4"/><stop offset="0.357" stop-color="#081ef4"/><stop offset="0.429" stop-color="#0269fc"/><stop offset="0.500" stop-color="#0638f7"/><stop offset="0.571" stop-color="#081ef4"/><stop offset="0.643" stop-color="#081ef4"/><stop offset="0.714" stop-color="#0635f7"/><stop offset="0.786" stop-color="#081ef4"/><stop offset="0.857" stop-color="#081ef4"/><stop offset="0.929" stop-color="#081ef4"/><stop offset="1.000" stop-color="#081ef4"/></linearGradient>
<linearGradient id="g4_41" gradientUnits="userSpaceOnUse" x1="205.8" x2="294.1" y1="0" y2="0"><stop offset="0.000" stop-color="#081ef4"/><stop offset="0.071" stop-color="#081ef4"/><stop offset="0.143" stop-color="#081ef4"/><stop offset="0.214" stop-color="#081ef4"/><stop offset="0.286" stop-color="#081ef4"/><stop offset="0.357" stop-color="#081ef4"/><stop offset="0.429" stop-color="#0359fb"/><stop offset="0.500" stop-color="#0728f5"/><stop offset="0.571" stop-color="#081ef4"/><stop offset="0.643" stop-color="#081ef4"/><stop offset="0.714" stop-color="#0545f8"/><stop offset="0.786" stop-color="#081ef4"/><stop offset="0.857" stop-color="#081ef4"/><stop offset="0.929" stop-color="#081ef4"/><stop offset="1.000" stop-color="#081ef4"/></linearGradient>
<linearGradient id="g4_42" gradientUnits="userSpaceOnUse" x1="205.8" x2="294.1" y1="0" y2="0"><stop offset="0.000" stop-color="#081ef4"/><stop offset="0.071" stop-color="#081ef4"/><stop offset="0.143" stop-color="#081ef4"/><stop offset="0.214" stop-color="#081ef4"/><stop offset="0.286" stop-color="#081ef4"/><stop offset="0.357" stop-color="#081ef4"/><stop offset="0.429" stop-color="#044ffa"/><stop offset="0.500" stop-color="#081ef4"/><stop offset="0.571" stop-color="#081ef4"/><stop offset="0.643" stop-color="#081ef4"/><stop offset="0.714" stop-color="#0455fa"/><stop offset="0.786" stop-color="#081ef4"/><stop offset="0.857" stop-color="#081ef4"/><stop offset="0.929" stop-color="#081ef4"/><stop offset="1.000" stop-color="#081ef4"/></linearGradient>
<linearGradient id="g4_43" gradientUnits="userSpaceOnUse" x1="205.8" x2="294.1" y1="0" y2="0"><stop offset="0.000" stop-color="#081ef4"/><stop offset="0.071" stop-color="#081ef4"/><stop offset="0.143" stop-color="#081ef4"/><stop offset="0.214" stop-color="#081ef4"/><stop offset="0.286" stop-color="#081ef4"/><stop offset="0.357" stop-color="#081ef4"/><stop offset="0.429" stop-color="#044ffa"/><stop offset="0.500" stop-color="#081ef4"/><stop offset="0.571" stop-color="#081ef4"/><stop offset="0.643" stop-color="#081ef4"/><stop offset="0.714" stop-color="#0265fc"/><stop offset="0.786" stop-color="#081ef4"/><stop offset="0.857" stop-color="#081ef4"/><stop offset="0.929" stop-color="#081ef4"/><stop offset="1.000" stop-color="#081ef4"/></linearGradient>
<linearGradient id="g4_44" gradientUnits="userSpaceOnUse" x1="205.8" x2="294.1" y1="0" y2="0"><stop offset="0.000" stop-color="#081ef4"/><stop offset="0.071" stop-color="#081ef4"/><stop offset="0.143" stop-color="#081ef4"/><stop offset="0.214" stop-color="#081ef4"/><stop offset="0.286" stop-color="#081ef4"/><stop offset="0.357" stop-color="#081ef4"/><stop offset="0.429" stop-color="#044ffa"/><stop offset="0.500" stop-color="#081ef4"/><stop offset="0.571" stop-color="#081ef4"/><stop offset="0.643" stop-color="#081ef4"/><stop offset="0.714" stop-color="#0175fe"/><stop offset="0.786" stop-color="#081ef4"/><stop offset="0.857" stop-color="#081ef4"/><stop offset="0.929" stop-color="#081ef4"/><stop offset="1.000" stop-color="#081ef4"/></linearGradient>
<linearGradient id="g4_45" gradientUnits="userSpaceOnUse" x1="205.8" x2="294.1" y1="0" y2="0"><stop offset="0.000" stop-color="#081ef4"/><stop offset="0.071" stop-color="#081ef4"/><stop offset="0.143" stop-color="#081ef4"/><stop offset="0.214" stop-color="#081ef4"/><stop offset="0.286" stop-color="#081ef4"/><stop offset="0.357" stop-color="#081ef4"/><stop offset="0.429" stop-color="#044bf9"/><stop offset="0.500" stop-color="#081ef4"/><stop offset="0.571" stop-color="#081ef4"/><stop offset="0.643" stop-color="#081ef4"/><stop offset="0.714" stop-color="#0177fe"/><stop offset="0.786" stop-color="#081ef4"/><stop offset="0.857" stop-color="#081ef4"/><stop offset="0.929" stop-color="#081ef4"/><stop offset="1.000" stop-color="#081ef4"/></linearGradient>
<linearGradient id="g4_46" gradientUnits="userSpaceOnUse" x1="205.8" x2="294.1" y1="0" y2="0"><stop offset="0.000" stop-color="#081ef4"/><stop offset="0.071" stop-color="#081ef4"/><stop offset="0.143" stop-color="#081ef4"/><stop offset="0.214" stop-color="#081ef4"/><stop offset="0.286" stop-color="#081ef4"/><stop offset="0.357" stop-color="#081ef4"/><stop offset="0.429" stop-color="#063bf7"/><stop offset="0.500" stop-color="#081ef4"/><stop offset="0.571" stop-color="#081ef4"/><stop offset="0.643" stop-color="#081ef4"/><stop offset="0.714" stop-color="#0357fa"/><stop offset="0.786" stop-color="#081ef4"/><stop offset="0.857" stop-color="#081ef4"/><stop offset="0.929" stop-color="#081ef4"/><stop offset="1.000" stop-color="#081ef4"/></linearGradient>
<linearGradient id="g4_47" gradientUnits="userSpaceOnUse" x1="205.8" x2="294.1" y1="0" y2="0"><stop offset="0.000" stop-color="#081ef4"/><stop offset="0.071" stop-color="#081ef4"/><stop offset="0.143" stop-color="#081ef4"/><stop offset="0.214" stop-color="#081ef4"/><stop offset="0.286" stop-color="#081ef4"/><stop offset="0.357" stop-color="#081ef4"/><stop offset="0.429" stop-color="#072bf5"/><stop offset="0.500" stop-color="#081ef4"/><stop offset="0.571" stop-color="#081ef4"/><stop offset="0.643" stop-color="#081ef4"/><stop offset="0.714" stop-color="#0637f7"/><stop offset="0.786" stop-color="#081ef4"/><stop offset="0.857" stop-color="#081ef4"/><stop offset="0.929" stop-color="#081ef4"/><stop offset="1.000" stop-color="#081ef4"/></linearGradient>
<linearGradient id="g4_48" gradientUnits="userSpaceOnUse" x1="205.8" x2="294.1" y1="0" y2="0"><stop offset="0.000" stop-color="#081ef4"/><stop offset="0.071" stop-color="#081ef4"/><stop offset="0.143" stop-color="#081ef4"/><stop offset="0.214" stop-color="#081ef4"/><stop offset="0.286" stop-color="#081ef4"/><stop offset="0.357" stop-color="#081ef4"/><stop offset="0.429" stop-color="#081ef4"/><stop offset="0.500" stop-color="#081ef4"/><stop offset="0.571" stop-color="#081ef4"/><stop offset="0.643" stop-color="#081ef4"/><stop offset="0.714" stop-color="#081ef4"/><stop offset="0.786" stop-color="#081ef4"/><stop offset="0.857" stop-color="#081ef4"/><stop offset="0.929" stop-color="#081ef4"/><stop offset="1.000" stop-color="#081ef4"/></linearGradient>
<linearGradient id="g5_0" gradientUnits="userSpaceOnUse" x1="369.5" x2="495.3" y1="0" y2="0"><stop offset="0.000" stop-color="#081ef4"/><stop offset="0.050" stop-color="#081ef4"/><stop offset="0.100" stop-color="#081ef4"/><stop offset="0.150" stop-color="#081ef4"/><stop offset="0.200" stop-color="#081ef4"/><stop offset="0.250" stop-color="#081ef4"/><stop offset="0.300" stop-color="#081ef4"/><stop offset="0.350" stop-color="#044ffa"/><stop offset="0.400" stop-color="#081ef4"/><stop offset="0.450" stop-color="#044ffa"/><stop offset="0.500" stop-color="#044ffa"/><stop offset="0.550" stop-color="#044ffa"/><stop offset="0.600" stop-color="#044ffa"/><stop offset="0.650" stop-color="#00e4ff"/><stop offset="0.700" stop-color="#00e4ff"/><stop offset="0.750" stop-color="#00e4ff"/><stop offset="0.800" stop-color="#00e4ff"/><stop offset="0.850" stop-color="#00e4ff"/><stop offset="0.900" stop-color="#00e4ff"/><stop offset="0.950" stop-color="#00e4ff"/><stop offset="1.000" stop-color="#00e4ff"/></linearGradient>
<linearGradient id="g5_1" gradientUnits="userSpaceOnUse" x1="369.5" x2="495.3" y1="0" y2="0"><stop offset="0.000" stop-color="#081ef4"/><stop offset="0.050" stop-color="#081ef4"/><stop offset="0.100" stop-color="#081ef4"/><stop offset="0.150" stop-color="#081ef4"/><stop offset="0.200" stop-color="#081ef4"/><stop offset="0.250" stop-color="#081ef4"/><stop offset="0.300" stop-color="#081ef4"/><stop offset="0.350" stop-color="#044ffa"/><stop offset="0.400" stop-color="#081ef4"/><stop offset="0.450" stop-color="#044ffa"/><stop offset="0.500" stop-color="#044ffa"/><stop offset="0.550" stop-color="#044ffa"/><stop offset="0.600" stop-color="#044ffa"/><stop offset="0.650" stop-color="#00e4ff"/><stop offset="0.700" stop-color="#00e4ff"/><stop offset="0.750" stop-color="#00e4ff"/><stop offset="0.800" stop-color="#00e4ff"/><stop offset="0.850" stop-color="#00e4ff"/><stop offset="0.900" stop-color="#00e4ff"/><stop offset="0.950" stop-color="#00e4ff"/><stop offset="1.000" stop-color="#00e4ff"/></linearGradient>
<linearGradient id="g5_2" gradientUnits="userSpaceOnUse" x1="369.5" x2="495.3" y1="0" y2="0"><stop offset="0.000" stop-color="#081ef4"/><stop offset="0.050" stop-color="#081ef4"/><stop offset="0.100" stop-color="#081ef4"/><stop offset="0.150" stop-color="#081ef4"/><stop offset="0.200" stop-color="#081ef4"/><stop offset="0.250" stop-color="#081ef4"/><stop offset="0.300" stop-color="#081ef4"/><stop offset="0.350" stop-color="#044ffa"/><stop offset="0.400" stop-color="#081ef4"/><stop offset="0.450" stop-color="#044ffa"/><stop offset="0.500" stop-color="#044ffa"/><stop offset="0.550" stop-color="#044ffa"/><stop offset="0.600" stop-color="#044ffa"/><stop offset="0.650" stop-color="#00deff"/><stop offset="0.700" stop-color="#00e4ff"/><stop offset="0.750" stop-color="#00e4ff"/><stop offset="0.800" stop-color="#00e4ff"/><stop offset="0.850" stop-color="#00e4ff"/><stop offset="0.900" stop-color="#00e4ff"/><stop offset="0.950" stop-color="#00e4ff"/><stop offset="1.000" stop-color="#00e4ff"/></linearGradient>
<linearGradient id="g5_3" gradientUnits="userSpaceOnUse" x1="369.5" x2="495.3" y1="0" y2="0"><stop offset="0.000" stop-color="#081ef4"/><stop offset="0.050" stop-color="#081ef4"/><stop offset="0.100" stop-color="#081ef4"/><stop offset="0.150" stop-color="#081ef4"/><stop offset="0.200" stop-color="#081ef4"/><stop offset="0.250" stop-color="#081ef4"/><stop offset="0.300" stop-color="#081ef4"/><stop offset="0.350" stop-color="#044ffa"/><stop offset="0.400" stop-color="#081ef4"/><stop offset="0.450" stop-color="#044ffa"/><stop offset="0.500" stop-color="#044ffa"/><stop offset="0.550" stop-color="#044ffa"/><stop offset="0.600" stop-color="#044ffa"/><stop offset="0.650" stop-color="#00ceff"/><stop offset="0.700" stop-color="#00e4ff"/><stop offset="0.750" stop-color="#00e4ff"/><stop offset="0.800" stop-color="#00e4ff"/><stop offset="0.850" stop-color="#00e4ff"/><stop offset="0.900" stop-color="#00e4ff"/><stop offset="0.950" stop-color="#00e4ff"/><stop offset="1.000" stop-color="#00e4ff"/></linearGradient>
<linearGradient id="g5_4" gradientUnits="userSpaceOnUse" x1="369.5" x2="495.3" y1="0" y2="0"><stop offset="0.000" stop-color="#081ef4"/><stop offset="0.050" stop-color="#081ef4"/><stop offset="0.100" stop-color="#081ef4"/><stop offset="0.150" stop-color="#081ef4"/><stop offset="0.200" stop-color="#081ef4"/><stop offset="0.250" stop-color="#081ef4"/><stop offset="0.300" stop-color="#081ef4"/><stop offset="0.350" stop-color="#044ffa"/><stop offset="0.400" stop-color="#081ef4"/><stop offset="0.450" stop-color="#044ffa"/><stop offset="0.500" stop-color="#044ffa"/><stop offset="0.550" stop-color="#044ffa"/><stop offset="0.600" stop-color="#044ffa"/><stop offset="0.650" stop-color="#00beff"/><stop offset="0.700" stop-color="#00e4ff"/><stop offset="0.750" stop-color="#00e4ff"/><stop offset="0.800" stop-color="#00e4ff"/><stop offset="0.850" stop-color="#00e4ff"/><stop offset="0.900" stop-color="#00e4ff"/><stop offset="0.950" stop-color="#00e4ff"/><stop offset="1.000" stop-color="#00e4ff"/></linearGradient>
<linearGradient id="g5_5" gradientUnits="userSpaceOnUse" x1="369.5" x2="495.3" y1="0" y2="0"><stop offset="0.000" stop-color="#081ef4"/><stop offset="0.050" stop-color="#081ef4"/><stop offset="0.100" stop-color="#081ef4"/><stop offset="0.150" stop-color="#081ef4"/><stop offset="0.200" stop-color="#081ef4"/><stop offset="0.250" stop-color="#081ef4"/><stop offset="0.300" stop-color="#081ef4"/><stop offset="0.350" stop-color="#044bf9"/><stop offset="0.400" stop-color="#0822f4"/><stop offset="0.450" stop-color="#044ffa"/><stop offset="0.500" stop-color="#044ffa"/><stop offset="0.550" stop-color="#044ffa"/><stop offset="0.600" stop-color="#0453fa"/><stop offset="0.650" stop-color="#00b2ff"/><stop offset="0.700" stop-color="#00e5fa"/><stop offset="0.750" stop-color="#00e6f6"/><stop offset="0.800" stop-color="#00e6f6"/><stop offset="0.850" stop-color="#00e6f6"/><stop offset="0.900" stop-color="#00e6f6"/><stop offset="0.950" stop-color="#00e6f6"/><stop offset="1.000" stop-color="#00e6f6"/></linearGradient>
<linearGradient id="g5_6" gradientUnits="userSpaceOnUse" x1="369.5" x2="495.3" y1="0" y2="0"><stop offset="0.000" stop-color="#081ef4"/><stop offset="0.050" stop-color="#081ef4"/><stop offset="0.100" stop-color="#081ef4"/><stop offset="0.150" stop-color="#081ef4"/><stop offset="0.200" stop-color="#081ef4"/><stop offset="0.250" stop-color="#081ef4"/><stop offset="0.300" stop-color="#081ef4"/><stop offset="0.350" stop-color="#063bf7"/><stop offset="0.400" stop-color="#0632f6"/><stop offset="0.450" stop-color="#044ffa"/><stop offset="0.500" stop-color="#044ffa"/><stop offset="0.550" stop-color="#044ffa"/><stop offset="0.600" stop-color="#0263fc"/><stop offset="0.650" stop-color="#00b2ff"/><stop offset="0.700" stop-color="#00eae9"/><stop offset="0.750" stop-color="#00efd4"/><stop offset="0.800" stop-color="#00efd4"/><stop offset="0.850" stop-color="#00efd4"/><stop offset="0.900" stop-color="#00efd4"/><stop offset="0.950" stop-color="#00efd4"/><stop offset="1.000" stop-color="#00efd4"/></linearGradient>
<linearGradient id="g5_7" gradientUnits="userSpaceOnUse" x1="369.5" x2="495.3" y1="0" y2="0"><stop offset="0.000" stop-color="#081ef4"/><stop offset="0.050" stop-color="#081ef4"/><stop offset="0.100" stop-color="#081ef4"/><stop offset="0.150" stop-color="#081ef4"/><stop offset="0.200" stop-color="#081ef4"/><stop offset="0.250" stop-color="#081ef4"/><stop offset="0.300" stop-color="#081ef4"/><stop offset="0.350" stop-color="#072bf5"/><stop offset="0.400" stop-color="#0542f8"/><stop offset="0.450" stop-color="#044ffa"/><stop offset="0.500" stop-color="#044ffa"/><stop offset="0.550" stop-color="#044ffa"/><stop offset="0.600" stop-color="#0173fe"/><stop offset="0.650" stop-color="#00b2ff"/><stop offset="0.700" stop-color="#00eed8"/><stop offset="0.750" stop-color="#00f8b1"/><stop offset="0.800" stop-color="#00f8b1"/><stop offset="0.850" stop-color="#00f8b1"/><stop offset="0.900" stop-color="#00f8b1"/><stop offset="0.950" stop-color="#00f8b1"/><stop offset="1.000" stop-color="#00f8b1"/></linearGradient>
<linearGradient id="g5_8" gradientUnits="userSpaceOnUse" x1="369.5" x2="495.3" y1="0" y2="0"><stop offset="0.000" stop-color="#081ef4"/><stop offset="0.050" stop-color="#081ef4"/><stop offset="0.100" stop-color="#081ef4"/><stop offset="0.150" stop-color="#081ef4"/><stop offset="0.200" stop-color="#081ef4"/><stop offset="0.250" stop-color="#081ef4"/><stop offset="0.300" stop-color="#081ef4"/><stop offset="0.350" stop-color="#081ef4"/><stop offset="0.400" stop-color="#044ffa"/><stop offset="0.450" stop-color="#044cf9"/><stop offset="0.500" stop-color="#044ffa"/><stop offset="0.550" stop-color="#044ffa"/><stop offset="0.600" stop-color="#0080ff"/><stop offset="0.650" stop-color="#00b5ff"/><stop offset="0.700" stop-color="#00f3c4"/><stop offset="0.750" stop-color="#00ff92"/><stop offset="0.800" stop-color="#00ff92"/><stop offset="0.850" stop-color="#00ff92"/><stop offset="0.900" stop-color="#00ff92"/><stop offset="0.950" stop-color="#00ff92"/><stop offset="1.000" stop-color="#00ff92"/></linearGradient>
<linearGradient id="g5_9" gradientUnits="userSpaceOnUse" x1="369.5" x2="495.3" y1="0" y2="0"><stop offset="0.000" stop-color="#081ef4"/><stop offset="0.050" stop-color="#081ef4"/><stop offset="0.100" stop-color="#081ef4"/><stop offset="0.150" stop-color="#081ef4"/><stop offset="0.200" stop-color="#081ef4"/><stop offset="0.250" stop-color="#081ef4"/><stop offset="0.300" stop-color="#081ef4"/><stop offset="0.350" stop-color="#081ef4"/><stop offset="0.400" stop-color="#044ffa"/><stop offset="0.450" stop-color="#063cf7"/><stop offset="0.500" stop-color="#044ffa"/><stop offset="0.550" stop-color="#044ffa"/><stop offset="0.600" stop-color="#0080ff"/><stop offset="0.650" stop-color="#00c5ff"/><stop offset="0.700" stop-color="#00fca2"/><stop offset="0.750" stop-color="#00ff7d"/><stop offset="0.800" stop-color="#00ff7d"/><stop offset="0.850" stop-color="#00ff7d"/><stop offset="0.900" stop-color="#00ff7d"/><stop offset="0.950" stop-color="#00ff7d"/><stop offset="1.000" stop-color="#00ff7d"/></linearGradient>
<linearGradient id="g5_10" gradientUnits="userSpaceOnUse" x1="369.5" x2="495.3" y1="0" y2="0"><stop offset="0.000" stop-color="#081ef4"/><stop offset="0.050" stop-color="#081ef4"/><stop offset="0.100" stop-color="#081ef4"/><stop offset="0.150" stop-color="#081ef4"/><stop offset="0.200" stop-color="#081ef4"/><stop offset="0.250" stop-color="#081ef4"/><stop offset="0.300" stop-color="#081ef4"/><stop offset="0.350" stop-color="#081ef4"/><stop offset="0.400" stop-color="#044ffa"/><stop offset="0.450" stop-color="#072cf6"/><stop offset="0.500" stop-color="#044ffa"/><stop offset="0.550" stop-color="#044ffa"/><stop offset="0.600" stop-color="#0080ff"/><stop offset="0.650" stop-color="#00d6ff"/><stop offset="0.700" stop-color="#00ff7a"/><stop offset="0.750" stop-color="#00ff68"/><stop offset="0.800" stop-color="#00ff68"/><stop offset="0.850" stop-color="#00ff68"/><stop offset="0.900" stop-color="#00ff68"/><stop offset="0.950" stop-color="#00ff68"/><stop offset="1.000" stop-color="#00ff68"/></linearGradient>
<linearGradient id="g5_11" gradientUnits="userSpaceOnUse" x1="369.5" x2="495.3" y1="0" y2="0"><stop offset="0.000" stop-color="#081ef4"/><stop offset="0.050" stop-color="#081ef4"/><stop offset="0.100" stop-color="#081ef4"/><stop offset="0.150" stop-color="#081ef4"/><stop offset="0.200" stop-color="#081ef4"/><stop offset="0.250" stop-color="#081ef4"/><stop offset="0.300" stop-color="#0820f4"/><stop offset="0.350" stop-color="#081ef4"/><stop offset="0.400" stop-color="#044ffa"/><stop offset="0.450" stop-color="#081ef4"/><stop offset="0.500" stop-color="#044ffa"/><stop offset="0.550" stop-color="#044ffa"/><stop offset="0.600" stop-color="#0080ff"/><stop offset="0.650" stop-color="#00e4ff"/><stop offset="0.700" stop-color="#00ff57"/><stop offset="0.750" stop-color="#00ff57"/><stop offset="0.800" stop-color="#00ff57"/><stop offset="0.850" stop-color="#00ff57"/><stop offset="0.900" stop-color="#00ff57"/><stop offset="0.950" stop-color="#00ff57"/><stop offset="1.000" stop-color="#00ff57"/></linearGradient>
<linearGradient id="g5_12" gradientUnits="userSpaceOnUse" x1="369.5" x2="495.3" y1="0" y2="0"><stop offset="0.000" stop-color="#081ef4"/><stop offset="0.050" stop-color="#081ef4"/><stop offset="0.100" stop-color="#081ef4"/><stop offset="0.150" stop-color="#081ef4"/><stop offset="0.200" stop-color="#081ef4"/><stop offset="0.250" stop-color="#081ef4"/><stop offset="0.300" stop-color="#0730f6"/><stop offset="0.350" stop-color="#081ef4"/><stop offset="0.400" stop-color="#044ffa"/><stop offset="0.450" stop-color="#081ef4"/><stop offset="0.500" stop-color="#044ffa"/><stop offset="0.550" stop-color="#044ffa"/><stop offset="0.600" stop-color="#0080ff"/><stop offset="0.650" stop-color="#00e4ff"/><stop offset="0.700" stop-color="#00ff6d"/><stop offset="0.750" stop-color="#00ff6d"/><stop offset="0.800" stop-color="#00ff6d"/><stop offset="0.850" stop-color="#00ff6d"/><stop offset="0.900" stop-color="#00ff6d"/><stop offset="0.950" stop-color="#00ff6d"/><stop offset="1.000" stop-color="#00ff6d"/></linearGradient>
<linearGradient id="g5_13" gradientUnits="userSpaceOnUse" x1="369.5" x2="495.3" y1="0" y2="0"><stop offset="0.000" stop-color="#081ef4"/><stop offset="0.050" stop-color="#081ef4"/><stop offset="0.100" stop-color="#081ef4"/><stop offset="0.150" stop-color="#081ef4"/><stop offset="0.200" stop-color="#081ef4"/><stop offset="0.250" stop-color="#081ef4"/><stop offset="0.300" stop-color="#0540f8"/><stop offset="0.350" stop-color="#081ef4"/><stop offset="0.400" stop-color="#044ffa"/><stop offset="0.450" stop-color="#081ef4"/><stop offset="0.500" stop-color="#044ffa"/><stop offset="0.550" stop-color="#044ffa"/><stop offset="0.600" stop-color="#0080ff"/><stop offset="0.650" stop-color="#00e4ff"/><stop offset="0.700" stop-color="#00ff82"/><stop offset="0.750" stop-color="#00ff82"/><stop offset="0.800" stop-color="#00ff82"/><stop offset="0.850" stop-color="#00ff82"/><stop offset="0.900" stop-color="#00ff82"/><stop offset="0.950" stop-color="#00ff82"/><stop offset="1.000" stop-color="#00ff82"/></linearGradient>
<linearGradient id="g5_14" gradientUnits="userSpaceOnUse" x1="369.5" x2="495.3" y1="0" y2="0"><stop offset="0.000" stop-color="#081ef4"/><stop offset="0.050" stop-color="#081ef4"/><stop offset="0.100" stop-color="#081ef4"/><stop offset="0.150" stop-color="#081ef4"/><stop offset="0.200" stop-color="#081ef4"/><stop offset="0.250" stop-color="#081ef4"/><stop offset="0.300" stop-color="#044ffa"/><stop offset="0.350" stop-color="#081ef4"/><stop offset="0.400" stop-color="#0450fa"/><stop offset="0.450" stop-color="#081ef4"/><stop offset="0.500" stop-color="#044ffa"/><stop offset="0.550" stop-color="#044ffa"/><stop offset="0.600" stop-color="#007fff"/><stop offset="0.650" stop-color="#00e4ff"/><stop offset="0.700" stop-color="#00ff97"/><stop offset="0.750" stop-color="#00ff97"/><stop offset="0.800" stop-color="#00ff97"/><stop offset="0.850" stop-color="#00ff97"/><stop offset="0.900" stop-color="#00ff97"/><stop offset="0.950" stop-color="#00ff97"/><stop offset="1.000" stop-color="#00ff97"/></linearGradient>
<linearGradient id="g5_15" gradientUnits="userSpaceOnUse" x1="369.5" x2="495.3" y1="0" y2="0"><stop offset="0.000" stop-color="#081ef4"/><stop offset="0.050" stop-color="#081ef4"/><stop offset="0.100" stop-color="#081ef4"/><stop offset="0.150" stop-color="#081ef4"/><stop offset="0.200" stop-color="#081ef4"/><stop offset="0.250" stop-color="#081ef4"/><stop offset="0.300" stop-color="#044ffa"/><stop offset="0.350" stop-color="#081ef4"/><stop offset="0.400" stop-color="#0360fb"/><stop offset="0.450" stop-color="#081ef4"/><stop offset="0.500" stop-color="#044ffa"/><stop offset="0.550" stop-color="#044ffa"/><stop offset="0.600" stop-color="#016ffd"/><stop offset="0.650" stop-color="#00e4ff"/><stop offset="0.700" stop-color="#00f6b9"/><stop offset="0.750" stop-color="#00faa8"/><stop offset="0.800" stop-color="#00faa8"/><stop offset="0.850" stop-color="#00faa8"/><stop offset="0.900" stop-color="#00faa8"/><stop offset="0.950" stop-color="#00faa8"/><stop offset="1.000" stop-color="#00faa8"/></linearGradient>
<linearGradient id="g5_16" gradientUnits="userSpaceOnUse" x1="369.5" x2="495.3" y1="0" y2="0"><stop offset="0.000" stop-color="#081ef4"/><stop offset="0.050" stop-color="#081ef4"/><stop offset="0.100" stop-color="#081ef4"/><stop offset="0.150" stop-color="#081ef4"/><stop offset="0.200" stop-color="#081ef4"/><stop offset="0.250" stop-color="#081ef4"/><stop offset="0.300" stop-color="#044ffa"/><stop offset="0.350" stop-color="#081ef4"/><stop offset="0.400" stop-color="#016ffd"/><stop offset="0.450" stop-color="#081ef4"/><stop offset="0.500" stop-color="#044ffa"/><stop offset="0.550" stop-color="#044ffa"/><stop offset="0.600" stop-color="#0360fb"/><stop offset="0.650" stop-color="#00e4ff"/><stop offset="0.700" stop-color="#00eddb"/><stop offset="0.750" stop-color="#00f6b9"/><stop offset="0.800" stop-color="#00f6b9"/><stop offset="0.850" stop-color="#00f6b9"/><stop offset="0.900" stop-color="#00f6b9"/><stop offset="0.950" stop-color="#00f6b9"/><stop offset="1.000" stop-color="#00f6b9"/></linearGradient>
<linearGradient id="g5_17" gradientUnits="userSpaceOnUse" x1="369.5" x2="495.3" y1="0" y2="0"><stop offset="0.000" stop-color="#081ef4"/><stop offset="0.050" stop-color="#081ef4"/><stop offset="0.100" stop-color="#081ef4"/><stop offset="0.150" stop-color="#081ef4"/><stop offset="0.200" stop-color="#081ef4"/><stop offset="0.250" stop-color="#081ef4"/><stop offset="0.300" stop-color="#044ffa"/><stop offset="0.350" stop-color="#081ef4"/><stop offset="0.400" stop-color="#007fff"/><stop offset="0.450" stop-color="#081ef4"/><stop offset="0.500" stop-color="#044ffa"/><stop offset="0.550" stop-color="#044ffa"/><stop offset="0.600" stop-color="#0450fa"/><stop offset="0.650" stop-color="#00e4ff"/><stop offset="0.700" stop-color="#00e4fe"/><stop offset="0.750" stop-color="#00f2ca"/><stop offset="0.800" stop-color="#00f2ca"/><stop offset="0.850" stop-color="#00f2ca"/><stop offset="0.900" stop-color="#00f2ca"/><stop offset="0.950" stop-color="#00f2ca"/><stop offset="1.000" stop-color="#00f2ca"/></linearGradient>
<linearGradient id="g5_18" gradientUnits="userSpaceOnUse" x1="369.5" x2="495.3" y1="0" y2="0"><stop offset="0.000" stop-color="#081ef4"/><stop offset="0.050" stop-color="#081ef4"/><stop offset="0.100" stop-color="#081ef4"/><stop offset="0.150" stop-color="#081ef4"/><stop offset="0.200" stop-color="#072df6"/><stop offset="0.250" stop-color="#081ef4"/><stop offset="0.300" stop-color="#0540f8"/><stop offset="0.350" stop-color="#081ef4"/><stop offset="0.400" stop-color="#0171fd"/><stop offset="0.450" stop-color="#081ef4"/><stop offset="0.500" stop-color="#044ffa"/><stop offset="0.550" stop-color="#044ffa"/><stop offset="0.600" stop-color="#026efd"/><stop offset="0.650" stop-color="#00e4ff"/><stop offset="0.700" stop-color="#00e8ef"/><stop offset="0.750" stop-color="#00f2ca"/><stop offset="0.800" stop-color="#00eddb"/><stop offset="0.850" stop-color="#00eddb"/><stop offset="0.900" stop-color="#00eddb"/><stop offset="0.950" stop-color="#00eddb"/><stop offset="1.000" stop-color="#00eddb"/></linearGradient>
<linearGradient id="g5_19" gradientUnits="userSpaceOnUse" x1="369.5" x2="495.3" y1="0" y2="0"><stop offset="0.000" stop-color="#081ef4"/><stop offset="0.050" stop-color="#081ef4"/><stop offset="0.100" stop-color="#081ef4"/><stop offset="0.150" stop-color="#081ef4"/><stop offset="0.200" stop-color="#053df7"/><stop offset="0.250" stop-color="#081ef4"/><stop offset="0.300" stop-color="#0730f6"/><stop offset="0.350" stop-color="#081ef4"/><stop offset="0.400" stop-color="#0361fc"/><stop offset="0.450" stop-color="#081ef4"/><stop offset="0.500" stop-color="#044ffa"/><stop offset="0.550" stop-color="#044ffa"/><stop offset="0.600" stop-color="#008eff"/><stop offset="0.650" stop-color="#00e4ff"/><stop offset="0.700" stop-color="#00edde"/><stop offset="0.750" stop-color="#00f2ca"/><stop offset="0.800" stop-color="#00e9ec"/><stop offset="0.850" stop-color="#00e9ec"/><stop offset="0.900" stop-color="#00e9ec"/><stop offset="0.950" stop-color="#00e9ec"/><stop offset="1.000" stop-color="#00e9ec"/></linearGradient>
<linearGradient id="g5_20" gradientUnits="userSpaceOnUse" x1="369.5" x2="495.3" y1="0" y2="0"><stop offset="0.000" stop-color="#081ef4"/><stop offset="0.050" stop-color="#081ef4"/><stop offset="0.100" stop-color="#081ef4"/><stop offset="0.150" stop-color="#081ef4"/><stop offset="0.200" stop-color="#044df9"/><stop offset="0.250" stop-color="#081ef4"/><stop offset="0.300" stop-color="#0820f4"/><stop offset="0.350" stop-color="#081ef4"/><stop offset="0.400" stop-color="#0451fa"/><stop offset="0.450" stop-color="#081ef4"/><stop offset="0.500" stop-color="#044ffa"/><stop offset="0.550" stop-color="#044ffa"/><stop offset="0.600" stop-color="#00aeff"/><stop offset="0.650" stop-color="#00e4ff"/><stop offset="0.700" stop-color="#00f1cd"/><stop offset="0.750" stop-color="#00f2ca"/><stop offset="0.800" stop-color="#00e5fd"/><stop offset="0.850" stop-color="#00e5fd"/><stop offset="0.900" stop-color="#00e5fd"/><stop offset="0.950" stop-color="#00e5fd"/><stop offset="1.000" stop-color="#00e5fd"/></linearGradient>
<linearGradient id="g5_21" gradientUnits="userSpaceOnUse" x1="369.5" x2="495.3" y1="0" y2="0"><stop offset="0.000" stop-color="#081ef4"/><stop offset="0.050" stop-color="#081ef4"/><stop offset="0.100" stop-color="#081ef4"/><stop offset="0.150" stop-color="#081ef4"/><stop offset="0.200" stop-color="#044ffa"/><stop offset="0.250" stop-color="#081ef4"/><stop offset="0.300" stop-color="#081ef4"/><stop offset="0.350" stop-color="#081ef4"/><stop offset="0.400" stop-color="#035dfb"/><stop offset="0.450" stop-color="#081ef4"/><stop offset="0.500" stop-color="#044ffa"/><stop offset="0.550" stop-color="#044ffa"/><stop offset="0.600" stop-color="#00b2ff"/><stop offset="0.650" stop-color="#00e4ff"/><stop offset="0.700" stop-color="#00f5bc"/><stop offset="0.750" stop-color="#00f5bc"/><stop offset="0.800" stop-color="#00e4ff"/><stop offset="0.850" stop-color="#00e4ff"/><stop offset="0.900" stop-color="#00e4ff"/><stop offset="0.950" stop-color="#00e4ff"/><stop offset="1.000" stop-color="#00e4ff"/></linearGradient>
<linearGradient id="g5_22" gradientUnits="userSpaceOnUse" x1="369.5" x2="495.3" y1="0" y2="0"><stop offset="0.000" stop-color="#081ef4"/><stop offset="0.050" stop-color="#081ef4"/><stop offset="0.100" stop-color="#081ef4"/><stop offset="0.150" stop-color="#081ef4"/><stop offset="0.200" stop-color="#044ffa"/><stop offset="0.250" stop-color="#081ef4"/><stop offset="0.300" stop-color="#081ef4"/><stop offset="0.350" stop-color="#081ef4"/><stop offset="0.400" stop-color="#026dfd"/><stop offset="0.450" stop-color="#081ef4"/><stop offset="0.500" stop-color="#044ffa"/><stop offset="0.550" stop-color="#044ffa"/><stop offset="0.600" stop-color="#00b2ff"/><stop offset="0.650" stop-color="#00e4ff"/><stop offset="0.700" stop-color="#00faaa"/><stop offset="0.750" stop-color="#00faaa"/><stop offset="0.800" stop-color="#00e4ff"/><stop offset="0.850" stop-color="#00e4ff"/><stop offset="0.900" stop-color="#00e4ff"/><stop offset="0.950" stop-color="#00e4ff"/><stop offset="1.000" stop-color="#00e4ff"/></linearGradient>
<linearGradient id="g5_23" gradientUnits="userSpaceOnUse" x1="369.5" x2="495.3" y1="0" y2="0"><stop offset="0.000" stop-color="#081ef4"/><stop offset="0.050" stop-color="#081ef4"/><stop offset="0.100" stop-color="#081ef4"/><stop offset="0.150" stop-color="#081ef4"/><stop offset="0.200" stop-color="#044ffa"/><stop offset="0.250" stop-color="#081ef4"/><stop offset="0.300" stop-color="#081ef4"/><stop offset="0.350" stop-color="#081ef4"/><stop offset="0.400" stop-color="#007dff"/><stop offset="0.450" stop-color="#081ef4"/><stop offset="0.500" stop-color="#044ffa"/><stop offset="0.550" stop-color="#044ffa"/><stop offset="0.600" stop-color="#00b2ff"/><stop offset="0.650" stop-color="#00e4ff"/><stop offset="0.700" stop-color="#00fe99"/><stop offset="0.750" stop-color="#00fe99"/><stop offset="0.800" stop-color="#00e4ff"/><stop offset="0.850" stop-color="#00e4ff"/><stop offset="0.900" stop-color="#00e4ff"/><stop offset="0.950" stop-color="#00e4ff"/><stop offset="1.000" stop-color="#00e4ff"/></linearGradient>
<linearGradient id="g5_24" gradientUnits="userSpaceOnUse" x1="369.5" x2="495.3" y1="0" y2="0"><stop offset="0.000" stop-color="#081ef4"/><stop offset="0.050" stop-color="#081ef4"/><stop offset="0.100" stop-color="#081ef4"/><stop offset="0.150" stop-color="#081ef4"/><stop offset="0.200" stop-color="#0542f8"/><stop offset="0.250" stop-color="#081ef4"/><stop offset="0.300" stop-color="#081ef4"/><stop offset="0.350" stop-color="#081ef4"/><stop offset="0.400" stop-color="#0080ff"/><stop offset="0.450" stop-color="#081ef4"/><stop offset="0.500" stop-color="#044ffa"/><stop offset="0.550" stop-color="#044ffa"/><stop offset="0.600" stop-color="#00a5ff"/><stop offset="0.650" stop-color="#00e4ff"/><stop offset="0.700" stop-color="#00fba4"/><stop offset="0.750" stop-color="#00f8b1"/><stop offset="0.800" stop-color="#00e4ff"/><stop offset="0.850" stop-color="#00e4ff"/><stop offset="0.900" stop-color="#00e4ff"/><stop offset="0.950" stop-color="#00e4ff"/><stop offset="1.000" stop-color="#00e4ff"/></linearGradient>
<linearGradient id="g5_25" gradientUnits="userSpaceOnUse" x1="369.5" x2="495.3" y1="0" y2="0"><stop offset="0.000" stop-color="#081ef4"/><stop offset="0.050" stop-color="#081ef4"/><stop offset="0.100" stop-color="#081ef4"/><stop offset="0.150" stop-color="#081ef4"/><stop offset="0.200" stop-color="#0632f6"/><stop offset="0.250" stop-color="#081ef4"/><stop offset="0.300" stop-color="#081ef4"/><stop offset="0.350" stop-color="#081ef4"/><stop offset="0.400" stop-color="#0080ff"/><stop offset="0.450" stop-color="#081ef4"/><stop offset="0.500" stop-color="#044ffa"/><stop offset="0.550" stop-color="#044ffa"/><stop offset="0.600" stop-color="#0095ff"/><stop offset="0.650" stop-color="#00e4ff"/><stop offset="0.700" stop-color="#00f7b5"/><stop offset="0.750" stop-color="#00efd3"/><stop offset="0.800" stop-color="#00e4ff"/><stop offset="0.850" stop-color="#00e4ff"/><stop offset="0.900" stop-color="#00e4ff"/><stop offset="0.950" stop-color="#00e4ff"/><stop offset="1.000" stop-color="#00e4ff"/></linearGradient>
<linearGradient id="g5_26" gradientUnits="userSpaceOnUse" x1="369.5" x2="495.3" y1="0" y2="0"><stop offset="0.000" stop-color="#081ef4"/><stop offset="0.050" stop-color="#081ef4"/><stop offset="0.100" stop-color="#081ef4"/><stop offset="0.150" stop-color="#081ef4"/><stop offset="0.200" stop-color="#0822f4"/><stop offset="0.250" stop-color="#081ef4"/><stop offset="0.300" stop-color="#081ef4"/><stop offset="0.350" stop-color="#081ef4"/><stop offset="0.400" stop-color="#0080ff"/><stop offset="0.450" stop-color="#081ef4"/><stop offset="0.500" stop-color="#044ffa"/><stop offset="0.550" stop-color="#044ffa"/><stop offset="0.600" stop-color="#0085ff"/><stop offset="0.650" stop-color="#00e4ff"/><stop offset="0.700" stop-color="#00f3c6"/><stop offset="0.750" stop-color="#00e6f5"/><stop offset="0.800" stop-color="#00e4ff"/><stop offset="0.850" stop-color="#00e4ff"/><stop offset="0.900" stop-color="#00e4ff"/><stop offset="0.950" stop-color="#00e4ff"/><stop offset="1.000" stop-color="#00e4ff"/></linearGradient>
<linearGradient id="g5_27" gradientUnits="userSpaceOnUse" x1="369.5" x2="495.3" y1="0" y2="0"><stop offset="0.000" stop-color="#081ef4"/><stop offset="0.050" stop-color="#081ef4"/><stop offset="0.100" stop-color="#081ef4"/><stop offset="0.150" stop-color="#081ef4"/><stop offset="0.200" stop-color="#081ef4"/><stop offset="0.250" stop-color="#0729f5"/><stop offset="0.300" stop-color="#081ef4"/><stop offset="0.350" stop-color="#081ef4"/><stop offset="0.400" stop-color="#0175fe"/><stop offset="0.450" stop-color="#081ef4"/><stop offset="0.500" stop-color="#044ffa"/><stop offset="0.550" stop-color="#044ffa"/><stop offset="0.600" stop-color="#0175fe"/><stop offset="0.650" stop-color="#00d8ff"/><stop offset="0.700" stop-color="#00ebe3"/><stop offset="0.750" stop-color="#00cdff"/><stop offset="0.800" stop-color="#00cdff"/><stop offset="0.850" stop-color="#00cdff"/><stop offset="0.900" stop-color="#00cdff"/><stop offset="0.950" stop-color="#00cdff"/><stop offset="1.000" stop-color="#00cdff"/></linearGradient>
<linearGradient id="g5_28" gradientUnits="userSpaceOnUse" x1="369.5" x2="495.3" y1="0" y2="0"><stop offset="0.000" stop-color="#081ef4"/><stop offset="0.050" stop-color="#081ef4"/><stop offset="0.100" stop-color="#081ef4"/><stop offset="0.150" stop-color="#081ef4"/><stop offset="0.200" stop-color="#081ef4"/><stop offset="0.250" stop-color="#0639f7"/><stop offset="0.300" stop-color="#081ef4"/><stop offset="0.350" stop-color="#081ef4"/><stop offset="0.400" stop-color="#0265fc"/><stop offset="0.450" stop-color="#081ef4"/><stop offset="0.500" stop-color="#044ffa"/><stop offset="0.550" stop-color="#044ffa"/><stop offset="0.600" stop-color="#0265fc"/><stop offset="0.650" stop-color="#00c8ff"/><stop offset="0.700" stop-color="#00deff"/><stop offset="0.750" stop-color="#00acff"/><stop offset="0.800" stop-color="#00acff"/><stop offset="0.850" stop-color="#00acff"/><stop offset="0.900" stop-color="#00acff"/><stop offset="0.950" stop-color="#00acff"/><stop offset="1.000" stop-color="#00acff"/></linearGradient>
<linearGradient id="g5_29" gradientUnits="userSpaceOnUse" x1="369.5" x2="495.3" y1="0" y2="0"><stop offset="0.000" stop-color="#081ef4"/><stop offset="0.050" stop-color="#081ef4"/><stop offset="0.100" stop-color="#081ef4"/><stop offset="0.150" stop-color="#081ef4"/><stop offset="0.200" stop-color="#081ef4"/><stop offset="0.250" stop-color="#0449f9"/><stop offset="0.300" stop-color="#081ef4"/><stop offset="0.350" stop-color="#081ef4"/><stop offset="0.400" stop-color="#0455fa"/><stop offset="0.450" stop-color="#081ef4"/><stop offset="0.500" stop-color="#044ffa"/><stop offset="0.550" stop-color="#044ffa"/><stop offset="0.600" stop-color="#0455fa"/><stop offset="0.650" stop-color="#00b8ff"/><stop offset="0.700" stop-color="#00beff"/><stop offset="0.750" stop-color="#008cff"/><stop offset="0.800" stop-color="#008cff"/><stop offset="0.850" stop-color="#008cff"/><stop offset="0.900" stop-color="#008cff"/><stop offset="0.950" stop-color="#008cff"/><stop offset="1.000" stop-color="#008cff"/></linearGradient>
<linearGradient id="g5_30" gradientUnits="userSpaceOnUse" x1="369.5" x2="495.3" y1="0" y2="0"><stop offset="0.000" stop-color="#081ef4"/><stop offset="0.050" stop-color="#081ef4"/><stop offset="0.100" stop-color="#081ef4"/><stop offset="0.150" stop-color="#081ef4"/><stop offset="0.200" stop-color="#081ef4"/><stop offset="0.250" stop-color="#044ffa"/><stop offset="0.300" stop-color="#081ef4"/><stop offset="0.350" stop-color="#081ef4"/><stop offset="0.400" stop-color="#044ffa"/><stop offset="0.450" stop-color="#081ef4"/><stop offset="0.500" stop-color="#0545f8"/><stop offset="0.550" stop-color="#0545f8"/><stop offset="0.600" stop-color="#0545f8"/><stop offset="0.650" stop-color="#009dff"/><stop offset="0.700" stop-color="#00a8ff"/><stop offset="0.750" stop-color="#0080ff"/><stop offset="0.800" stop-color="#0080ff"/><stop offset="0.850" stop-color="#0080ff"/><stop offset="0.900" stop-color="#0080ff"/><stop offset="0.950" stop-color="#0080ff"/><stop offset="1.000" stop-color="#0080ff"/></linearGradient>
<linearGradient id="g5_31" gradientUnits="userSpaceOnUse" x1="369.5" x2="495.3" y1="0" y2="0"><stop offset="0.000" stop-color="#081ef4"/><stop offset="0.050" stop-color="#081ef4"/><stop offset="0.100" stop-color="#081ef4"/><stop offset="0.150" stop-color="#081ef4"/><stop offset="0.200" stop-color="#081ef4"/><stop offset="0.250" stop-color="#044ffa"/><stop offset="0.300" stop-color="#081ef4"/><stop offset="0.350" stop-color="#081ef4"/><stop offset="0.400" stop-color="#044ffa"/><stop offset="0.450" stop-color="#081ef4"/><stop offset="0.500" stop-color="#0635f7"/><stop offset="0.550" stop-color="#0635f7"/><stop offset="0.600" stop-color="#0635f7"/><stop offset="0.650" stop-color="#007dff"/><stop offset="0.700" stop-color="#0097ff"/><stop offset="0.750" stop-color="#0080ff"/><stop offset="0.800" stop-color="#0080ff"/><stop offset="0.850" stop-color="#0080ff"/><stop offset="0.900" stop-color="#0080ff"/><stop offset="0.950" stop-color="#0080ff"/><stop offset="1.000" stop-color="#0080ff"/></linearGradient>
<linearGradient id="g5_32" gradientUnits="userSpaceOnUse" x1="369.5" x2="495.3" y1="0" y2="0"><stop offset="0.000" stop-color="#081ef4"/><stop offset="0.050" stop-color="#081ef4"/><stop offset="0.100" stop-color="#081ef4"/><stop offset="0.150" stop-color="#081ef4"/><stop offset="0.200" stop-color="#081ef4"/><stop offset="0.250" stop-color="#044ffa"/><stop offset="0.300" stop-color="#081ef4"/><stop offset="0.350" stop-color="#081ef4"/><stop offset="0.400" stop-color="#044ffa"/><stop offset="0.450" stop-color="#081ef4"/><stop offset="0.500" stop-color="#0725f5"/><stop offset="0.550" stop-color="#0725f5"/><stop offset="0.600" stop-color="#0725f5"/><stop offset="0.650" stop-color="#035dfb"/><stop offset="0.700" stop-color="#0087ff"/><stop offset="0.750" stop-color="#0080ff"/><stop offset="0.800" stop-color="#0080ff"/><stop offset="0.850" stop-color="#0080ff"/><stop offset="0.900" stop-color="#0080ff"/><stop offset="0.950" stop-color="#0080ff"/><stop offset="1.000" stop-color="#0080ff"/></linearGradient>
<linearGradient id="g5_33" gradientUnits="userSpaceOnUse" x1="369.5" x2="495.3" y1="0" y2="0"><stop offset="0.000" stop-color="#081ef4"/><stop offset="0.050" stop-color="#081ef4"/><stop offset="0.100" stop-color="#081ef4"/><stop offset="0.150" stop-color="#081ef4"/><stop offset="0.200" stop-color="#081ef4"/><stop offset="0.250" stop-color="#0546f8"/><stop offset="0.300" stop-color="#081ef4"/><stop offset="0.350" stop-color="#081ef4"/><stop offset="0.400" stop-color="#044ffa"/><stop offset="0.450" stop-color="#081ef4"/><stop offset="0.500" stop-color="#081ef4"/><stop offset="0.550" stop-color="#081ef4"/><stop offset="0.600" stop-color="#081ef4"/><stop offset="0.650" stop-color="#0546f8"/><stop offset="0.700" stop-color="#016efd"/><stop offset="0.750" stop-color="#0177fe"/><stop offset="0.800" stop-color="#0080ff"/><stop offset="0.850" stop-color="#0080ff"/><stop offset="0.900" stop-color="#0080ff"/><stop offset="0.950" stop-color="#0080ff"/><stop offset="1.000" stop-color="#0080ff"/></linearGradient>
<linearGradient id="g5_34" gradientUnits="userSpaceOnUse" x1="369.5" x2="495.3" y1="0" y2="0"><stop offset="0.000" stop-color="#081ef4"/><stop offset="0.050" stop-color="#081ef4"/><stop offset="0.100" stop-color="#081ef4"/><stop offset="0.150" stop-color="#081ef4"/><stop offset="0.200" stop-color="#081ef4"/><stop offset="0.250" stop-color="#0636f7"/><stop offset="0.300" stop-color="#081ef4"/><stop offset="0.350" stop-color="#081ef4"/><stop offset="0.400" stop-color="#044ffa"/><stop offset="0.450" stop-color="#081ef4"/><stop offset="0.500" stop-color="#081ef4"/><stop offset="0.550" stop-color="#081ef4"/><stop offset="0.600" stop-color="#081ef4"/><stop offset="0.650" stop-color="#0636f7"/><stop offset="0.700" stop-color="#044ef9"/><stop offset="0.750" stop-color="#0267fc"/><stop offset="0.800" stop-color="#0080ff"/><stop offset="0.850" stop-color="#0080ff"/><stop offset="0.900" stop-color="#0080ff"/><stop offset="0.950" stop-color="#0080ff"/><stop offset="1.000" stop-color="#0080ff"/></linearGradient>
<linearGradient id="g5_35" gradientUnits="userSpaceOnUse" x1="369.5" x2="495.3" y1="0" y2="0"><stop offset="0.000" stop-color="#081ef4"/><stop offset="0.050" stop-color="#081ef4"/><stop offset="0.100" stop-color="#081ef4"/><stop offset="0.150" stop-color="#081ef4"/><stop offset="0.200" stop-color="#081ef4"/><stop offset="0.250" stop-color="#0726f5"/><stop offset="0.300" stop-color="#081ef4"/><stop offset="0.350" stop-color="#081ef4"/><stop offset="0.400" stop-color="#044ffa"/><stop offset="0.450" stop-color="#081ef4"/><stop offset="0.500" stop-color="#081ef4"/><stop offset="0.550" stop-color="#081ef4"/><stop offset="0.600" stop-color="#081ef4"/><stop offset="0.650" stop-color="#0726f5"/><stop offset="0.700" stop-color="#072ef6"/><stop offset="0.750" stop-color="#0357fa"/><stop offset="0.800" stop-color="#0080ff"/><stop offset="0.850" stop-color="#0080ff"/><stop offset="0.900" stop-color="#0080ff"/><stop offset="0.950" stop-color="#0080ff"/><stop offset="1.000" stop-color="#0080ff"/></linearGradient>
<linearGradient id="g5_36" gradientUnits="userSpaceOnUse" x1="369.5" x2="495.3" y1="0" y2="0"><stop offset="0.000" stop-color="#081ef4"/><stop offset="0.050" stop-color="#081ef4"/><stop offset="0.100" stop-color="#081ef4"/><stop offset="0.150" stop-color="#081ef4"/><stop offset="0.200" stop-color="#081ef4"/><stop offset="0.250" stop-color="#081ef4"/><stop offset="0.300" stop-color="#081ef4"/><stop offset="0.350" stop-color="#081ef4"/><stop offset="0.400" stop-color="#044ffa"/><stop offset="0.450" stop-color="#081ef4"/><stop offset="0.500" stop-color="#081ef4"/><stop offset="0.550" stop-color="#081ef4"/><stop offset="0.600" stop-color="#081ef4"/><stop offset="0.650" stop-color="#081ef4"/><stop offset="0.700" stop-color="#081ef4"/><stop offset="0.750" stop-color="#0547f9"/><stop offset="0.800" stop-color="#0178fe"/><stop offset="0.850" stop-color="#0080ff"/><stop offset="0.900" stop-color="#0080ff"/><stop offset="0.950" stop-color="#0080ff"/><stop offset="1.000" stop-color="#0080ff"/></linearGradient>
<linearGradient id="g5_37" gradientUnits="userSpaceOnUse" x1="369.5" x2="495.3" y1="0" y2="0"><stop offset="0.000" stop-color="#081ef4"/><stop offset="0.050" stop-color="#081ef4"/><stop offset="0.100" stop-color="#081ef4"/><stop offset="0.150" stop-color="#081ef4"/><stop offset="0.200" stop-color="#081ef4"/><stop offset="0.250" stop-color="#081ef4"/><stop offset="0.300" stop-color="#081ef4"/><stop offset="0.350" stop-color="#081ef4"/><stop offset="0.400" stop-color="#044ffa"/><stop offset="0.450" stop-color="#081ef4"/><stop offset="0.500" stop-color="#081ef4"/><stop offset="0.550" stop-color="#081ef4"/><stop offset="0.600" stop-color="#081ef4"/><stop offset="0.650" stop-color="#081ef4"/><stop offset="0.700" stop-color="#081ef4"/><stop offset="0.750" stop-color="#0637f7"/><stop offset="0.800" stop-color="#0268fc"/><stop offset="0.850" stop-color="#0080ff"/><stop offset="0.900" stop-color="#0080ff"/><stop offset="0.950" stop-color="#0080ff"/><stop offset="1.000" stop-color="#0080ff"/></linearGradient>
<linearGradient id="g5_38" gradientUnits="userSpaceOnUse" x1="369.5" x2="495.3" y1="0" y2="0"><stop offset="0.000" stop-color="#081ef4"/><stop offset="0.050" stop-color="#081ef4"/><stop offset="0.100" stop-color="#081ef4"/><stop offset="0.150" stop-color="#081ef4"/><stop offset="0.200" stop-color="#081ef4"/><stop offset="0.250" stop-color="#081ef4"/><stop offset="0.300" stop-color="#081ef4"/><stop offset="0.350" stop-color="#081ef4"/><stop offset="0.400" stop-color="#044ffa"/><stop offset="0.450" stop-color="#081ef4"/><stop offset="0.500" stop-color="#081ef4"/><stop offset="0.550" stop-color="#081ef4"/><stop offset="0.600" stop-color="#081ef4"/><stop offset="0.650" stop-color="#081ef4"/><stop offset="0.700" stop-color="#081ef4"/><stop offset="0.750" stop-color="#0727f5"/><stop offset="0.800" stop-color="#0358fb"/><stop offset="0.850" stop-color="#0080ff"/><stop offset="0.900" stop-color="#0080ff"/><stop offset="0.950" stop-color="#0080ff"/><stop offset="1.000" stop-color="#0080ff"/></linearGradient>
<linearGradient id="g5_39" gradientUnits="userSpaceOnUse" x1="369.5" x2="495.3" y1="0" y2="0"><stop offset="0.000" stop-color="#081ef4"/><stop offset="0.050" stop-color="#081ef4"/><stop offset="0.100" stop-color="#081ef4"/><stop offset="0.150" stop-color="#081ef4"/><stop offset="0.200" stop-color="#081ef4"/><stop offset="0.250" stop-color="#081ef4"/><stop offset="0.300" stop-color="#081ef4"/><stop offset="0.350" stop-color="#081ef4"/><stop offset="0.400" stop-color="#0549f9"/><stop offset="0.450" stop-color="#081ef4"/><stop offset="0.500" stop-color="#081ef4"/><stop offset="0.550" stop-color="#081ef4"/><stop offset="0.600" stop-color="#081ef4"/><stop offset="0.650" stop-color="#081ef4"/><stop offset="0.700" stop-color="#081ef4"/><stop offset="0.750" stop-color="#081ef4"/><stop offset="0.800" stop-color="#044ffa"/><stop offset="0.850" stop-color="#0080ff"/><stop offset="0.900" stop-color="#0080ff"/><stop offset="0.950" stop-color="#0080ff"/><stop offset="1.000" stop-color="#0080ff"/></linearGradient>
<linearGradient id="g5_40" gradientUnits="userSpaceOnUse" x1="369.5" x2="495.3" y1="0" y2="0"><stop offset="0.000" stop-color="#081ef4"/><stop offset="0.050" stop-color="#081ef4"/><stop offset="0.100" stop-color="#081ef4"/><stop offset="0.150" stop-color="#081ef4"/><stop offset="0.200" stop-color="#081ef4"/><stop offset="0.250" stop-color="#081ef4"/><stop offset="0.300" stop-color="#081ef4"/><stop offset="0.350" stop-color="#081ef4"/><stop offset="0.400" stop-color="#0639f7"/><stop offset="0.450" stop-color="#081ef4"/><stop offset="0.500" stop-color="#081ef4"/><stop offset="0.550" stop-color="#081ef4"/><stop offset="0.600" stop-color="#081ef4"/><stop offset="0.650" stop-color="#081ef4"/><stop offset="0.700" stop-color="#081ef4"/><stop offset="0.750" stop-color="#081ef4"/><stop offset="0.800" stop-color="#044ffa"/><stop offset="0.850" stop-color="#0080ff"/><stop offset="0.900" stop-color="#0080ff"/><stop offset="0.950" stop-color="#0080ff"/><stop offset="1.000" stop-color="#0080ff"/></linearGradient>
<linearGradient id="g5_41" gradientUnits="userSpaceOnUse" x1="369.5" x2="495.3" y1="0" y2="0"><stop offset="0.000" stop-color="#081ef4"/><stop offset="0.050" stop-color="#081ef4"/><stop offset="0.100" stop-color="#081ef4"/><stop offset="0.150" stop-color="#081ef4"/><stop offset="0.200" stop-color="#081ef4"/><stop offset="0.250" stop-color="#081ef4"/><stop offset="0.300" stop-color="#081ef4"/><stop offset="0.350" stop-color="#081ef4"/><stop offset="0.400" stop-color="#0729f5"/><stop offset="0.450" stop-color="#081ef4"/><stop offset="0.500" stop-color="#081ef4"/><stop offset="0.550" stop-color="#081ef4"/><stop offset="0.600" stop-color="#081ef4"/><stop offset="0.650" stop-color="#081ef4"/><stop offset="0.700" stop-color="#081ef4"/><stop offset="0.750" stop-color="#081ef4"/><stop offset="0.800" stop-color="#044ffa"/><stop offset="0.850" stop-color="#0080ff"/><stop offset="0.900" stop-color="#0080ff"/><stop offset="0.950" stop-color="#0080ff"/><stop offset="1.000" stop-color="#0080ff"/></linearGradient>
<linearGradient id="g5_42" gradientUnits="userSpaceOnUse" x1="369.5" x2="495.3" y1="0" y2="0"><stop offset="0.000" stop-color="#081ef4"/><stop offset="0.050" stop-color="#081ef4"/><stop offset="0.100" stop-color="#081ef4"/><stop offset="0.150" stop-color="#081ef4"/><stop offset="0.200" stop-color="#081ef4"/><stop offset="0.250" stop-color="#081ef4"/><stop offset="0.300" stop-color="#081ef4"/><stop offset="0.350" stop-color="#081ef4"/><stop offset="0.400" stop-color="#081ef4"/><stop offset="0.450" stop-color="#081ef4"/><stop offset="0.500" stop-color="#081ef4"/><stop offset="0.550" stop-color="#081ef4"/><stop offset="0.600" stop-color="#081ef4"/><stop offset="0.650" stop-color="#081ef4"/><stop offset="0.700" stop-color="#081ef4"/><stop offset="0.750" stop-color="#081ef4"/><stop offset="0.800" stop-color="#044ffa"/><stop offset="0.850" stop-color="#0080ff"/><stop offset="0.900" stop-color="#0080ff"/><stop offset="0.950" stop-color="#0080ff"/><stop offset="1.000" stop-color="#0080ff"/></linearGradient>
<linearGradient id="g5_43" gradientUnits="userSpaceOnUse" x1="369.5" x2="495.3" y1="0" y2="0"><stop offset="0.000" stop-color="#081ef4"/><stop offset="0.050" stop-color="#081ef4"/><stop offset="0.100" stop-color="#081ef4"/><stop offset="0.150" stop-color="#081ef4"/><stop offset="0.200" stop-color="#081ef4"/><stop offset="0.250" stop-color="#081ef4"/><stop offset="0.300" stop-color="#081ef4"/><stop offset="0.350" stop-color="#081ef4"/><stop offset="0.400" stop-color="#081ef4"/><stop offset="0.450" stop-color="#081ef4"/><stop offset="0.500" stop-color="#081ef4"/><stop offset="0.550" stop-color="#081ef4"/><stop offset="0.600" stop-color="#081ef4"/><stop offset="0.650" stop-color="#081ef4"/><stop offset="0.700" stop-color="#081ef4"/><stop offset="0.750" stop-color="#081ef4"/><stop offset="0.800" stop-color="#044ffa"/><stop offset="0.850" stop-color="#0080ff"/><stop offset="0.900" stop-color="#0080ff"/><stop offset="0.950" stop-color="#0080ff"/><stop offset="1.000" stop-color="#0080ff"/></linearGradient>
<linearGradient id="g5_44" gradientUnits="userSpaceOnUse" x1="369.5" x2="495.3" y1="0" y2="0"><stop offset="0.000" stop-color="#081ef4"/><stop offset="0.050" stop-color="#081ef4"/><stop offset="0.100" stop-color="#081ef4"/><stop offset="0.150" stop-color="#081ef4"/><stop offset="0.200" stop-color="#081ef4"/><stop offset="0.250" stop-color="#081ef4"/><stop offset="0.300" stop-color="#081ef4"/><stop offset="0.350" stop-color="#081ef4"/><stop offset="0.400" stop-color="#081ef4"/><stop offset="0.450" stop-color="#081ef4"/><stop offset="0.500" stop-color="#081ef4"/><stop offset="0.550" stop-color="#081ef4"/><stop offset="0.600" stop-color="#081ef4"/><stop offset="0.650" stop-color="#081ef4"/><stop offset="0.700" stop-color="#081ef4"/><stop offset="0.750" stop-color="#081ef4"/><stop offset="0.800" stop-color="#044ffa"/><stop offset="0.850" stop-color="#0080ff"/><stop offset="0.900" stop-color="#0080ff"/><stop offset="0.950" stop-color="#0080ff"/><stop offset="1.000" stop-color="#0080ff"/></linearGradient>
<linearGradient id="g5_45" gradientUnits="userSpaceOnUse" x1="369.5" x2="495.3" y1="0" y2="0"><stop offset="0.000" stop-color="#081ef4"/><stop offset="0.050" stop-color="#081ef4"/><stop offset="0.100" stop-color="#081ef4"/><stop offset="0.150" stop-color="#081ef4"/><stop offset="0.200" stop-color="#081ef4"/><stop offset="0.250" stop-color="#081ef4"/><stop offset="0.300" stop-color="#081ef4"/><stop offset="0.350" stop-color="#081ef4"/><stop offset="0.400" stop-color="#081ef4"/><stop offset="0.450" stop-color="#081ef4"/><stop offset="0.500" stop-color="#081ef4"/><stop offset="0.550" stop-color="#081ef4"/><stop offset="0.600" stop-color="#081ef4"/><stop offset="0.650" stop-color="#081ef4"/><stop offset="0.700" stop-color="#081ef4"/><stop offset="0.750" stop-color="#081ef4"/><stop offset="0.800" stop-color="#044ffa"/><stop offset="0.850" stop-color="#0080ff"/><stop offset="0.900" stop-color="#0080ff"/><stop offset="0.950" stop-color="#0080ff"/><stop offset="1.000" stop-color="#0080ff"/></linearGradient>
<linearGradient id="g5_46" gradientUnits="userSpaceOnUse" x1="369.5" x2="495.3" y1="0" y2="0"><stop offset="0.000" stop-color="#081ef4"/><stop offset="0.050" stop-color="#081ef4"/><stop offset="0.100" stop-color="#081ef4"/><stop offset="0.150" stop-color="#081ef4"/><stop offset="0.200" stop-color="#081ef4"/><stop offset="0.250" stop-color="#081ef4"/><stop offset="0.300" stop-color="#081ef4"/><stop offset="0.350" stop-color="#081ef4"/><stop offset="0.400" stop-color="#081ef4"/><stop offset="0.450" stop-color="#081ef4"/><stop offset="0.500" stop-color="#081ef4"/><stop offset="0.550" stop-color="#081ef4"/><stop offset="0.600" stop-color="#081ef4"/><stop offset="0.650" stop-color="#081ef4"/><stop offset="0.700" stop-color="#081ef4"/><stop offset="0.750" stop-color="#081ef4"/><stop offset="0.800" stop-color="#044ffa"/><stop offset="0.850" stop-color="#0080ff"/><stop offset="0.900" stop-color="#0080ff"/><stop offset="0.950" stop-color="#0080ff"/><stop offset="1.000" stop-color="#0080ff"/></linearGradient>
<linearGradient id="g5_47" gradientUnits="userSpaceOnUse" x1="369.5" x2="495.3" y1="0" y2="0"><stop offset="0.000" stop-color="#081ef4"/><stop offset="0.050" stop-color="#081ef4"/><stop offset="0.100" stop-color="#081ef4"/><stop offset="0.150" stop-color="#081ef4"/><stop offset="0.200" stop-color="#081ef4"/><stop offset="0.250" stop-color="#081ef4"/><stop offset="0.300" stop-color="#081ef4"/><stop offset="0.350" stop-color="#081ef4"/><stop offset="0.400" stop-color="#081ef4"/><stop offset="0.450" stop-color="#081ef4"/><stop offset="0.500" stop-color="#081ef4"/><stop offset="0.550" stop-color="#081ef4"/><stop offset="0.600" stop-color="#081ef4"/><stop offset="0.650" stop-color="#081ef4"/><stop offset="0.700" stop-color="#081ef4"/><stop offset="0.750" stop-color="#081ef4"/><stop offset="0.800" stop-color="#044ffa"/><stop offset="0.850" stop-color="#0080ff"/><stop offset="0.900" stop-color="#0080ff"/><stop offset="0.950" stop-color="#0080ff"/><stop offset="1.000" stop-color="#0080ff"/></linearGradient>
<linearGradient id="g5_48" gradientUnits="userSpaceOnUse" x1="369.5" x2="495.3" y1="0" y2="0"><stop offset="0.000" stop-color="#081ef4"/><stop offset="0.050" stop-color="#081ef4"/><stop offset="0.100" stop-color="#081ef4"/><stop offset="0.150" stop-color="#081ef4"/><stop offset="0.200" stop-color="#081ef4"/><stop offset="0.250" stop-color="#081ef4"/><stop offset="0.300" stop-color="#081ef4"/><stop offset="0.350" stop-color="#081ef4"/><stop offset="0.400" stop-color="#081ef4"/><stop offset="0.450" stop-color="#081ef4"/><stop offset="0.500" stop-color="#081ef4"/><stop offset="0.550" stop-color="#081ef4"/><stop offset="0.600" stop-color="#081ef4"/><stop offset="0.650" stop-color="#081ef4"/><stop offset="0.700" stop-color="#081ef4"/><stop offset="0.750" stop-color="#081ef4"/><stop offset="0.800" stop-color="#044ffa"/><stop offset="0.850" stop-color="#0080ff"/><stop offset="0.900" stop-color="#0080ff"/><stop offset="0.950" stop-color="#0080ff"/><stop offset="1.000" stop-color="#0080ff"/></linearGradient>
</defs>
<rect width="550" height="417" fill="#fff"/>
<g clip-path="url(#c0)"><g filter="url(#bl)"><rect x="51.1" y="16.5" width="85.6" height="3.6" fill="url(#g0_0)"/>
<rect x="51.1" y="19.5" width="85.6" height="3.6" fill="url(#g0_1)"/>
<rect x="51.1" y="22.5" width="85.6" height="3.6" fill="url(#g0_2)"/>
<rect x="51.1" y="25.5" width="85.6" height="3.6" fill="url(#g0_3)"/>
<rect x="51.1" y="28.5" width="85.6" height="3.6" fill="url(#g0_4)"/>
<rect x="51.1" y="31.5" width="85.6" height="3.6" fill="url(#g0_5)"/>
<rect x="51.1" y="34.5" width="85.6" height="3.6" fill="url(#g0_6)"/>
<rect x="51.1" y="37.5" width="85.6" height="3.6" fill="url(#g0_7)"/>
<rect x="51.1" y="40.5" width="85.6" height="3.6" fill="url(#g0_8)"/>
<rect x="51.1" y="43.5" width="85.6" height="3.6" fill="url(#g0_9)"/>
<rect x="51.1" y="46.5" width="85.6" height="3.6" fill="url(#g0_10)"/>
<rect x="51.1" y="49.5" width="85.6" height="3.6" fill="url(#g0_11)"/>
<rect x="51.1" y="52.5" width="85.6" height="3.6" fill="url(#g0_12)"/>
<rect x="51.1" y="55.5" width="85.6" height="3.6" fill="url(#g0_13)"/>
<rect x="51.1" y="58.5" width="85.6" height="3.6" fill="url(#g0_14)"/>
<rect x="51.1" y="61.5" width="85.6" height="3.6" fill="url(#g0_15)"/>
<rect x="51.1" y="64.5" width="85.6" height="3.6" fill="url(#g0_16)"/>
<rect x="51.1" y="67.5" width="85.6" height="3.6" fill="url(#g0_17)"/>
<rect x="51.1" y="70.5" width="85.6" height="3.6" fill="url(#g0_18)"/>
<rect x="51.1" y="73.5" width="85.6" height="3.6" fill="url(#g0_19)"/>
<rect x="51.1" y="76.5" width="85.6" height="3.6" fill="url(#g0_20)"/>
<rect x="51.1" y="79.5" width="85.6" height="3.6" fill="url(#g0_21)"/>
<rect x="51.1" y="82.5" width="85.6" height="3.6" fill="url(#g0_22)"/>
<rect x="51.1" y="85.5" width="85.6" height="3.6" fill="url(#g0_23)"/>
<rect x="51.1" y="88.5" width="85.6" height="3.6" fill="url(#g0_24)"/>
<rect x="51.1" y="91.5" width="85.6" height="3.6" fill="url(#g0_25)"/>
<rect x="51.1" y="94.5" width="85.6" height="3.6" fill="url(#g0_26)"/>
<rect x="51.1" y="97.5" width="85.6" height="3.6" fill="url(#g0_27)"/>
<rect x="51.1" y="100.5" width="85.6" height="3.6" fill="url(#g0_28)"/>
<rect x="51.1" y="103.5" width="85.6" height="3.6" fill="url(#g0_29)"/>
<rect x="51.1" y="106.5" width="85.6" height="3.6" fill="url(#g0_30)"/>
<rect x="51.1" y="109.5" width="85.6" height="3.6" fill="url(#g0_31)"/>
<rect x="51.1" y="112.5" width="85.6" height="3.6" fill="url(#g0_32)"/>
<rect x="51.1" y="115.5" width="85.6" height="3.6" fill="url(#g0_33)"/>
<rect x="51.1" y="118.5" width="85.6" height="3.6" fill="url(#g0_34)"/>
<rect x="51.1" y="121.5" width="85.6" height="3.6" fill="url(#g0_35)"/>
<rect x="51.1" y="124.5" width="85.6" height="3.6" fill="url(#g0_36)"/>
<rect x="51.1" y="127.5" width="85.6" height="3.6" fill="url(#g0_37)"/>
<rect x="51.1" y="130.5" width="85.6" height="3.6" fill="url(#g0_38)"/>
<rect x="51.1" y="133.5" width="85.6" height="3.6" fill="url(#g0_39)"/>
<rect x="51.1" y="136.5" width="85.6" height="3.6" fill="url(#g0_40)"/>
<rect x="51.1" y="139.5" width="85.6" height="3.6" fill="url(#g0_41)"/>
<rect x="51.1" y="142.5" width="85.6" height="3.6" fill="url(#g0_42)"/>
<rect x="51.1" y="145.5" width="85.6" height="3.6" fill="url(#g0_43)"/>
<rect x="51.1" y="148.5" width="85.6" height="3.6" fill="url(#g0_44)"/>
<rect x="51.1" y="151.5" width="85.6" height="3.6" fill="url(#g0_45)"/>
<rect x="51.1" y="154.5" width="85.6" height="3.6" fill="url(#g0_46)"/>
<rect x="51.1" y="157.5" width="85.6" height="3.6" fill="url(#g0_47)"/>
<rect x="51.1" y="160.5" width="85.6" height="3.6" fill="url(#g0_48)"/></g></g>
<g clip-path="url(#c1)"><g filter="url(#bl)"><rect x="214.0" y="17.5" width="87.8" height="3.6" fill="url(#g1_0)"/>
<rect x="214.0" y="20.5" width="87.8" height="3.6" fill="url(#g1_1)"/>
<rect x="214.0" y="23.5" width="87.8" height="3.6" fill="url(#g1_2)"/>
<rect x="214.0" y="26.5" width="87.8" height="3.6" fill="url(#g1_3)"/>
<rect x="214.0" y="29.5" width="87.8" height="3.6" fill="url(#g1_4)"/>
<rect x="214.0" y="32.5" width="87.8" height="3.6" fill="url(#g1_5)"/>
<rect x="214.0" y="35.5" width="87.8" height="3.6" fill="url(#g1_6)"/>
<rect x="214.0" y="38.5" width="87.8" height="3.6" fill="url(#g1_7)"/>
<rect x="214.0" y="41.5" width="87.8" height="3.6" fill="url(#g1_8)"/>
<rect x="214.0" y="44.5" width="87.8" height="3.6" fill="url(#g1_9)"/>
<rect x="214.0" y="47.5" width="87.8" height="3.6" fill="url(#g1_10)"/>
<rect x="214.0" y="50.5" width="87.8" height="3.6" fill="url(#g1_11)"/>
<rect x="214.0" y="53.5" width="87.8" height="3.6" fill="url(#g1_12)"/>
<rect x="214.0" y="56.5" width="87.8" height="3.6" fill="url(#g1_13)"/>
<rect x="214.0" y="59.5" width="87.8" height="3.6" fill="url(#g1_14)"/>
<rect x="214.0" y="62.5" width="87.8" height="3.6" fill="url(#g1_15)"/>
<rect x="214.0" y="65.5" width="87.8" height="3.6" fill="url(#g1_16)"/>
<rect x="214.0" y="68.5" width="87.8" height="3.6" fill="url(#g1_17)"/>
<rect x="214.0" y="71.5" width="87.8" height="3.6" fill="url(#g1_18)"/>
<rect x="214.0" y="74.5" width="87.8" height="3.6" fill="url(#g1_19)"/>
<rect x="214.0" y="77.5" width="87.8" height="3.6" fill="url(#g1_20)"/>
<rect x="214.0" y="80.5" width="87.8" height="3.6" fill="url(#g1_21)"/>
<rect x="214.0" y="83.5" width="87.8" height="3.6" fill="url(#g1_22)"/>
<rect x="214.0" y="86.5" width="87.8" height="3.6" fill="url(#g1_23)"/>
<rect x="214.0" y="89.5" width="87.8" height="3.6" fill="url(#g1_24)"/>
<rect x="214.0" y="92.5" width="87.8" height="3.6" fill="url(#g1_25)"/>
<rect x="214.0" y="95.5" width="87.8" height="3.6" fill="url(#g1_26)"/>
<rect x="214.0" y="98.5" width="87.8" height="3.6" fill="url(#g1_27)"/>
<rect x="214.0" y="101.5" width="87.8" height="3.6" fill="url(#g1_28)"/>
<rect x="214.0" y="104.5" width="87.8" height="3.6" fill="url(#g1_29)"/>
<rect x="214.0" y="107.5" width="87.8" height="3.6" fill="url(#g1_30)"/>
<rect x="214.0" y="110.5" width="87.8" height="3.6" fill="url(#g1_31)"/>
<rect x="214.0" y="113.5" width="87.8" height="3.6" fill="url(#g1_32)"/>
<rect x="214.0" y="116.5" width="87.8" height="3.6" fill="url(#g1_33)"/>
<rect x="214.0" y="119.5" width="87.8" height="3.6" fill="url(#g1_34)"/>
<rect x="214.0" y="122.5" width="87.8" height="3.6" fill="url(#g1_35)"/>
<rect x="214.0" y="125.5" width="87.8" height="3.6" fill="url(#g1_36)"/>
<rect x="214.0" y="128.5" width="87.8" height="3.6" fill="url(#g1_37)"/>
<rect x="214.0" y="131.5" width="87.8" height="3.6" fill="url(#g1_38)"/>
<rect x="214.0" y="134.5" width="87.8" height="3.6" fill="url(#g1_39)"/>
<rect x="214.0" y="137.5" width="87.8" height="3.6" fill="url(#g1_40)"/>
<rect x="214.0" y="140.5" width="87.8" height="3.6" fill="url(#g1_41)"/>
<rect x="214.0" y="143.5" width="87.8" height="3.6" fill="url(#g1_42)"/>
<rect x="214.0" y="146.5" width="87.8" height="3.6" fill="url(#g1_43)"/>
<rect x="214.0" y="149.5" width="87.8" height="3.6" fill="url(#g1_44)"/>
<rect x="214.0" y="152.5" width="87.8" height="3.6" fill="url(#g1_45)"/>
<rect x="214.0" y="155.5" width="87.8" height="3.6" fill="url(#g1_46)"/>
<rect x="214.0" y="158.5" width="87.8" height="3.6" fill="url(#g1_47)"/>
<rect x="214.0" y="161.5" width="87.8" height="3.6" fill="url(#g1_48)"/></g></g>
<g clip-path="url(#c2)"><g filter="url(#bl)"><rect x="376.4" y="17.6" width="106.0" height="3.6" fill="url(#g2_0)"/>
<rect x="376.4" y="20.6" width="106.0" height="3.6" fill="url(#g2_1)"/>
<rect x="376.4" y="23.6" width="106.0" height="3.6" fill="url(#g2_2)"/>
<rect x="376.4" y="26.6" width="106.0" height="3.6" fill="url(#g2_3)"/>
<rect x="376.4" y="29.6" width="106.0" height="3.6" fill="url(#g2_4)"/>
<rect x="376.4" y="32.6" width="106.0" height="3.6" fill="url(#g2_5)"/>
<rect x="376.4" y="35.6" width="106.0" height="3.6" fill="url(#g2_6)"/>
<rect x="376.4" y="38.6" width="106.0" height="3.6" fill="url(#g2_7)"/>
<rect x="376.4" y="41.6" width="106.0" height="3.6" fill="url(#g2_8)"/>
<rect x="376.4" y="44.6" width="106.0" height="3.6" fill="url(#g2_9)"/>
<rect x="376.4" y="47.6" width="106.0" height="3.6" fill="url(#g2_10)"/>
<rect x="376.4" y="50.6" width="106.0" height="3.6" fill="url(#g2_11)"/>
<rect x="376.4" y="53.6" width="106.0" height="3.6" fill="url(#g2_12)"/>
<rect x="376.4" y="56.6" width="106.0" height="3.6" fill="url(#g2_13)"/>
<rect x="376.4" y="59.6" width="106.0" height="3.6" fill="url(#g2_14)"/>
<rect x="376.4" y="62.6" width="106.0" height="3.6" fill="url(#g2_15)"/>
<rect x="376.4" y="65.6" width="106.0" height="3.6" fill="url(#g2_16)"/>
<rect x="376.4" y="68.6" width="106.0" height="3.6" fill="url(#g2_17)"/>
<rect x="376.4" y="71.6" width="106.0" height="3.6" fill="url(#g2_18)"/>
<rect x="376.4" y="74.6" width="106.0" height="3.6" fill="url(#g2_19)"/>
<rect x="376.4" y="77.6" width="106.0" height="3.6" fill="url(#g2_20)"/>
<rect x="376.4" y="80.6" width="106.0" height="3.6" fill="url(#g2_21)"/>
<rect x="376.4" y="83.6" width="106.0" height="3.6" fill="url(#g2_22)"/>
<rect x="376.4" y="86.6" width="106.0" height="3.6" fill="url(#g2_23)"/>
<rect x="376.4" y="89.6" width="106.0" height="3.6" fill="url(#g2_24)"/>
<rect x="376.4" y="92.6" width="106.0" height="3.6" fill="url(#g2_25)"/>
<rect x="376.4" y="95.6" width="106.0" height="3.6" fill="url(#g2_26)"/>
<rect x="376.4" y="98.6" width="106.0" height="3.6" fill="url(#g2_27)"/>
<rect x="376.4" y="101.6" width="106.0" height="3.6" fill="url(#g2_28)"/>
<rect x="376.4" y="104.6" width="106.0" height="3.6" fill="url(#g2_29)"/>
<rect x="376.4" y="107.6" width="106.0" height="3.6" fill="url(#g2_30)"/>
<rect x="376.4" y="110.6" width="106.0" height="3.6" fill="url(#g2_31)"/>
<rect x="376.4" y="113.6" width="106.0" height="3.6" fill="url(#g2_32)"/>
<rect x="376.4" y="116.6" width="106.0" height="3.6" fill="url(#g2_33)"/>
<rect x="376.4" y="119.6" width="106.0" height="3.6" fill="url(#g2_34)"/>
<rect x="376.4" y="122.6" width="106.0" height="3.6" fill="url(#g2_35)"/>
<rect x="376.4" y="125.6" width="106.0" height="3.6" fill="url(#g2_36)"/>
<rect x="376.4" y="128.6" width="106.0" height="3.6" fill="url(#g2_37)"/>
<rect x="376.4" y="131.6" width="106.0" height="3.6" fill="url(#g2_38)"/>
<rect x="376.4" y="134.6" width="106.0" height="3.6" fill="url(#g2_39)"/>
<rect x="376.4" y="137.6" width="106.0" height="3.6" fill="url(#g2_40)"/>
<rect x="376.4" y="140.6" width="106.0" height="3.6" fill="url(#g2_41)"/>
<rect x="376.4" y="143.6" width="106.0" height="3.6" fill="url(#g2_42)"/>
<rect x="376.4" y="146.6" width="106.0" height="3.6" fill="url(#g2_43)"/>
<rect x="376.4" y="149.6" width="106.0" height="3.6" fill="url(#g2_44)"/>
<rect x="376.4" y="152.6" width="106.0" height="3.6" fill="url(#g2_45)"/>
<rect x="376.4" y="155.6" width="106.0" height="3.6" fill="url(#g2_46)"/>
<rect x="376.4" y="158.6" width="106.0" height="3.6" fill="url(#g2_47)"/>
<rect x="376.4" y="161.6" width="106.0" height="3.6" fill="url(#g2_48)"/></g></g>
<g clip-path="url(#c3)"><g filter="url(#bl)"><rect x="50.2" y="222.6" width="65.2" height="3.6" fill="url(#g3_0)"/>
<rect x="50.2" y="225.6" width="65.2" height="3.6" fill="url(#g3_1)"/>
<rect x="50.2" y="228.6" width="65.2" height="3.6" fill="url(#g3_2)"/>
<rect x="50.2" y="231.6" width="65.2" height="3.6" fill="url(#g3_3)"/>
<rect x="50.2" y="234.6" width="65.2" height="3.6" fill="url(#g3_4)"/>
<rect x="50.2" y="237.6" width="65.2" height="3.6" fill="url(#g3_5)"/>
<rect x="50.2" y="240.6" width="65.2" height="3.6" fill="url(#g3_6)"/>
<rect x="50.2" y="243.6" width="65.2" height="3.6" fill="url(#g3_7)"/>
<rect x="50.2" y="246.6" width="65.2" height="3.6" fill="url(#g3_8)"/>
<rect x="50.2" y="249.6" width="65.2" height="3.6" fill="url(#g3_9)"/>
<rect x="50.2" y="252.6" width="65.2" height="3.6" fill="url(#g3_10)"/>
<rect x="50.2" y="255.6" width="65.2" height="3.6" fill="url(#g3_11)"/>
<rect x="50.2" y="258.6" width="65.2" height="3.6" fill="url(#g3_12)"/>
<rect x="50.2" y="261.6" width="65.2" height="3.6" fill="url(#g3_13)"/>
<rect x="50.2" y="264.6" width="65.2" height="3.6" fill="url(#g3_14)"/>
<rect x="50.2" y="267.6" width="65.2" height="3.6" fill="url(#g3_15)"/>
<rect x="50.2" y="270.6" width="65.2" height="3.6" fill="url(#g3_16)"/>
<rect x="50.2" y="273.6" width="65.2" height="3.6" fill="url(#g3_17)"/>
<rect x="50.2" y="276.6" width="65.2" height="3.6" fill="url(#g3_18)"/>
<rect x="50.2" y="279.6" width="65.2" height="3.6" fill="url(#g3_19)"/>
<rect x="50.2" y="282.6" width="65.2" height="3.6" fill="url(#g3_20)"/>
<rect x="50.2" y="285.6" width="65.2" height="3.6" fill="url(#g3_21)"/>
<rect x="50.2" y="288.6" width="65.2" height="3.6" fill="url(#g3_22)"/>
<rect x="50.2" y="291.6" width="65.2" height="3.6" fill="url(#g3_23)"/>
<rect x="50.2" y="294.6" width="65.2" height="3.6" fill="url(#g3_24)"/>
<rect x="50.2" y="297.6" width="65.2" height="3.6" fill="url(#g3_25)"/>
<rect x="50.2" y="300.6" width="65.2" height="3.6" fill="url(#g3_26)"/>
<rect x="50.2" y="303.6" width="65.2" height="3.6" fill="url(#g3_27)"/>
<rect x="50.2" y="306.6" width="65.2" height="3.6" fill="url(#g3_28)"/>
<rect x="50.2" y="309.6" width="65.2" height="3.6" fill="url(#g3_29)"/>
<rect x="50.2" y="312.6" width="65.2" height="3.6" fill="url(#g3_30)"/>
<rect x="50.2" y="315.6" width="65.2" height="3.6" fill="url(#g3_31)"/>
<rect x="50.2" y="318.6" width="65.2" height="3.6" fill="url(#g3_32)"/>
<rect x="50.2" y="321.6" width="65.2" height="3.6" fill="url(#g3_33)"/>
<rect x="50.2" y="324.6" width="65.2" height="3.6" fill="url(#g3_34)"/>
<rect x="50.2" y="327.6" width="65.2" height="3.6" fill="url(#g3_35)"/>
<rect x="50.2" y="330.6" width="65.2" height="3.6" fill="url(#g3_36)"/>
<rect x="50.2" y="333.6" width="65.2" height="3.6" fill="url(#g3_37)"/>
<rect x="50.2" y="336.6" width="65.2" height="3.6" fill="url(#g3_38)"/>
<rect x="50.2" y="339.6" width="65.2" height="3.6" fill="url(#g3_39)"/>
<rect x="50.2" y="342.6" width="65.2" height="3.6" fill="url(#g3_40)"/>
<rect x="50.2" y="345.6" width="65.2" height="3.6" fill="url(#g3_41)"/>
<rect x="50.2" y="348.6" width="65.2" height="3.6" fill="url(#g3_42)"/>
<rect x="50.2" y="351.6" width="65.2" height="3.6" fill="url(#g3_43)"/>
<rect x="50.2" y="354.6" width="65.2" height="3.6" fill="url(#g3_44)"/>
<rect x="50.2" y="357.6" width="65.2" height="3.6" fill="url(#g3_45)"/>
<rect x="50.2" y="360.6" width="65.2" height="3.6" fill="url(#g3_46)"/>
<rect x="50.2" y="363.6" width="65.2" height="3.6" fill="url(#g3_47)"/></g></g>
<g clip-path="url(#c4)"><g filter="url(#bl)"><rect x="214.6" y="220.3" width="73.4" height="3.6" fill="url(#g4_0)"/>
<rect x="214.6" y="223.3" width="73.4" height="3.6" fill="url(#g4_1)"/>
<rect x="214.6" y="226.3" width="73.4" height="3.6" fill="url(#g4_2)"/>
<rect x="214.6" y="229.3" width="73.4" height="3.6" fill="url(#g4_3)"/>
<rect x="214.6" y="232.3" width="73.4" height="3.6" fill="url(#g4_4)"/>
<rect x="214.6" y="235.3" width="73.4" height="3.6" fill="url(#g4_5)"/>
<rect x="214.6" y="238.3" width="73.4" height="3.6" fill="url(#g4_6)"/>
<rect x="214.6" y="241.3" width="73.4" height="3.6" fill="url(#g4_7)"/>
<rect x="214.6" y="244.3" width="73.4" height="3.6" fill="url(#g4_8)"/>
<rect x="214.6" y="247.3" width="73.4" height="3.6" fill="url(#g4_9)"/>
<rect x="214.6" y="250.3" width="73.4" height="3.6" fill="url(#g4_10)"/>
<rect x="214.6" y="253.3" width="73.4" height="3.6" fill="url(#g4_11)"/>
<rect x="214.6" y="256.3" width="73.4" height="3.6" fill="url(#g4_12)"/>
<rect x="214.6" y="259.3" width="73.4" height="3.6" fill="url(#g4_13)"/>
<rect x="214.6" y="262.3" width="73.4" height="3.6" fill="url(#g4_14)"/>
<rect x="214.6" y="265.3" width="73.4" height="3.6" fill="url(#g4_15)"/>
<rect x="214.6" y="268.3" width="73.4" height="3.6" fill="url(#g4_16)"/>
<rect x="214.6" y="271.3" width="73.4" height="3.6" fill="url(#g4_17)"/>
<rect x="214.6" y="274.3" width="73.4" height="3.6" fill="url(#g4_18)"/>
<rect x="214.6" y="277.3" width="73.4" height="3.6" fill="url(#g4_19)"/>
<rect x="214.6" y="280.3" width="73.4" height="3.6" fill="url(#g4_20)"/>
<rect x="214.6" y="283.3" width="73.4" height="3.6" fill="url(#g4_21)"/>
<rect x="214.6" y="286.3" width="73.4" height="3.6" fill="url(#g4_22)"/>
<rect x="214.6" y="289.3" width="73.4" height="3.6" fill="url(#g4_23)"/>
<rect x="214.6" y="292.3" width="73.4" height="3.6" fill="url(#g4_24)"/>
<rect x="214.6" y="295.3" width="73.4" height="3.6" fill="url(#g4_25)"/>
<rect x="214.6" y="298.3" width="73.4" height="3.6" fill="url(#g4_26)"/>
<rect x="214.6" y="301.3" width="73.4" height="3.6" fill="url(#g4_27)"/>
<rect x="214.6" y="304.3" width="73.4" height="3.6" fill="url(#g4_28)"/>
<rect x="214.6" y="307.3" width="73.4" height="3.6" fill="url(#g4_29)"/>
<rect x="214.6" y="310.3" width="73.4" height="3.6" fill="url(#g4_30)"/>
<rect x="214.6" y="313.3" width="73.4" height="3.6" fill="url(#g4_31)"/>
<rect x="214.6" y="316.3" width="73.4" height="3.6" fill="url(#g4_32)"/>
<rect x="214.6" y="319.3" width="73.4" height="3.6" fill="url(#g4_33)"/>
<rect x="214.6" y="322.3" width="73.4" height="3.6" fill="url(#g4_34)"/>
<rect x="214.6" y="325.3" width="73.4" height="3.6" fill="url(#g4_35)"/>
<rect x="214.6" y="328.3" width="73.4" height="3.6" fill="url(#g4_36)"/>
<rect x="214.6" y="331.3" width="73.4" height="3.6" fill="url(#g4_37)"/>
<rect x="214.6" y="334.3" width="73.4" height="3.6" fill="url(#g4_38)"/>
<rect x="214.6" y="337.3" width="73.4" height="3.6" fill="url(#g4_39)"/>
<rect x="214.6" y="340.3" width="73.4" height="3.6" fill="url(#g4_40)"/>
<rect x="214.6" y="343.3" width="73.4" height="3.6" fill="url(#g4_41)"/>
<rect x="214.6" y="346.3" width="73.4" height="3.6" fill="url(#g4_42)"/>
<rect x="214.6" y="349.3" width="73.4" height="3.6" fill="url(#g4_43)"/>
<rect x="214.6" y="352.3" width="73.4" height="3.6" fill="url(#g4_44)"/>
<rect x="214.6" y="355.3" width="73.4" height="3.6" fill="url(#g4_45)"/>
<rect x="214.6" y="358.3" width="73.4" height="3.6" fill="url(#g4_46)"/>
<rect x="214.6" y="361.3" width="73.4" height="3.6" fill="url(#g4_47)"/>
<rect x="214.6" y="364.3" width="73.4" height="3.6" fill="url(#g4_48)"/></g></g>
<g clip-path="url(#c5)"><g filter="url(#bl)"><rect x="376.4" y="220.2" width="111.0" height="3.6" fill="url(#g5_0)"/>
<rect x="376.4" y="223.2" width="111.0" height="3.6" fill="url(#g5_1)"/>
<rect x="376.4" y="226.2" width="111.0" height="3.6" fill="url(#g5_2)"/>
<rect x="376.4" y="229.2" width="111.0" height="3.6" fill="url(#g5_3)"/>
<rect x="376.4" y="232.2" width="111.0" height="3.6" fill="url(#g5_4)"/>
<rect x="376.4" y="235.2" width="111.0" height="3.6" fill="url(#g5_5)"/>
<rect x="376.4" y="238.2" width="111.0" height="3.6" fill="url(#g5_6)"/>
<rect x="376.4" y="241.2" width="111.0" height="3.6" fill="url(#g5_7)"/>
<rect x="376.4" y="244.2" width="111.0" height="3.6" fill="url(#g5_8)"/>
<rect x="376.4" y="247.2" width="111.0" height="3.6" fill="url(#g5_9)"/>
<rect x="376.4" y="250.2" width="111.0" height="3.6" fill="url(#g5_10)"/>
<rect x="376.4" y="253.2" width="111.0" height="3.6" fill="url(#g5_11)"/>
<rect x="376.4" y="256.2" width="111.0" height="3.6" fill="url(#g5_12)"/>
<rect x="376.4" y="259.2" width="111.0" height="3.6" fill="url(#g5_13)"/>
<rect x="376.4" y="262.2" width="111.0" height="3.6" fill="url(#g5_14)"/>
<rect x="376.4" y="265.2" width="111.0" height="3.6" fill="url(#g5_15)"/>
<rect x="376.4" y="268.2" width="111.0" height="3.6" fill="url(#g5_16)"/>
<rect x="376.4" y="271.2" width="111.0" height="3.6" fill="url(#g5_17)"/>
<rect x="376.4" y="274.2" width="111.0" height="3.6" fill="url(#g5_18)"/>
<rect x="376.4" y="277.2" width="111.0" height="3.6" fill="url(#g5_19)"/>
<rect x="376.4" y="280.2" width="111.0" height="3.6" fill="url(#g5_20)"/>
<rect x="376.4" y="283.2" width="111.0" height="3.6" fill="url(#g5_21)"/>
<rect x="376.4" y="286.2" width="111.0" height="3.6" fill="url(#g5_22)"/>
<rect x="376.4" y="289.2" width="111.0" height="3.6" fill="url(#g5_23)"/>
<rect x="376.4" y="292.2" width="111.0" height="3.6" fill="url(#g5_24)"/>
<rect x="376.4" y="295.2" width="111.0" height="3.6" fill="url(#g5_25)"/>
<rect x="376.4" y="298.2" width="111.0" height="3.6" fill="url(#g5_26)"/>
<rect x="376.4" y="301.2" width="111.0" height="3.6" fill="url(#g5_27)"/>
<rect x="376.4" y="304.2" width="111.0" height="3.6" fill="url(#g5_28)"/>
<rect x="376.4" y="307.2" width="111.0" height="3.6" fill="url(#g5_29)"/>
<rect x="376.4" y="310.2" width="111.0" height="3.6" fill="url(#g5_30)"/>
<rect x="376.4" y="313.2" width="111.0" height="3.6" fill="url(#g5_31)"/>
<rect x="376.4" y="316.2" width="111.0" height="3.6" fill="url(#g5_32)"/>
<rect x="376.4" y="319.2" width="111.0" height="3.6" fill="url(#g5_33)"/>
<rect x="376.4" y="322.2" width="111.0" height="3.6" fill="url(#g5_34)"/>
<rect x="376.4" y="325.2" width="111.0" height="3.6" fill="url(#g5_35)"/>
<rect x="376.4" y="328.2" width="111.0" height="3.6" fill="url(#g5_36)"/>
<rect x="376.4" y="331.2" width="111.0" height="3.6" fill="url(#g5_37)"/>
<rect x="376.4" y="334.2" width="111.0" height="3.6" fill="url(#g5_38)"/>
<rect x="376.4" y="337.2" width="111.0" height="3.6" fill="url(#g5_39)"/>
<rect x="376.4" y="340.2" width="111.0" height="3.6" fill="url(#g5_40)"/>
<rect x="376.4" y="343.2" width="111.0" height="3.6" fill="url(#g5_41)"/>
<rect x="376.4" y="346.2" width="111.0" height="3.6" fill="url(#g5_42)"/>
<rect x="376.4" y="349.2" width="111.0" height="3.6" fill="url(#g5_43)"/>
<rect x="376.4" y="352.2" width="111.0" height="3.6" fill="url(#g5_44)"/>
<rect x="376.4" y="355.2" width="111.0" height="3.6" fill="url(#g5_45)"/>
<rect x="376.4" y="358.2" width="111.0" height="3.6" fill="url(#g5_46)"/>
<rect x="376.4" y="361.2" width="111.0" height="3.6" fill="url(#g5_47)"/>
<rect x="376.4" y="364.2" width="111.0" height="3.6" fill="url(#g5_48)"/></g></g>
<rect x="42.2" y="13.7" width="126.1" height="147.9" fill="none" stroke="#555" stroke-width="1"/>
<line x1="38.6" x2="42.2" y1="161.6" y2="161.6" stroke="#555"/>
<text x="36.2" y="164.4" text-anchor="end" class="t">0</text>
<line x1="38.6" x2="42.2" y1="143.1" y2="143.1" stroke="#555"/>
<text x="36.2" y="145.9" text-anchor="end" class="t">100</text>
<line x1="38.6" x2="42.2" y1="124.6" y2="124.6" stroke="#555"/>
<text x="36.2" y="127.4" text-anchor="end" class="t">200</text>
<line x1="38.6" x2="42.2" y1="106.1" y2="106.1" stroke="#555"/>
<text x="36.2" y="108.9" text-anchor="end" class="t">300</text>
<line x1="38.6" x2="42.2" y1="87.6" y2="87.6" stroke="#555"/>
<text x="36.2" y="90.4" text-anchor="end" class="t">400</text>
<line x1="38.6" x2="42.2" y1="69.2" y2="69.2" stroke="#555"/>
<text x="36.2" y="72.0" text-anchor="end" class="t">500</text>
<line x1="38.6" x2="42.2" y1="50.7" y2="50.7" stroke="#555"/>
<text x="36.2" y="53.5" text-anchor="end" class="t">600</text>
<line x1="38.6" x2="42.2" y1="32.2" y2="32.2" stroke="#555"/>
<text x="36.2" y="35.0" text-anchor="end" class="t">700</text>
<line x1="38.6" x2="42.2" y1="13.7" y2="13.7" stroke="#555"/>
<text x="36.2" y="16.5" text-anchor="end" class="t">800</text>
<line x1="42.2" x2="42.2" y1="161.6" y2="165.0" stroke="#555"/>
<text x="42.2" y="175.3" text-anchor="middle" class="t">500</text>
<line x1="73.7" x2="73.7" y1="161.6" y2="165.0" stroke="#555"/>
<text x="73.7" y="175.3" text-anchor="middle" class="t">1000</text>
<line x1="105.2" x2="105.2" y1="161.6" y2="165.0" stroke="#555"/>
<text x="105.2" y="175.3" text-anchor="middle" class="t">1500</text>
<line x1="136.8" x2="136.8" y1="161.6" y2="165.0" stroke="#555"/>
<text x="136.8" y="175.3" text-anchor="middle" class="t">2000</text>
<line x1="168.3" x2="168.3" y1="161.6" y2="165.0" stroke="#555"/>
<text x="168.3" y="175.3" text-anchor="middle" class="t">2500</text>
<text x="105.2" y="190.3" text-anchor="middle" class="t">RPM (r/min)</text>
<text x="0" y="0" text-anchor="middle" class="t" transform="translate(16.2,87.6) rotate(-90)">Torque (Nm)</text>
<text x="140.2" y="29.5" class="t" textLength="25.6" lengthAdjust="spacingAndGlyphs">Urban</text>
<rect x="205.8" y="13.7" width="126.2" height="147.9" fill="none" stroke="#555" stroke-width="1"/>
<line x1="202.2" x2="205.8" y1="161.6" y2="161.6" stroke="#555"/>
<text x="199.8" y="164.4" text-anchor="end" class="t">0</text>
<line x1="202.2" x2="205.8" y1="143.1" y2="143.1" stroke="#555"/>
<text x="199.8" y="145.9" text-anchor="end" class="t">100</text>
<line x1="202.2" x2="205.8" y1="124.6" y2="124.6" stroke="#555"/>
<text x="199.8" y="127.4" text-anchor="end" class="t">200</text>
<line x1="202.2" x2="205.8" y1="106.1" y2="106.1" stroke="#555"/>
<text x="199.8" y="108.9" text-anchor="end" class="t">300</text>
<line x1="202.2" x2="205.8" y1="87.6" y2="87.6" stroke="#555"/>
<text x="199.8" y="90.4" text-anchor="end" class="t">400</text>
<line x1="202.2" x2="205.8" y1="69.2" y2="69.2" stroke="#555"/>
<text x="199.8" y="72.0" text-anchor="end" class="t">500</text>
<line x1="202.2" x2="205.8" y1="50.7" y2="50.7" stroke="#555"/>
<text x="199.8" y="53.5" text-anchor="end" class="t">600</text>
<line x1="202.2" x2="205.8" y1="32.2" y2="32.2" stroke="#555"/>
<text x="199.8" y="35.0" text-anchor="end" class="t">700</text>
<line x1="202.2" x2="205.8" y1="13.7" y2="13.7" stroke="#555"/>
<text x="199.8" y="16.5" text-anchor="end" class="t">800</text>
<line x1="205.8" x2="205.8" y1="161.6" y2="165.0" stroke="#555"/>
<text x="205.8" y="175.3" text-anchor="middle" class="t">500</text>
<line x1="237.4" x2="237.4" y1="161.6" y2="165.0" stroke="#555"/>
<text x="237.4" y="175.3" text-anchor="middle" class="t">1000</text>
<line x1="268.9" x2="268.9" y1="161.6" y2="165.0" stroke="#555"/>
<text x="268.9" y="175.3" text-anchor="middle" class="t">1500</text>
<line x1="300.4" x2="300.4" y1="161.6" y2="165.0" stroke="#555"/>
<text x="300.4" y="175.3" text-anchor="middle" class="t">2000</text>
<line x1="332.0" x2="332.0" y1="161.6" y2="165.0" stroke="#555"/>
<text x="332.0" y="175.3" text-anchor="middle" class="t">2500</text>
<text x="268.9" y="190.3" text-anchor="middle" class="t">RPM (r/min)</text>
<text x="0" y="0" text-anchor="middle" class="t" transform="translate(179.8,87.6) rotate(-90)">Torque (Nm)</text>
<text x="290.5" y="29.3" class="t" textLength="41.3" lengthAdjust="spacingAndGlyphs">Suburban</text>
<rect x="369.5" y="13.7" width="125.8" height="147.9" fill="none" stroke="#555" stroke-width="1"/>
<line x1="365.9" x2="369.5" y1="161.6" y2="161.6" stroke="#555"/>
<text x="363.5" y="164.4" text-anchor="end" class="t">0</text>
<line x1="365.9" x2="369.5" y1="143.1" y2="143.1" stroke="#555"/>
<text x="363.5" y="145.9" text-anchor="end" class="t">100</text>
<line x1="365.9" x2="369.5" y1="124.6" y2="124.6" stroke="#555"/>
<text x="363.5" y="127.4" text-anchor="end" class="t">200</text>
<line x1="365.9" x2="369.5" y1="106.1" y2="106.1" stroke="#555"/>
<text x="363.5" y="108.9" text-anchor="end" class="t">300</text>
<line x1="365.9" x2="369.5" y1="87.6" y2="87.6" stroke="#555"/>
<text x="363.5" y="90.4" text-anchor="end" class="t">400</text>
<line x1="365.9" x2="369.5" y1="69.2" y2="69.2" stroke="#555"/>
<text x="363.5" y="72.0" text-anchor="end" class="t">500</text>
<line x1="365.9" x2="369.5" y1="50.7" y2="50.7" stroke="#555"/>
<text x="363.5" y="53.5" text-anchor="end" class="t">600</text>
<line x1="365.9" x2="369.5" y1="32.2" y2="32.2" stroke="#555"/>
<text x="363.5" y="35.0" text-anchor="end" class="t">700</text>
<line x1="365.9" x2="369.5" y1="13.7" y2="13.7" stroke="#555"/>
<text x="363.5" y="16.5" text-anchor="end" class="t">800</text>
<line x1="369.5" x2="369.5" y1="161.6" y2="165.0" stroke="#555"/>
<text x="369.5" y="175.3" text-anchor="middle" class="t">500</text>
<line x1="400.9" x2="400.9" y1="161.6" y2="165.0" stroke="#555"/>
<text x="400.9" y="175.3" text-anchor="middle" class="t">1000</text>
<line x1="432.4" x2="432.4" y1="161.6" y2="165.0" stroke="#555"/>
<text x="432.4" y="175.3" text-anchor="middle" class="t">1500</text>
<line x1="463.9" x2="463.9" y1="161.6" y2="165.0" stroke="#555"/>
<text x="463.9" y="175.3" text-anchor="middle" class="t">2000</text>
<line x1="495.3" x2="495.3" y1="161.6" y2="165.0" stroke="#555"/>
<text x="495.3" y="175.3" text-anchor="middle" class="t">2500</text>
<text x="432.4" y="190.3" text-anchor="middle" class="t">RPM (r/min)</text>
<text x="0" y="0" text-anchor="middle" class="t" transform="translate(343.5,87.6) rotate(-90)">Torque (Nm)</text>
<text x="453.7" y="29.1" class="t" textLength="40.3" lengthAdjust="spacingAndGlyphs">Motorway</text>
<rect x="42.2" y="217.4" width="126.1" height="147.8" fill="none" stroke="#555" stroke-width="1"/>
<line x1="38.6" x2="42.2" y1="365.2" y2="365.2" stroke="#555"/>
<text x="36.2" y="368.0" text-anchor="end" class="t">0</text>
<line x1="38.6" x2="42.2" y1="346.7" y2="346.7" stroke="#555"/>
<text x="36.2" y="349.5" text-anchor="end" class="t">100</text>
<line x1="38.6" x2="42.2" y1="328.2" y2="328.2" stroke="#555"/>
<text x="36.2" y="331.1" text-anchor="end" class="t">200</text>
<line x1="38.6" x2="42.2" y1="309.8" y2="309.8" stroke="#555"/>
<text x="36.2" y="312.6" text-anchor="end" class="t">300</text>
<line x1="38.6" x2="42.2" y1="291.3" y2="291.3" stroke="#555"/>
<text x="36.2" y="294.1" text-anchor="end" class="t">400</text>
<line x1="38.6" x2="42.2" y1="272.8" y2="272.8" stroke="#555"/>
<text x="36.2" y="275.6" text-anchor="end" class="t">500</text>
<line x1="38.6" x2="42.2" y1="254.3" y2="254.3" stroke="#555"/>
<text x="36.2" y="257.1" text-anchor="end" class="t">600</text>
<line x1="38.6" x2="42.2" y1="235.9" y2="235.9" stroke="#555"/>
<text x="36.2" y="238.7" text-anchor="end" class="t">700</text>
<line x1="38.6" x2="42.2" y1="217.4" y2="217.4" stroke="#555"/>
<text x="36.2" y="220.2" text-anchor="end" class="t">800</text>
<line x1="42.2" x2="42.2" y1="365.2" y2="368.6" stroke="#555"/>
<text x="42.2" y="378.9" text-anchor="middle" class="t">500</text>
<line x1="73.7" x2="73.7" y1="365.2" y2="368.6" stroke="#555"/>
<text x="73.7" y="378.9" text-anchor="middle" class="t">1000</text>
<line x1="105.2" x2="105.2" y1="365.2" y2="368.6" stroke="#555"/>
<text x="105.2" y="378.9" text-anchor="middle" class="t">1500</text>
<line x1="136.8" x2="136.8" y1="365.2" y2="368.6" stroke="#555"/>
<text x="136.8" y="378.9" text-anchor="middle" class="t">2000</text>
<line x1="168.3" x2="168.3" y1="365.2" y2="368.6" stroke="#555"/>
<text x="168.3" y="378.9" text-anchor="middle" class="t">2500</text>
<text x="105.2" y="393.9" text-anchor="middle" class="t">RPM (r/min)</text>
<text x="0" y="0" text-anchor="middle" class="t" transform="translate(16.2,291.3) rotate(-90)">Torque (Nm)</text>
<text x="141.0" y="232.5" class="t" textLength="25.5" lengthAdjust="spacingAndGlyphs">Urban</text>
<rect x="205.8" y="217.4" width="126.2" height="147.8" fill="none" stroke="#555" stroke-width="1"/>
<line x1="202.2" x2="205.8" y1="365.2" y2="365.2" stroke="#555"/>
<text x="199.8" y="368.0" text-anchor="end" class="t">0</text>
<line x1="202.2" x2="205.8" y1="346.7" y2="346.7" stroke="#555"/>
<text x="199.8" y="349.5" text-anchor="end" class="t">100</text>
<line x1="202.2" x2="205.8" y1="328.2" y2="328.2" stroke="#555"/>
<text x="199.8" y="331.1" text-anchor="end" class="t">200</text>
<line x1="202.2" x2="205.8" y1="309.8" y2="309.8" stroke="#555"/>
<text x="199.8" y="312.6" text-anchor="end" class="t">300</text>
<line x1="202.2" x2="205.8" y1="291.3" y2="291.3" stroke="#555"/>
<text x="199.8" y="294.1" text-anchor="end" class="t">400</text>
<line x1="202.2" x2="205.8" y1="272.8" y2="272.8" stroke="#555"/>
<text x="199.8" y="275.6" text-anchor="end" class="t">500</text>
<line x1="202.2" x2="205.8" y1="254.3" y2="254.3" stroke="#555"/>
<text x="199.8" y="257.1" text-anchor="end" class="t">600</text>
<line x1="202.2" x2="205.8" y1="235.9" y2="235.9" stroke="#555"/>
<text x="199.8" y="238.7" text-anchor="end" class="t">700</text>
<line x1="202.2" x2="205.8" y1="217.4" y2="217.4" stroke="#555"/>
<text x="199.8" y="220.2" text-anchor="end" class="t">800</text>
<line x1="205.8" x2="205.8" y1="365.2" y2="368.6" stroke="#555"/>
<text x="205.8" y="378.9" text-anchor="middle" class="t">500</text>
<line x1="237.4" x2="237.4" y1="365.2" y2="368.6" stroke="#555"/>
<text x="237.4" y="378.9" text-anchor="middle" class="t">1000</text>
<line x1="268.9" x2="268.9" y1="365.2" y2="368.6" stroke="#555"/>
<text x="268.9" y="378.9" text-anchor="middle" class="t">1500</text>
<line x1="300.4" x2="300.4" y1="365.2" y2="368.6" stroke="#555"/>
<text x="300.4" y="378.9" text-anchor="middle" class="t">2000</text>
<line x1="332.0" x2="332.0" y1="365.2" y2="368.6" stroke="#555"/>
<text x="332.0" y="378.9" text-anchor="middle" class="t">2500</text>
<text x="268.9" y="393.9" text-anchor="middle" class="t">RPM (r/min)</text>
<text x="0" y="0" text-anchor="middle" class="t" transform="translate(179.8,291.3) rotate(-90)">Torque (Nm)</text>
<text x="289.5" y="231.7" class="t" textLength="40.0" lengthAdjust="spacingAndGlyphs">Suburban</text>
<rect x="369.5" y="217.4" width="125.8" height="147.8" fill="none" stroke="#555" stroke-width="1"/>
<line x1="365.9" x2="369.5" y1="365.2" y2="365.2" stroke="#555"/>
<text x="363.5" y="368.0" text-anchor="end" class="t">0</text>
<line x1="365.9" x2="369.5" y1="346.7" y2="346.7" stroke="#555"/>
<text x="363.5" y="349.5" text-anchor="end" class="t">100</text>
<line x1="365.9" x2="369.5" y1="328.2" y2="328.2" stroke="#555"/>
<text x="363.5" y="331.1" text-anchor="end" class="t">200</text>
<line x1="365.9" x2="369.5" y1="309.8" y2="309.8" stroke="#555"/>
<text x="363.5" y="312.6" text-anchor="end" class="t">300</text>
<line x1="365.9" x2="369.5" y1="291.3" y2="291.3" stroke="#555"/>
<text x="363.5" y="294.1" text-anchor="end" class="t">400</text>
<line x1="365.9" x2="369.5" y1="272.8" y2="272.8" stroke="#555"/>
<text x="363.5" y="275.6" text-anchor="end" class="t">500</text>
<line x1="365.9" x2="369.5" y1="254.3" y2="254.3" stroke="#555"/>
<text x="363.5" y="257.1" text-anchor="end" class="t">600</text>
<line x1="365.9" x2="369.5" y1="235.9" y2="235.9" stroke="#555"/>
<text x="363.5" y="238.7" text-anchor="end" class="t">700</text>
<line x1="365.9" x2="369.5" y1="217.4" y2="217.4" stroke="#555"/>
<text x="363.5" y="220.2" text-anchor="end" class="t">800</text>
<line x1="369.5" x2="369.5" y1="365.2" y2="368.6" stroke="#555"/>
<text x="369.5" y="378.9" text-anchor="middle" class="t">500</text>
<line x1="400.9" x2="400.9" y1="365.2" y2="368.6" stroke="#555"/>
<text x="400.9" y="378.9" text-anchor="middle" class="t">1000</text>
<line x1="432.4" x2="432.4" y1="365.2" y2="368.6" stroke="#555"/>
<text x="432.4" y="378.9" text-anchor="middle" class="t">1500</text>
<line x1="463.9" x2="463.9" y1="365.2" y2="368.6" stroke="#555"/>
<text x="463.9" y="378.9" text-anchor="middle" class="t">2000</text>
<line x1="495.3" x2="495.3" y1="365.2" y2="368.6" stroke="#555"/>
<text x="495.3" y="378.9" text-anchor="middle" class="t">2500</text>
<text x="432.4" y="393.9" text-anchor="middle" class="t">RPM (r/min)</text>
<text x="0" y="0" text-anchor="middle" class="t" transform="translate(343.5,291.3) rotate(-90)">Torque (Nm)</text>
<text x="451.0" y="230.6" class="t" textLength="40.7" lengthAdjust="spacingAndGlyphs">Motorway</text>
<linearGradient id="cb0" x1="0" x2="0" y1="0" y2="1"><stop offset="0.000" stop-color="#ff0000"/><stop offset="0.070" stop-color="#ff0a00"/><stop offset="0.140" stop-color="#ff5000"/><stop offset="0.209" stop-color="#ff9600"/><stop offset="0.302" stop-color="#fff000"/><stop offset="0.349" stop-color="#b4ff00"/><stop offset="0.419" stop-color="#28ff00"/><stop offset="0.535" stop-color="#00ff00"/><stop offset="0.581" stop-color="#00ff28"/><stop offset="0.674" stop-color="#00ffaa"/><stop offset="0.767" stop-color="#00e4ff"/><stop offset="0.849" stop-color="#0082ff"/><stop offset="0.930" stop-color="#0828fa"/><stop offset="0.972" stop-color="#000afa"/><stop offset="1.000" stop-color="#0000eb"/></linearGradient>
<rect x="502.4" y="23.1" width="12.5" height="135.7" fill="url(#cb0)"/>
<rect x="502.4" y="23.1" width="12.5" height="138.4" fill="none" stroke="#8a8a8a" stroke-width="0.8"/>
<line x1="514.9" x2="517.7" y1="158.8" y2="158.8" stroke="#6b6b6b"/>
<text x="519.3" y="162.2" class="t">0.0</text>
<line x1="514.9" x2="517.7" y1="127.3" y2="127.3" stroke="#6b6b6b"/>
<text x="519.3" y="130.7" class="t">0.1</text>
<line x1="514.9" x2="517.7" y1="95.8" y2="95.8" stroke="#6b6b6b"/>
<text x="519.3" y="99.2" class="t">0.2</text>
<line x1="514.9" x2="517.7" y1="64.3" y2="64.3" stroke="#6b6b6b"/>
<text x="519.3" y="67.7" class="t">0.3</text>
<line x1="514.9" x2="517.7" y1="32.8" y2="32.8" stroke="#6b6b6b"/>
<text x="519.3" y="36.2" class="t">0.4</text>
<text x="502.0" y="17.7" class="t">NOx (g/s)</text>
<linearGradient id="cb1" x1="0" x2="0" y1="0" y2="1"><stop offset="0.000" stop-color="#ff0000"/><stop offset="0.070" stop-color="#ff0a00"/><stop offset="0.140" stop-color="#ff5000"/><stop offset="0.209" stop-color="#ff9600"/><stop offset="0.302" stop-color="#fff000"/><stop offset="0.349" stop-color="#b4ff00"/><stop offset="0.419" stop-color="#28ff00"/><stop offset="0.535" stop-color="#00ff00"/><stop offset="0.581" stop-color="#00ff28"/><stop offset="0.674" stop-color="#00ffaa"/><stop offset="0.767" stop-color="#00e4ff"/><stop offset="0.849" stop-color="#0082ff"/><stop offset="0.930" stop-color="#0828fa"/><stop offset="0.972" stop-color="#000afa"/><stop offset="1.000" stop-color="#0000eb"/></linearGradient>
<rect x="502.4" y="226.8" width="12.5" height="135.7" fill="url(#cb1)"/>
<rect x="502.4" y="226.8" width="12.5" height="138.4" fill="none" stroke="#8a8a8a" stroke-width="0.8"/>
<line x1="514.9" x2="517.7" y1="362.5" y2="362.5" stroke="#6b6b6b"/>
<text x="519.3" y="365.9" class="t">0.0</text>
<line x1="514.9" x2="517.7" y1="331.0" y2="331.0" stroke="#6b6b6b"/>
<text x="519.3" y="334.4" class="t">0.1</text>
<line x1="514.9" x2="517.7" y1="299.5" y2="299.5" stroke="#6b6b6b"/>
<text x="519.3" y="302.9" class="t">0.2</text>
<line x1="514.9" x2="517.7" y1="268.0" y2="268.0" stroke="#6b6b6b"/>
<text x="519.3" y="271.4" class="t">0.3</text>
<line x1="514.9" x2="517.7" y1="236.5" y2="236.5" stroke="#6b6b6b"/>
<text x="519.3" y="239.9" class="t">0.4</text>
<text x="502.0" y="221.4" class="t">NOx (g/s)</text>
<text x="274.6" y="207.5" text-anchor="middle" class="cap">(<tspan font-weight="bold">a</tspan>) Vehicle No. 1</text>
<text x="274.4" y="411.1" text-anchor="middle" class="cap">(<tspan font-weight="bold">b</tspan>) Vehicle No. 2</text>
</svg>
</body></html>
